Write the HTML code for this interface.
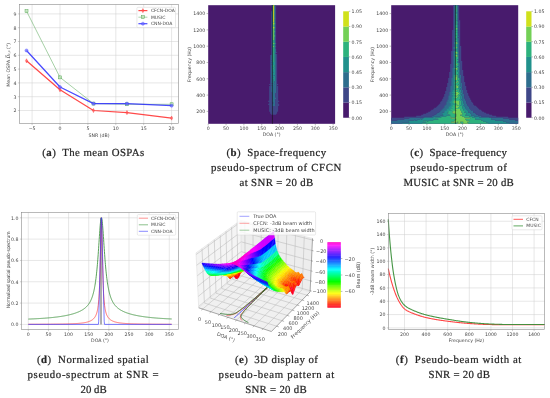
<!DOCTYPE html>
<html lang="en"><head><meta charset="utf-8"><title>Figure</title>
<style>html,body{margin:0;padding:0;background:#fff}svg{display:block}.k text{stroke:none}.k text.c{stroke:#262626;stroke-width:.22px}</style></head>
<body>
<svg width="550" height="398" viewBox="0 0 550 398" font-family='"DejaVu Sans","Liberation Sans",sans-serif' class="k" text-rendering="geometricPrecision">
<defs><clipPath id="ca"><rect x="19.5" y="4.5" width="159" height="119"/></clipPath></defs>
<rect x="19.5" y="4.5" width="159" height="119" fill="#fff"/>
<line x1="32.1" y1="4.5" x2="32.1" y2="123.5" stroke="#cfcfcf" stroke-width="0.5"/>
<line x1="60" y1="4.5" x2="60" y2="123.5" stroke="#cfcfcf" stroke-width="0.5"/>
<line x1="87.9" y1="4.5" x2="87.9" y2="123.5" stroke="#cfcfcf" stroke-width="0.5"/>
<line x1="115.8" y1="4.5" x2="115.8" y2="123.5" stroke="#cfcfcf" stroke-width="0.5"/>
<line x1="143.7" y1="4.5" x2="143.7" y2="123.5" stroke="#cfcfcf" stroke-width="0.5"/>
<line x1="171.6" y1="4.5" x2="171.6" y2="123.5" stroke="#cfcfcf" stroke-width="0.5"/>
<line x1="19.5" y1="110.5" x2="178.5" y2="110.5" stroke="#cfcfcf" stroke-width="0.5"/>
<line x1="19.5" y1="96.7" x2="178.5" y2="96.7" stroke="#cfcfcf" stroke-width="0.5"/>
<line x1="19.5" y1="82.9" x2="178.5" y2="82.9" stroke="#cfcfcf" stroke-width="0.5"/>
<line x1="19.5" y1="69.1" x2="178.5" y2="69.1" stroke="#cfcfcf" stroke-width="0.5"/>
<line x1="19.5" y1="55.3" x2="178.5" y2="55.3" stroke="#cfcfcf" stroke-width="0.5"/>
<line x1="19.5" y1="41.5" x2="178.5" y2="41.5" stroke="#cfcfcf" stroke-width="0.5"/>
<line x1="19.5" y1="27.7" x2="178.5" y2="27.7" stroke="#cfcfcf" stroke-width="0.5"/>
<line x1="19.5" y1="13.9" x2="178.5" y2="13.9" stroke="#cfcfcf" stroke-width="0.5"/>
<line x1="32.1" y1="123.5" x2="32.1" y2="125.1" stroke="#8a8a8a" stroke-width="0.4"/>
<line x1="60" y1="123.5" x2="60" y2="125.1" stroke="#8a8a8a" stroke-width="0.4"/>
<line x1="87.9" y1="123.5" x2="87.9" y2="125.1" stroke="#8a8a8a" stroke-width="0.4"/>
<line x1="115.8" y1="123.5" x2="115.8" y2="125.1" stroke="#8a8a8a" stroke-width="0.4"/>
<line x1="143.7" y1="123.5" x2="143.7" y2="125.1" stroke="#8a8a8a" stroke-width="0.4"/>
<line x1="171.6" y1="123.5" x2="171.6" y2="125.1" stroke="#8a8a8a" stroke-width="0.4"/>
<line x1="17.9" y1="110.5" x2="19.5" y2="110.5" stroke="#8a8a8a" stroke-width="0.4"/>
<line x1="17.9" y1="96.7" x2="19.5" y2="96.7" stroke="#8a8a8a" stroke-width="0.4"/>
<line x1="17.9" y1="82.9" x2="19.5" y2="82.9" stroke="#8a8a8a" stroke-width="0.4"/>
<line x1="17.9" y1="69.1" x2="19.5" y2="69.1" stroke="#8a8a8a" stroke-width="0.4"/>
<line x1="17.9" y1="55.3" x2="19.5" y2="55.3" stroke="#8a8a8a" stroke-width="0.4"/>
<line x1="17.9" y1="41.5" x2="19.5" y2="41.5" stroke="#8a8a8a" stroke-width="0.4"/>
<line x1="17.9" y1="27.7" x2="19.5" y2="27.7" stroke="#8a8a8a" stroke-width="0.4"/>
<line x1="17.9" y1="13.9" x2="19.5" y2="13.9" stroke="#8a8a8a" stroke-width="0.4"/>
<text x="32.1" y="130.4" font-size="4.7" text-anchor="middle" fill="#484848">−5</text>
<text x="60" y="130.4" font-size="4.7" text-anchor="middle" fill="#484848">0</text>
<text x="87.9" y="130.4" font-size="4.7" text-anchor="middle" fill="#484848">5</text>
<text x="115.8" y="130.4" font-size="4.7" text-anchor="middle" fill="#484848">10</text>
<text x="143.7" y="130.4" font-size="4.7" text-anchor="middle" fill="#484848">15</text>
<text x="171.6" y="130.4" font-size="4.7" text-anchor="middle" fill="#484848">20</text>
<text x="16.5" y="112.3" font-size="4.7" text-anchor="end" fill="#484848">2</text>
<text x="16.5" y="98.5" font-size="4.7" text-anchor="end" fill="#484848">3</text>
<text x="16.5" y="84.7" font-size="4.7" text-anchor="end" fill="#484848">4</text>
<text x="16.5" y="70.9" font-size="4.7" text-anchor="end" fill="#484848">5</text>
<text x="16.5" y="57.1" font-size="4.7" text-anchor="end" fill="#484848">6</text>
<text x="16.5" y="43.3" font-size="4.7" text-anchor="end" fill="#484848">7</text>
<text x="16.5" y="29.5" font-size="4.7" text-anchor="end" fill="#484848">8</text>
<text x="16.5" y="15.7" font-size="4.7" text-anchor="end" fill="#484848">9</text>
<text x="99" y="136.6" font-size="4.7" text-anchor="middle" fill="#484848">SNR (dB)</text>
<text transform="translate(9.5 64.8) rotate(-90)" font-size="4.7" text-anchor="middle" fill="#484848" textLength="44">Mean OSPA <tspan font-style="italic">D̅</tspan><tspan font-size="2.8" dy="0.9" font-style="italic">c,p</tspan><tspan dy="-0.9"> (°)</tspan></text>
<g clip-path="url(#ca)">
<polyline points="26.52,60.82 60,89.8 93.48,110.5 126.96,112.57 171.6,118.09" fill="none" stroke="#ff2a2a" stroke-width="1.25" stroke-opacity="0.85" stroke-linejoin="round"/>
<path d="M26.52 58.72L27.62 60.82L26.52 62.92L25.42 60.82Z" fill="#ff5a5a" fill-opacity="0.75" stroke="#ff2a2a" stroke-width="0.35"/>
<path d="M60 87.7L61.1 89.8L60 91.9L58.9 89.8Z" fill="#ff5a5a" fill-opacity="0.75" stroke="#ff2a2a" stroke-width="0.35"/>
<path d="M93.48 108.4L94.58 110.5L93.48 112.6L92.38 110.5Z" fill="#ff5a5a" fill-opacity="0.75" stroke="#ff2a2a" stroke-width="0.35"/>
<path d="M126.96 110.47L128.06 112.57L126.96 114.67L125.86 112.57Z" fill="#ff5a5a" fill-opacity="0.75" stroke="#ff2a2a" stroke-width="0.35"/>
<path d="M171.6 115.99L172.7 118.09L171.6 120.19L170.5 118.09Z" fill="#ff5a5a" fill-opacity="0.75" stroke="#ff2a2a" stroke-width="0.35"/>
<polyline points="26.52,11.14 60,77.38 93.48,103.6 126.96,104.29 171.6,104.29" fill="none" stroke="#3c9a3c" stroke-width="0.5" stroke-opacity="0.9" stroke-linejoin="round"/>
<rect x="25.02" y="9.64" width="3" height="3" fill="#b8e0b0" stroke="#4aa04a" stroke-width="0.45" fill-opacity="0.7"/>
<rect x="58.5" y="75.88" width="3" height="3" fill="#b8e0b0" stroke="#4aa04a" stroke-width="0.45" fill-opacity="0.7"/>
<rect x="91.98" y="102.1" width="3" height="3" fill="#b8e0b0" stroke="#4aa04a" stroke-width="0.45" fill-opacity="0.7"/>
<rect x="125.46" y="102.79" width="3" height="3" fill="#b8e0b0" stroke="#4aa04a" stroke-width="0.45" fill-opacity="0.7"/>
<rect x="170.1" y="102.79" width="3" height="3" fill="#b8e0b0" stroke="#4aa04a" stroke-width="0.45" fill-opacity="0.7"/>
<polyline points="26.52,50.47 60,87.04 93.48,103.6 126.96,103.6 171.6,105.67" fill="none" stroke="#2a2aff" stroke-width="1.25" stroke-opacity="0.85" stroke-linejoin="round"/>
<circle cx="26.52" cy="50.47" r="1.55" fill="#6a6aff" fill-opacity="0.7" stroke="#3a3aff" stroke-width="0.35"/>
<circle cx="60" cy="87.04" r="1.55" fill="#6a6aff" fill-opacity="0.7" stroke="#3a3aff" stroke-width="0.35"/>
<circle cx="93.48" cy="103.6" r="1.55" fill="#6a6aff" fill-opacity="0.7" stroke="#3a3aff" stroke-width="0.35"/>
<circle cx="126.96" cy="103.6" r="1.55" fill="#6a6aff" fill-opacity="0.7" stroke="#3a3aff" stroke-width="0.35"/>
<circle cx="171.6" cy="105.67" r="1.55" fill="#6a6aff" fill-opacity="0.7" stroke="#3a3aff" stroke-width="0.35"/>
</g>
<rect x="19.5" y="4.5" width="159" height="119" fill="none" stroke="#8a8a8a" stroke-width="0.6"/>
<rect x="136.9" y="7.3" width="38.6" height="20.3" fill="#fff" stroke="#d4d4d4" stroke-width="0.5" rx="1" fill-opacity="0.85"/>
<line x1="138.4" y1="10.6" x2="147.4" y2="10.6" stroke="#ff2a2a" stroke-width="1.2" stroke-opacity="0.85"/>
<text x="150.9" y="12.1" font-size="4.5" fill="#484848">CFCN-DOA</text>
<line x1="138.4" y1="17.2" x2="147.4" y2="17.2" stroke="#3c9a3c" stroke-width="0.5" stroke-opacity="0.85"/>
<text x="150.9" y="18.7" font-size="4.5" fill="#484848">MUSIC</text>
<line x1="138.4" y1="23.7" x2="147.4" y2="23.7" stroke="#2a2aff" stroke-width="1.2" stroke-opacity="0.85"/>
<text x="150.9" y="25.2" font-size="4.5" fill="#484848">CNN-DOA</text>
<path d="M142.9 8.5L144 10.6L142.9 12.7L141.8 10.6Z" fill="#ff5a5a" fill-opacity="0.75" stroke="#ff2a2a" stroke-width="0.35"/>
<rect x="141.4" y="15.7" width="3" height="3" fill="#b8e0b0" stroke="#4aa04a" stroke-width="0.45" fill-opacity="0.7"/>
<circle cx="142.9" cy="23.7" r="1.55" fill="#6a6aff" fill-opacity="0.7" stroke="#3a3aff" stroke-width="0.35"/>
<rect x="208.2" y="5.2" width="126.9" height="118.6" fill="#481b6d"/>
<path d="M271.15 5.7h1M275.15 5.7h1M275.15 6.69h1M275.15 7.69h1M275.15 8.69h1M275.15 9.68h1M275.15 10.68h1M271.15 11.68h1M275.15 11.68h1M271.15 12.67h1M275.15 12.67h1M271.15 13.67h1M275.15 13.67h1M271.15 14.67h1M275.15 14.67h1M271.15 15.66h1M275.15 15.66h1M271.15 16.66h1M275.15 16.66h1M271.15 17.66h1M275.15 17.66h1M271.15 18.65h1M275.15 18.65h1M271.15 19.65h1M275.15 19.65h1M271.15 20.65h1M275.15 20.65h1M271.15 21.64h1M275.15 21.64h1M271.15 22.64h1M275.15 22.64h1M271.15 23.64h1M275.15 23.64h1M271.15 24.63h1M275.15 24.63h1M271.15 25.63h1M275.15 25.63h1M271.15 26.63h1M275.15 26.63h1M271.15 27.62h1M275.15 27.62h1M271.15 28.62h1M275.15 28.62h1M271.15 29.62h1M275.15 29.62h1M271.15 30.61h1M275.15 30.61h1M271.15 31.61h1M275.15 31.61h1M271.15 32.61h1M275.15 32.61h1M271.15 33.6h1M275.15 33.6h1M271.15 34.6h1M275.15 34.6h1M271.15 35.6h1M275.15 35.6h1M271.15 36.59h1M275.15 36.59h1M271.15 37.59h1M275.15 37.59h1M271.15 38.59h1M275.15 38.59h1M271.15 39.58h1M275.15 39.58h1M271.15 40.58h1M275.15 40.58h1M271.15 41.58h1M275.15 41.58h1M271.15 42.57h1M275.15 42.57h1M271.15 43.57h1M271.15 44.57h1M275.15 44.57h1M271.15 45.56h1M275.15 45.56h1M271.15 46.56h1M271.15 47.56h1M275.15 47.56h1M271.15 48.55h1M275.15 48.55h1M271.15 49.55h1M271.15 50.55h1M271.15 51.54h1M271.15 52.54h1M276.15 52.54h1M271.15 53.54h1M275.15 53.54h1M271.15 54.53h1M276.15 54.53h1M270.15 55.53h1M276.15 55.53h1M270.15 56.53h1M276.15 56.53h1M270.15 57.52h1M276.15 57.52h1M270.15 58.52h1M276.15 58.52h1M270.15 59.52h1M276.15 59.52h1M270.15 60.51h2M276.15 60.51h1M270.15 61.51h1M276.15 61.51h1M270.15 62.51h2M276.15 62.51h1M270.15 63.5h1M276.15 63.5h1M270.15 64.5h2M276.15 64.5h1M270.15 65.5h1M276.15 65.5h1M270.15 66.49h1M276.15 66.49h1M270.15 67.49h1M276.15 67.49h1M270.15 68.49h1M276.15 68.49h1M270.15 69.48h1M276.15 69.48h1M270.15 70.48h1M276.15 70.48h1M270.15 71.48h1M276.15 71.48h1M270.15 72.47h1M276.15 72.47h1M270.15 73.47h1M276.15 73.47h1M270.15 74.47h1M276.15 74.47h1M270.15 75.46h1M276.15 75.46h1M270.15 76.46h1M276.15 76.46h1M270.15 77.46h1M276.15 77.46h1M270.15 78.45h1M276.15 78.45h1M270.15 79.45h1M276.15 79.45h1M270.15 80.45h1M276.15 80.45h1M270.15 81.44h1M276.15 81.44h1M270.15 82.44h1M276.15 82.44h1M270.15 83.44h2M276.15 83.44h1M269.15 84.43h2M276.15 84.43h2M270.15 85.43h2M276.15 85.43h1M269.15 86.43h2M276.15 86.43h2M269.15 87.42h2M276.15 87.42h2M269.15 88.42h2M276.15 88.42h2M269.15 89.42h2M276.15 89.42h2M269.15 90.41h2M276.15 90.41h2M269.15 91.41h2M276.15 91.41h2M269.15 92.41h3M276.15 92.41h2M269.15 93.4h3M275.15 93.4h3M269.15 94.4h3M275.15 94.4h3M269.15 95.4h3M275.15 95.4h3M269.15 96.39h3M275.15 96.39h3M269.15 97.39h3M275.15 97.39h3M269.15 98.39h3M276.15 98.39h2M269.15 99.38h3M275.15 99.38h3M269.15 100.38h3M275.15 100.38h3M268.15 101.38h4M275.15 101.38h4M269.15 102.37h4M275.15 102.37h3M269.15 103.37h4M275.15 103.37h3M268.15 104.37h4M275.15 104.37h4M269.15 105.36h3M275.15 105.36h4M269.15 106.36h8.99M269.15 107.36h8.99M269.15 108.35h8.99M269.15 109.35h8.99M269.15 110.35h8.99M269.15 111.34h8.99M270.15 112.34h6.99M270.15 113.34h6.99M271.15 114.33h5" stroke="#3f4788" stroke-width="1.05" fill="none"/>
<path d="M275.15 43.57h1M275.15 46.56h1M275.15 49.55h1M275.15 50.55h1M275.15 51.54h1M275.15 52.54h1M275.15 54.53h1M271.15 55.53h1M275.15 55.53h1M271.15 56.53h1M275.15 56.53h1M271.15 57.52h1M275.15 57.52h1M271.15 58.52h1M275.15 58.52h1M271.15 59.52h1M275.15 59.52h1M275.15 60.51h1M271.15 61.51h1M275.15 61.51h1M275.15 62.51h1M271.15 63.5h1M275.15 63.5h1M275.15 64.5h1M271.15 65.5h1M275.15 65.5h1M271.15 66.49h1M275.15 66.49h1M271.15 67.49h1M275.15 67.49h1M271.15 68.49h1M275.15 68.49h1M271.15 69.48h1M275.15 69.48h1M271.15 70.48h1M275.15 70.48h1M271.15 71.48h1M275.15 71.48h1M271.15 72.47h2M275.15 72.47h1M271.15 73.47h1M275.15 73.47h1M271.15 74.47h1M275.15 74.47h1M271.15 75.46h2M274.15 75.46h2M271.15 76.46h1M275.15 76.46h1M271.15 77.46h2M275.15 77.46h1M271.15 78.45h1M275.15 78.45h1M271.15 79.45h2M275.15 79.45h1M271.15 80.45h2M275.15 80.45h1M271.15 81.44h2M274.15 81.44h2M271.15 82.44h2M274.15 82.44h2M272.15 83.44h4M271.15 84.43h2M274.15 84.43h2M272.15 85.43h4M271.15 86.43h5M271.15 87.42h5M271.15 88.42h5M271.15 89.42h5M271.15 90.41h5M271.15 91.41h5M272.15 92.41h4M272.15 93.4h3M272.15 94.4h3M272.15 95.4h3M272.15 96.39h3M272.15 97.39h3M272.15 98.39h4M272.15 99.38h3M272.15 100.38h3M272.15 101.38h3M273.15 102.37h2M273.15 103.37h2M272.15 104.37h3M272.15 105.36h3" stroke="#2e6e8e" stroke-width="1.05" fill="none"/>
<path d="M272.15 5.7h1M272.15 6.69h1M274.15 6.69h1M272.15 7.69h1M274.15 7.69h1M272.15 8.69h1M274.15 8.69h1M272.15 9.68h1M274.15 9.68h1M272.15 10.68h1M274.15 10.68h1M272.15 11.68h1M274.15 11.68h1M272.15 12.67h1M274.15 12.67h1M272.15 13.67h1M274.15 13.67h1M272.15 14.67h1M274.15 14.67h1M272.15 15.66h1M274.15 15.66h1M272.15 16.66h1M274.15 16.66h1M272.15 17.66h1M274.15 17.66h1M272.15 18.65h1M272.15 19.65h1M274.15 19.65h1M272.15 20.65h1M274.15 20.65h1M272.15 21.64h1M274.15 21.64h1M272.15 22.64h1M274.15 22.64h1M272.15 23.64h1M272.15 24.63h1M274.15 24.63h1M272.15 25.63h1M274.15 25.63h1M272.15 26.63h1M274.15 26.63h1M272.15 27.62h1M272.15 28.62h1M274.15 28.62h1M272.15 29.62h1M274.15 29.62h1M272.15 30.61h1M274.15 30.61h1M272.15 31.61h1M272.15 32.61h1M274.15 32.61h1M272.15 33.6h1M274.15 33.6h1M272.15 34.6h1M274.15 34.6h1M272.15 35.6h1M272.15 36.59h1M272.15 37.59h1M274.15 37.59h1M272.15 38.59h1M274.15 38.59h1M272.15 39.58h1M274.15 39.58h1M272.15 40.58h1M274.15 40.58h1M272.15 41.58h1M274.15 41.58h1M272.15 42.57h1M274.15 42.57h1M272.15 43.57h1M272.15 44.57h1M274.15 44.57h1M272.15 45.56h1M274.15 45.56h1M272.15 46.56h1M274.15 46.56h1M272.15 47.56h1M274.15 47.56h1M272.15 48.55h1M274.15 48.55h1M272.15 49.55h1M274.15 49.55h1M272.15 50.55h1M274.15 50.55h1M272.15 51.54h1M274.15 51.54h1M272.15 52.54h1M274.15 52.54h1M272.15 53.54h1M274.15 53.54h1M272.15 54.53h1M274.15 54.53h1M272.15 55.53h1M274.15 55.53h1M272.15 56.53h1M274.15 56.53h1M272.15 57.52h1M274.15 57.52h1M272.15 58.52h1M274.15 58.52h1M272.15 59.52h1M274.15 59.52h1M272.15 60.51h1M274.15 60.51h1M272.15 61.51h1M274.15 61.51h1M272.15 62.51h3M272.15 63.5h3M272.15 64.5h3M272.15 65.5h1M274.15 65.5h1M272.15 66.49h1M274.15 66.49h1M272.15 67.49h3M272.15 68.49h1M274.15 68.49h1M272.15 69.48h3M272.15 70.48h3M272.15 71.48h3M273.15 72.47h2M272.15 73.47h3M272.15 74.47h3M273.15 75.46h1M272.15 76.46h3M273.15 77.46h2M272.15 78.45h3M273.15 79.45h2M273.15 80.45h2M273.15 81.44h1M273.15 82.44h1M273.15 84.43h1" stroke="#21918c" stroke-width="1.05" fill="none"/>
<path d="M274.15 5.7h1M274.15 18.65h1M274.15 23.64h1M274.15 27.62h1M274.15 31.61h1M274.15 35.6h1M274.15 36.59h1M273.15 40.58h1M273.15 41.58h1M273.15 42.57h1M274.15 43.57h1M273.15 44.57h1M273.15 45.56h1M273.15 47.56h1M273.15 48.55h1M273.15 49.55h1M273.15 50.55h1M273.15 51.54h1M273.15 52.54h1M273.15 53.54h1M273.15 54.53h1M273.15 55.53h1M273.15 56.53h1M273.15 57.52h1M273.15 58.52h1M273.15 59.52h1M273.15 60.51h1M273.15 61.51h1M273.15 65.5h1M273.15 66.49h1M273.15 68.49h1" stroke="#2db27d" stroke-width="1.05" fill="none"/>
<path d="M273.15 22.64h1M273.15 24.63h1M273.15 25.63h1M273.15 26.63h1M273.15 28.62h1M273.15 29.62h1M273.15 30.61h1M273.15 31.61h1M273.15 32.61h1M273.15 33.6h1M273.15 34.6h1M273.15 35.6h1M273.15 36.59h1M273.15 37.59h1M273.15 38.59h1M273.15 39.58h1M273.15 43.57h1M273.15 46.56h1" stroke="#73d056" stroke-width="1.05" fill="none"/>
<path d="M273.15 5.7h1M273.15 6.69h1M273.15 7.69h1M273.15 8.69h1M273.15 9.68h1M273.15 10.68h1M273.15 11.68h1M273.15 12.67h1M273.15 13.67h1M273.15 14.67h1M273.15 15.66h1M273.15 16.66h1M273.15 17.66h1M273.15 18.65h1M273.15 19.65h1M273.15 20.65h1M273.15 21.64h1M273.15 23.64h1M273.15 27.62h1" stroke="#d0e11c" stroke-width="1.05" fill="none"/>
<line x1="272.46" y1="5.2" x2="272.46" y2="123.8" stroke="#101010" stroke-width="0.55"/>
<line x1="208.2" y1="123.8" x2="208.2" y2="125.4" stroke="#555" stroke-width="0.4"/>
<text x="208.2" y="130.2" font-size="4.7" text-anchor="middle" fill="#484848">0</text>
<line x1="226.05" y1="123.8" x2="226.05" y2="125.4" stroke="#555" stroke-width="0.4"/>
<text x="226.05" y="130.2" font-size="4.7" text-anchor="middle" fill="#484848">50</text>
<line x1="243.9" y1="123.8" x2="243.9" y2="125.4" stroke="#555" stroke-width="0.4"/>
<text x="243.9" y="130.2" font-size="4.7" text-anchor="middle" fill="#484848">100</text>
<line x1="261.75" y1="123.8" x2="261.75" y2="125.4" stroke="#555" stroke-width="0.4"/>
<text x="261.75" y="130.2" font-size="4.7" text-anchor="middle" fill="#484848">150</text>
<line x1="279.6" y1="123.8" x2="279.6" y2="125.4" stroke="#555" stroke-width="0.4"/>
<text x="279.6" y="130.2" font-size="4.7" text-anchor="middle" fill="#484848">200</text>
<line x1="297.45" y1="123.8" x2="297.45" y2="125.4" stroke="#555" stroke-width="0.4"/>
<text x="297.45" y="130.2" font-size="4.7" text-anchor="middle" fill="#484848">250</text>
<line x1="315.3" y1="123.8" x2="315.3" y2="125.4" stroke="#555" stroke-width="0.4"/>
<text x="315.3" y="130.2" font-size="4.7" text-anchor="middle" fill="#484848">300</text>
<line x1="333.15" y1="123.8" x2="333.15" y2="125.4" stroke="#555" stroke-width="0.4"/>
<text x="333.15" y="130.2" font-size="4.7" text-anchor="middle" fill="#484848">350</text>
<line x1="206.6" y1="111.4" x2="208.2" y2="111.4" stroke="#555" stroke-width="0.4"/>
<text x="205.2" y="113.2" font-size="4.7" text-anchor="end" fill="#484848">200</text>
<line x1="206.6" y1="95.1" x2="208.2" y2="95.1" stroke="#555" stroke-width="0.4"/>
<text x="205.2" y="96.9" font-size="4.7" text-anchor="end" fill="#484848">400</text>
<line x1="206.6" y1="78.8" x2="208.2" y2="78.8" stroke="#555" stroke-width="0.4"/>
<text x="205.2" y="80.6" font-size="4.7" text-anchor="end" fill="#484848">600</text>
<line x1="206.6" y1="62.5" x2="208.2" y2="62.5" stroke="#555" stroke-width="0.4"/>
<text x="205.2" y="64.3" font-size="4.7" text-anchor="end" fill="#484848">800</text>
<line x1="206.6" y1="46.2" x2="208.2" y2="46.2" stroke="#555" stroke-width="0.4"/>
<text x="205.2" y="48" font-size="4.7" text-anchor="end" fill="#484848">1000</text>
<line x1="206.6" y1="29.9" x2="208.2" y2="29.9" stroke="#555" stroke-width="0.4"/>
<text x="205.2" y="31.7" font-size="4.7" text-anchor="end" fill="#484848">1200</text>
<line x1="206.6" y1="13.6" x2="208.2" y2="13.6" stroke="#555" stroke-width="0.4"/>
<text x="205.2" y="15.4" font-size="4.7" text-anchor="end" fill="#484848">1400</text>
<text x="271.65" y="136.3" font-size="4.7" text-anchor="middle" fill="#484848">DOA (°)</text>
<text transform="translate(191.2 64.5) rotate(-90)" font-size="4.7" text-anchor="middle" fill="#484848">Frequency (Hz)</text>
<rect x="343.2" y="102.5" width="5.7" height="15.25" fill="#481b6d"/>
<rect x="343.2" y="87.3" width="5.7" height="15.25" fill="#3f4788"/>
<rect x="343.2" y="72.1" width="5.7" height="15.25" fill="#2e6e8e"/>
<rect x="343.2" y="56.9" width="5.7" height="15.25" fill="#21918c"/>
<rect x="343.2" y="41.7" width="5.7" height="15.25" fill="#2db27d"/>
<rect x="343.2" y="26.5" width="5.7" height="15.25" fill="#73d056"/>
<rect x="343.2" y="11.3" width="5.7" height="15.25" fill="#d0e11c"/>
<line x1="348.9" y1="117.7" x2="350.3" y2="117.7" stroke="#555" stroke-width="0.4"/>
<text x="351.5" y="119.5" font-size="4.7" fill="#484848">0.00</text>
<line x1="348.9" y1="102.5" x2="350.3" y2="102.5" stroke="#555" stroke-width="0.4"/>
<text x="351.5" y="104.3" font-size="4.7" fill="#484848">0.15</text>
<line x1="348.9" y1="87.3" x2="350.3" y2="87.3" stroke="#555" stroke-width="0.4"/>
<text x="351.5" y="89.1" font-size="4.7" fill="#484848">0.30</text>
<line x1="348.9" y1="72.1" x2="350.3" y2="72.1" stroke="#555" stroke-width="0.4"/>
<text x="351.5" y="73.9" font-size="4.7" fill="#484848">0.45</text>
<line x1="348.9" y1="56.9" x2="350.3" y2="56.9" stroke="#555" stroke-width="0.4"/>
<text x="351.5" y="58.7" font-size="4.7" fill="#484848">0.60</text>
<line x1="348.9" y1="41.7" x2="350.3" y2="41.7" stroke="#555" stroke-width="0.4"/>
<text x="351.5" y="43.5" font-size="4.7" fill="#484848">0.75</text>
<line x1="348.9" y1="26.5" x2="350.3" y2="26.5" stroke="#555" stroke-width="0.4"/>
<text x="351.5" y="28.3" font-size="4.7" fill="#484848">0.90</text>
<line x1="348.9" y1="11.3" x2="350.3" y2="11.3" stroke="#555" stroke-width="0.4"/>
<text x="351.5" y="13.1" font-size="4.7" fill="#484848">1.05</text>
<rect x="391.2" y="5.2" width="127" height="118.6" fill="#481b6d"/>
<path d="M453.2 5.7h1M458.2 5.7h1M453.2 6.69h1M458.2 6.69h1M453.2 7.69h1M458.2 7.69h1M453.2 8.69h1M458.2 8.69h1M453.2 9.68h1M458.2 9.68h1M453.2 10.68h1M458.2 10.68h1M453.2 11.68h1M458.2 11.68h1M453.2 12.67h1M458.2 12.67h1M453.2 13.67h1M458.2 13.67h1M453.2 14.67h1M458.2 14.67h1M453.2 15.66h1M458.2 15.66h1M453.2 16.66h1M458.2 16.66h1M453.2 17.66h1M458.2 17.66h1M453.2 18.65h1M458.2 18.65h1M453.2 19.65h1M458.2 19.65h1M453.2 20.65h1M458.2 20.65h2M453.2 21.64h1M458.2 21.64h2M453.2 22.64h1M458.2 22.64h2M453.2 23.64h1M458.2 23.64h2M453.2 24.63h1M458.2 24.63h2M453.2 25.63h1M458.2 25.63h2M453.2 26.63h1M458.2 26.63h2M453.2 27.62h1M458.2 27.62h2M453.2 28.62h1M458.2 28.62h2M453.2 29.62h1M458.2 29.62h2M452.2 30.61h2M458.2 30.61h2M452.2 31.61h2M458.2 31.61h2M452.2 32.61h2M458.2 32.61h2M452.2 33.6h2M458.2 33.6h2M452.2 34.6h2M458.2 34.6h2M452.2 35.6h2M458.2 35.6h2M452.2 36.59h2M459.2 36.59h1M452.2 37.59h2M458.2 37.59h2M452.2 38.59h2M459.2 38.59h1M452.2 39.58h2M459.2 39.58h1M452.2 40.58h2M459.2 40.58h1M452.2 41.58h2M459.2 41.58h1M452.2 42.57h2M459.2 42.57h1M452.2 43.57h2M459.2 43.57h1M452.2 44.57h2M459.2 44.57h1M452.2 45.56h2M459.2 45.56h1M452.2 46.56h2M459.2 46.56h2M452.2 47.56h1M459.2 47.56h2M452.2 48.55h1M459.2 48.55h2M452.2 49.55h2M459.2 49.55h2M452.2 50.55h2M459.2 50.55h2M451.2 51.54h2M459.2 51.54h2M451.2 52.54h2M459.2 52.54h2M451.2 53.54h2M459.2 53.54h2M451.2 54.53h2M459.2 54.53h2M451.2 55.53h2M459.2 55.53h2M451.2 56.53h2M459.2 56.53h2M451.2 57.52h2M459.2 57.52h2M451.2 58.52h2M459.2 58.52h2M451.2 59.52h2M459.2 59.52h2M451.2 60.51h2M459.2 60.51h2M451.2 61.51h2M459.2 61.51h3M451.2 62.51h2M459.2 62.51h3M451.2 63.5h2M460.2 63.5h2M450.2 64.5h3M460.2 64.5h2M450.2 65.5h3M460.2 65.5h2M450.2 66.49h3M460.2 66.49h2M450.2 67.49h3M460.2 67.49h2M450.2 68.49h2M460.2 68.49h2M450.2 69.48h2M460.2 69.48h2M450.2 70.48h2M460.2 70.48h3M450.2 71.48h2M460.2 71.48h3M449.2 72.47h3M460.2 72.47h3M449.2 73.47h3M460.2 73.47h3M449.2 74.47h3M460.2 74.47h3M449.2 75.46h3M461.2 75.46h2M449.2 76.46h3M461.2 76.46h3M449.2 77.46h3M461.2 77.46h3M448.2 78.45h3M461.2 78.45h3M448.2 79.45h3M461.2 79.45h3M448.2 80.45h3M461.2 80.45h3M448.2 81.44h3M461.2 81.44h3M448.2 82.44h3M461.2 82.44h4M447.2 83.44h4M462.2 83.44h3M447.2 84.43h4M462.2 84.43h3M447.2 85.43h4M462.2 85.43h3M447.2 86.43h3M462.2 86.43h4M446.2 87.42h4M462.2 87.42h4M446.2 88.42h4M462.2 88.42h4M446.2 89.42h4M462.2 89.42h4M446.2 90.41h4M463.2 90.41h4M445.2 91.41h5M463.2 91.41h4M445.2 92.41h4M463.2 92.41h4M445.2 93.4h4M463.2 93.4h5M444.2 94.4h5M464.2 94.4h4M444.2 95.4h5M464.2 95.4h4M444.2 96.39h4M464.2 96.39h5M443.2 97.39h5M464.2 97.39h5M443.2 98.39h5M464.2 98.39h6M442.2 99.38h6M465.2 99.38h5M442.2 100.38h5M465.2 100.38h6M441.2 101.38h6M466.2 101.38h5M440.2 102.37h6M466.2 102.37h6M440.2 103.37h6M466.2 103.37h7M439.2 104.37h7M467.2 104.37h6M438.2 105.36h7M467.2 105.36h7M437.2 106.36h7M468.2 106.36h8M436.2 107.36h8M469.2 107.36h8M434.2 108.35h9M469.2 108.35h9M433.2 109.35h9M470.2 109.35h9M431.2 110.35h10M471.2 110.35h10M430.2 111.34h10M473.2 111.34h9M428.2 112.34h11M473.2 112.34h11M426.2 113.34h11M475.2 113.34h11M423.2 114.33h13M476.2 114.33h13M421.2 115.33h13M478.2 115.33h14M416.2 116.33h16M481.2 116.33h15M404.2 117.32h20M489.2 117.32h19M391.2 118.32h18M503.2 118.32h15M391.2 119.32h13M509.2 119.32h9M391.2 120.31h6M515.2 120.31h3" stroke="#3f4788" stroke-width="1.05" fill="none"/>
<path d="M454.2 5.7h1M457.2 5.7h1M454.2 6.69h1M457.2 6.69h1M454.2 7.69h1M457.2 7.69h1M454.2 8.69h1M457.2 8.69h1M454.2 9.68h1M457.2 9.68h1M454.2 10.68h1M457.2 10.68h1M454.2 11.68h1M457.2 11.68h1M454.2 12.67h1M457.2 12.67h1M454.2 13.67h1M457.2 13.67h1M454.2 14.67h1M457.2 14.67h1M454.2 15.66h1M457.2 15.66h1M454.2 16.66h1M457.2 16.66h1M454.2 17.66h1M454.2 18.65h1M457.2 18.65h1M454.2 19.65h1M457.2 19.65h1M454.2 20.65h1M457.2 20.65h1M454.2 21.64h1M457.2 21.64h1M454.2 22.64h1M454.2 23.64h1M457.2 23.64h1M454.2 24.63h1M457.2 24.63h1M454.2 25.63h1M454.2 26.63h1M454.2 27.62h1M457.2 27.62h1M454.2 28.62h1M454.2 29.62h1M454.2 30.61h1M457.2 30.61h1M454.2 31.61h1M454.2 32.61h1M457.2 32.61h1M454.2 33.6h1M454.2 34.6h1M454.2 35.6h1M454.2 36.59h1M458.2 36.59h1M454.2 37.59h1M457.2 37.59h1M454.2 38.59h1M458.2 38.59h1M454.2 39.58h1M458.2 39.58h1M454.2 40.58h1M458.2 40.58h1M454.2 41.58h1M458.2 41.58h1M458.2 42.57h1M458.2 43.57h1M454.2 44.57h1M458.2 44.57h1M454.2 45.56h1M458.2 45.56h1M454.2 46.56h1M458.2 46.56h1M453.2 47.56h1M458.2 47.56h1M453.2 48.55h2M458.2 48.55h1M454.2 49.55h1M458.2 49.55h1M454.2 50.55h1M458.2 50.55h1M453.2 51.54h2M458.2 51.54h1M453.2 52.54h1M458.2 52.54h1M453.2 53.54h1M458.2 53.54h1M453.2 54.53h1M458.2 54.53h1M453.2 55.53h1M458.2 55.53h1M453.2 56.53h1M458.2 56.53h1M453.2 57.52h1M458.2 57.52h1M453.2 58.52h1M458.2 58.52h1M453.2 59.52h1M458.2 59.52h1M453.2 60.51h1M458.2 60.51h1M453.2 61.51h1M458.2 61.51h1M453.2 62.51h1M458.2 62.51h1M453.2 63.5h1M459.2 63.5h1M453.2 64.5h1M459.2 64.5h1M453.2 65.5h1M459.2 65.5h1M453.2 66.49h1M458.2 66.49h2M453.2 67.49h1M459.2 67.49h1M452.2 68.49h2M459.2 68.49h1M452.2 69.48h2M459.2 69.48h1M452.2 70.48h2M459.2 70.48h1M452.2 71.48h2M459.2 71.48h1M452.2 72.47h2M459.2 72.47h1M452.2 73.47h2M459.2 73.47h1M452.2 74.47h2M459.2 74.47h1M452.2 75.46h1M459.2 75.46h2M452.2 76.46h1M459.2 76.46h2M452.2 77.46h1M459.2 77.46h2M451.2 78.45h2M460.2 78.45h1M451.2 79.45h2M460.2 79.45h1M451.2 80.45h2M460.2 80.45h1M451.2 81.44h2M460.2 81.44h1M451.2 82.44h2M460.2 82.44h1M451.2 83.44h2M460.2 83.44h2M451.2 84.43h2M460.2 84.43h2M451.2 85.43h2M460.2 85.43h2M450.2 86.43h3M460.2 86.43h2M450.2 87.42h3M461.2 87.42h1M450.2 88.42h3M460.2 88.42h2M450.2 89.42h3M460.2 89.42h2M450.2 90.41h2M461.2 90.41h2M450.2 91.41h2M461.2 91.41h2M449.2 92.41h2M461.2 92.41h2M449.2 93.4h3M462.2 93.4h1M449.2 94.4h2M461.2 94.4h3M449.2 95.4h3M461.2 95.4h3M448.2 96.39h4M462.2 96.39h2M448.2 97.39h3M462.2 97.39h2M448.2 98.39h3M462.2 98.39h2M448.2 99.38h3M461.2 99.38h4M447.2 100.38h4M462.2 100.38h3M447.2 101.38h3M463.2 101.38h3M446.2 102.37h3M463.2 102.37h3M446.2 103.37h4M463.2 103.37h3M446.2 104.37h4M464.2 104.37h3M445.2 105.36h5M463.2 105.36h4M444.2 106.36h5M464.2 106.36h4M444.2 107.36h4M465.2 107.36h4M443.2 108.35h5M465.2 108.35h4M442.2 109.35h4M466.2 109.35h4M441.2 110.35h5M467.2 110.35h4M440.2 111.34h4M468.2 111.34h5M439.2 112.34h5M468.2 112.34h5M437.2 113.34h5M470.2 113.34h5M436.2 114.33h6M471.2 114.33h5M434.2 115.33h9M471.2 115.33h7M432.2 116.33h8M474.2 116.33h7M424.2 117.32h9M479.2 117.32h10M409.2 118.32h14M491.2 118.32h12M404.2 119.32h16M421.2 119.32h1M491.2 119.32h18M397.2 120.31h17M415.2 120.31h2M495.2 120.31h20M391.2 121.31h17M503.2 121.31h15M391.2 122.31h18M506.2 122.31h12M391.2 123.3h11M509.2 123.3h9" stroke="#2e6e8e" stroke-width="1.05" fill="none"/>
<path d="M455.2 5.7h1M455.2 6.69h1M455.2 7.69h1M455.2 8.69h1M455.2 9.68h1M455.2 10.68h1M455.2 11.68h1M455.2 12.67h2M455.2 13.67h1M455.2 15.66h1M455.2 16.66h1M455.2 17.66h1M457.2 17.66h1M455.2 18.65h1M455.2 19.65h1M455.2 20.65h2M455.2 21.64h1M455.2 22.64h1M457.2 22.64h1M455.2 23.64h1M455.2 24.63h1M457.2 25.63h1M457.2 26.63h1M455.2 27.62h1M457.2 28.62h1M457.2 29.62h1M455.2 30.61h1M457.2 31.61h1M455.2 32.61h1M457.2 33.6h1M457.2 34.6h1M455.2 35.6h1M457.2 35.6h1M457.2 36.59h1M455.2 38.59h1M457.2 38.59h1M455.2 39.58h1M457.2 39.58h1M457.2 40.58h1M455.2 41.58h1M457.2 41.58h1M454.2 42.57h1M457.2 42.57h1M454.2 43.57h1M457.2 44.57h1M457.2 45.56h1M457.2 46.56h1M454.2 47.56h1M457.2 47.56h1M457.2 48.55h1M455.2 49.55h1M457.2 49.55h1M455.2 50.55h1M457.2 50.55h1M457.2 51.54h1M454.2 52.54h1M454.2 53.54h1M454.2 54.53h1M457.2 54.53h1M454.2 55.53h1M454.2 56.53h1M454.2 57.52h1M454.2 58.52h1M454.2 59.52h1M457.2 59.52h1M454.2 60.51h1M454.2 61.51h1M457.2 61.51h1M454.2 62.51h1M457.2 62.51h1M454.2 63.5h1M458.2 63.5h1M454.2 64.5h1M458.2 64.5h1M454.2 65.5h1M458.2 65.5h1M454.2 66.49h1M457.2 66.49h1M454.2 67.49h2M458.2 67.49h1M458.2 68.49h1M454.2 69.48h1M458.2 69.48h1M454.2 70.48h1M457.2 70.48h2M454.2 71.48h1M457.2 71.48h2M454.2 72.47h1M458.2 72.47h1M454.2 73.47h1M458.2 73.47h1M454.2 74.47h1M457.2 74.47h2M453.2 75.46h1M458.2 75.46h1M453.2 76.46h1M458.2 76.46h1M453.2 77.46h1M458.2 77.46h1M453.2 78.45h1M459.2 78.45h1M453.2 79.45h1M459.2 79.45h1M453.2 80.45h2M458.2 80.45h2M453.2 81.44h2M459.2 81.44h1M453.2 82.44h1M459.2 82.44h1M453.2 83.44h1M459.2 83.44h1M453.2 84.43h2M458.2 84.43h2M453.2 85.43h1M459.2 85.43h1M453.2 86.43h1M459.2 86.43h1M453.2 87.42h1M459.2 87.42h2M453.2 88.42h1M458.2 88.42h2M453.2 89.42h2M459.2 89.42h1M452.2 90.41h2M459.2 90.41h2M452.2 91.41h2M459.2 91.41h2M451.2 92.41h2M460.2 92.41h1M452.2 93.4h2M460.2 93.4h2M451.2 94.4h2M460.2 94.4h1M452.2 95.4h2M459.2 95.4h2M452.2 96.39h2M460.2 96.39h2M451.2 97.39h2M460.2 97.39h2M451.2 98.39h3M460.2 98.39h2M451.2 99.38h3M459.2 99.38h2M451.2 100.38h2M460.2 100.38h2M450.2 101.38h2M461.2 101.38h2M449.2 102.37h3M461.2 102.37h2M450.2 103.37h3M461.2 103.37h2M450.2 104.37h4M461.2 104.37h3M450.2 105.36h2M460.2 105.36h3M449.2 106.36h3M462.2 106.36h2M448.2 107.36h3M462.2 107.36h3M448.2 108.35h4M462.2 108.35h3M446.2 109.35h4M463.2 109.35h3M446.2 110.35h5M463.2 110.35h4M444.2 111.34h4M465.2 111.34h3M444.2 112.34h4M464.2 112.34h4M442.2 113.34h5M466.2 113.34h4M442.2 114.33h6M466.2 114.33h5M443.2 115.33h7M465.2 115.33h6M440.2 116.33h6M469.2 116.33h5M433.2 117.32h8M472.2 117.32h7M423.2 118.32h12M475.2 118.32h16M420.2 119.32h1M422.2 119.32h16M475.2 119.32h16M414.2 120.31h1M417.2 120.31h16M481.2 120.31h14M408.2 121.31h15M427.2 121.31h1M483.2 121.31h20M409.2 122.31h17M486.2 122.31h20M402.2 123.3h20M488.2 123.3h21" stroke="#21918c" stroke-width="1.05" fill="none"/>
<path d="M456.2 5.7h1M456.2 6.69h1M456.2 7.69h1M456.2 8.69h1M456.2 9.68h1M456.2 10.68h1M456.2 11.68h1M456.2 13.67h1M455.2 14.67h2M456.2 15.66h1M456.2 16.66h1M456.2 17.66h1M456.2 18.65h1M456.2 19.65h1M456.2 21.64h1M456.2 22.64h1M456.2 23.64h1M456.2 24.63h1M455.2 25.63h2M455.2 26.63h2M456.2 27.62h1M455.2 28.62h1M455.2 29.62h2M456.2 30.61h1M455.2 31.61h2M456.2 32.61h1M455.2 33.6h2M455.2 34.6h2M456.2 35.6h1M455.2 36.59h2M455.2 37.59h2M456.2 38.59h1M456.2 39.58h1M455.2 40.58h2M456.2 41.58h1M455.2 42.57h1M455.2 43.57h1M457.2 43.57h1M455.2 44.57h2M455.2 45.56h2M455.2 46.56h2M455.2 47.56h1M455.2 48.55h2M456.2 49.55h1M456.2 50.55h1M455.2 51.54h2M457.2 52.54h1M455.2 53.54h1M457.2 53.54h1M455.2 54.53h2M457.2 55.53h1M455.2 56.53h1M457.2 56.53h1M455.2 57.52h3M455.2 58.52h3M455.2 59.52h2M455.2 60.51h3M455.2 61.51h2M455.2 62.51h2M455.2 63.5h3M455.2 64.5h1M457.2 64.5h1M455.2 65.5h3M455.2 66.49h2M456.2 67.49h2M454.2 68.49h1M457.2 68.49h1M455.2 69.48h1M457.2 69.48h1M455.2 70.48h2M455.2 71.48h2M455.2 72.47h3M455.2 73.47h3M455.2 74.47h2M454.2 75.46h2M457.2 75.46h1M454.2 76.46h2M457.2 76.46h1M454.2 77.46h1M457.2 77.46h1M454.2 78.45h1M457.2 78.45h2M454.2 79.45h1M457.2 79.45h2M455.2 80.45h3M455.2 81.44h2M458.2 81.44h1M454.2 82.44h2M457.2 82.44h2M454.2 83.44h5M455.2 84.43h3M454.2 85.43h2M457.2 85.43h2M454.2 86.43h2M458.2 86.43h1M454.2 87.42h2M458.2 87.42h1M454.2 88.42h4M455.2 89.42h4M454.2 90.41h2M457.2 90.41h2M454.2 91.41h5M453.2 92.41h2M458.2 92.41h2M454.2 93.4h2M459.2 93.4h1M453.2 94.4h2M458.2 94.4h2M454.2 95.4h2M457.2 95.4h2M454.2 96.39h3M458.2 96.39h2M453.2 97.39h2M457.2 97.39h3M454.2 98.39h6M454.2 99.38h5M453.2 100.38h7M452.2 101.38h2M459.2 101.38h2M452.2 102.37h2M459.2 102.37h2M453.2 103.37h3M459.2 103.37h2M454.2 104.37h3M459.2 104.37h2M452.2 105.36h4M457.2 105.36h3M452.2 106.36h3M459.2 106.36h3M451.2 107.36h4M458.2 107.36h4M452.2 108.35h10M450.2 109.35h5M460.2 109.35h3M451.2 110.35h5M460.2 110.35h3M448.2 111.34h5M461.2 111.34h4M448.2 112.34h4M461.2 112.34h3M447.2 113.34h6M462.2 113.34h4M448.2 114.33h8M462.2 114.33h4M450.2 115.33h6M460.2 115.33h5M446.2 116.33h10M462.2 116.33h7M441.2 117.32h9M451.2 117.32h4M464.2 117.32h8M435.2 118.32h16M470.2 118.32h5M438.2 119.32h18M465.2 119.32h10M433.2 120.31h22M466.2 120.31h15M423.2 121.31h4M428.2 121.31h26M469.2 121.31h14M426.2 122.31h25M457.2 122.31h1M460.2 122.31h3M467.2 122.31h19M422.2 123.3h35M461.2 123.3h2M468.2 123.3h20" stroke="#2db27d" stroke-width="1.05" fill="none"/>
<path d="M456.2 28.62h1M456.2 42.57h1M456.2 43.57h1M456.2 47.56h1M455.2 52.54h2M456.2 53.54h1M455.2 55.53h2M456.2 56.53h1M456.2 64.5h1M455.2 68.49h2M456.2 69.48h1M456.2 75.46h1M456.2 76.46h1M455.2 77.46h2M455.2 78.45h2M455.2 79.45h2M457.2 81.44h1M456.2 82.44h1M456.2 85.43h1M456.2 86.43h2M456.2 87.42h2M456.2 90.41h1M455.2 92.41h3M456.2 93.4h3M455.2 94.4h3M456.2 95.4h1M457.2 96.39h1M455.2 97.39h2M454.2 101.38h5M454.2 102.37h5M456.2 103.37h3M457.2 104.37h2M456.2 105.36h1M455.2 106.36h4M455.2 107.36h3M455.2 109.35h5M456.2 110.35h4M453.2 111.34h8M452.2 112.34h9M453.2 113.34h9M456.2 114.33h6M456.2 115.33h4M456.2 116.33h6M450.2 117.32h1M455.2 117.32h9M451.2 118.32h19M456.2 119.32h9M455.2 120.31h11M454.2 121.31h15M451.2 122.31h6M458.2 122.31h2M463.2 122.31h4M457.2 123.3h4M463.2 123.3h5" stroke="#73d056" stroke-width="1.05" fill="none"/>
<line x1="455.46" y1="5.2" x2="455.46" y2="123.8" stroke="#101010" stroke-width="0.55"/>
<line x1="391.2" y1="123.8" x2="391.2" y2="125.4" stroke="#555" stroke-width="0.4"/>
<text x="391.2" y="130.2" font-size="4.7" text-anchor="middle" fill="#484848">0</text>
<line x1="409.05" y1="123.8" x2="409.05" y2="125.4" stroke="#555" stroke-width="0.4"/>
<text x="409.05" y="130.2" font-size="4.7" text-anchor="middle" fill="#484848">50</text>
<line x1="426.9" y1="123.8" x2="426.9" y2="125.4" stroke="#555" stroke-width="0.4"/>
<text x="426.9" y="130.2" font-size="4.7" text-anchor="middle" fill="#484848">100</text>
<line x1="444.75" y1="123.8" x2="444.75" y2="125.4" stroke="#555" stroke-width="0.4"/>
<text x="444.75" y="130.2" font-size="4.7" text-anchor="middle" fill="#484848">150</text>
<line x1="462.6" y1="123.8" x2="462.6" y2="125.4" stroke="#555" stroke-width="0.4"/>
<text x="462.6" y="130.2" font-size="4.7" text-anchor="middle" fill="#484848">200</text>
<line x1="480.45" y1="123.8" x2="480.45" y2="125.4" stroke="#555" stroke-width="0.4"/>
<text x="480.45" y="130.2" font-size="4.7" text-anchor="middle" fill="#484848">250</text>
<line x1="498.3" y1="123.8" x2="498.3" y2="125.4" stroke="#555" stroke-width="0.4"/>
<text x="498.3" y="130.2" font-size="4.7" text-anchor="middle" fill="#484848">300</text>
<line x1="516.15" y1="123.8" x2="516.15" y2="125.4" stroke="#555" stroke-width="0.4"/>
<text x="516.15" y="130.2" font-size="4.7" text-anchor="middle" fill="#484848">350</text>
<line x1="389.6" y1="111.4" x2="391.2" y2="111.4" stroke="#555" stroke-width="0.4"/>
<text x="388.2" y="113.2" font-size="4.7" text-anchor="end" fill="#484848">200</text>
<line x1="389.6" y1="95.1" x2="391.2" y2="95.1" stroke="#555" stroke-width="0.4"/>
<text x="388.2" y="96.9" font-size="4.7" text-anchor="end" fill="#484848">400</text>
<line x1="389.6" y1="78.8" x2="391.2" y2="78.8" stroke="#555" stroke-width="0.4"/>
<text x="388.2" y="80.6" font-size="4.7" text-anchor="end" fill="#484848">600</text>
<line x1="389.6" y1="62.5" x2="391.2" y2="62.5" stroke="#555" stroke-width="0.4"/>
<text x="388.2" y="64.3" font-size="4.7" text-anchor="end" fill="#484848">800</text>
<line x1="389.6" y1="46.2" x2="391.2" y2="46.2" stroke="#555" stroke-width="0.4"/>
<text x="388.2" y="48" font-size="4.7" text-anchor="end" fill="#484848">1000</text>
<line x1="389.6" y1="29.9" x2="391.2" y2="29.9" stroke="#555" stroke-width="0.4"/>
<text x="388.2" y="31.7" font-size="4.7" text-anchor="end" fill="#484848">1200</text>
<line x1="389.6" y1="13.6" x2="391.2" y2="13.6" stroke="#555" stroke-width="0.4"/>
<text x="388.2" y="15.4" font-size="4.7" text-anchor="end" fill="#484848">1400</text>
<text x="454.7" y="136.3" font-size="4.7" text-anchor="middle" fill="#484848">DOA (°)</text>
<text transform="translate(374.2 64.5) rotate(-90)" font-size="4.7" text-anchor="middle" fill="#484848">Frequency (Hz)</text>
<rect x="526.2" y="102.5" width="5.3" height="15.25" fill="#481b6d"/>
<rect x="526.2" y="87.3" width="5.3" height="15.25" fill="#3f4788"/>
<rect x="526.2" y="72.1" width="5.3" height="15.25" fill="#2e6e8e"/>
<rect x="526.2" y="56.9" width="5.3" height="15.25" fill="#21918c"/>
<rect x="526.2" y="41.7" width="5.3" height="15.25" fill="#2db27d"/>
<rect x="526.2" y="26.5" width="5.3" height="15.25" fill="#73d056"/>
<rect x="526.2" y="11.3" width="5.3" height="15.25" fill="#d0e11c"/>
<line x1="531.5" y1="117.7" x2="532.9" y2="117.7" stroke="#555" stroke-width="0.4"/>
<text x="534.1" y="119.5" font-size="4.7" fill="#484848">0.00</text>
<line x1="531.5" y1="102.5" x2="532.9" y2="102.5" stroke="#555" stroke-width="0.4"/>
<text x="534.1" y="104.3" font-size="4.7" fill="#484848">0.15</text>
<line x1="531.5" y1="87.3" x2="532.9" y2="87.3" stroke="#555" stroke-width="0.4"/>
<text x="534.1" y="89.1" font-size="4.7" fill="#484848">0.30</text>
<line x1="531.5" y1="72.1" x2="532.9" y2="72.1" stroke="#555" stroke-width="0.4"/>
<text x="534.1" y="73.9" font-size="4.7" fill="#484848">0.45</text>
<line x1="531.5" y1="56.9" x2="532.9" y2="56.9" stroke="#555" stroke-width="0.4"/>
<text x="534.1" y="58.7" font-size="4.7" fill="#484848">0.60</text>
<line x1="531.5" y1="41.7" x2="532.9" y2="41.7" stroke="#555" stroke-width="0.4"/>
<text x="534.1" y="43.5" font-size="4.7" fill="#484848">0.75</text>
<line x1="531.5" y1="26.5" x2="532.9" y2="26.5" stroke="#555" stroke-width="0.4"/>
<text x="534.1" y="28.3" font-size="4.7" fill="#484848">0.90</text>
<line x1="531.5" y1="11.3" x2="532.9" y2="11.3" stroke="#555" stroke-width="0.4"/>
<text x="534.1" y="13.1" font-size="4.7" fill="#484848">1.05</text>
<rect x="21.5" y="212.5" width="157" height="117" fill="#fff"/>
<line x1="28.3" y1="212.5" x2="28.3" y2="329.5" stroke="#cfcfcf" stroke-width="0.5"/>
<line x1="48.44" y1="212.5" x2="48.44" y2="329.5" stroke="#cfcfcf" stroke-width="0.5"/>
<line x1="68.58" y1="212.5" x2="68.58" y2="329.5" stroke="#cfcfcf" stroke-width="0.5"/>
<line x1="88.72" y1="212.5" x2="88.72" y2="329.5" stroke="#cfcfcf" stroke-width="0.5"/>
<line x1="108.86" y1="212.5" x2="108.86" y2="329.5" stroke="#cfcfcf" stroke-width="0.5"/>
<line x1="129" y1="212.5" x2="129" y2="329.5" stroke="#cfcfcf" stroke-width="0.5"/>
<line x1="149.14" y1="212.5" x2="149.14" y2="329.5" stroke="#cfcfcf" stroke-width="0.5"/>
<line x1="169.28" y1="212.5" x2="169.28" y2="329.5" stroke="#cfcfcf" stroke-width="0.5"/>
<line x1="21.5" y1="324.4" x2="178.5" y2="324.4" stroke="#cfcfcf" stroke-width="0.5"/>
<line x1="21.5" y1="303.08" x2="178.5" y2="303.08" stroke="#cfcfcf" stroke-width="0.5"/>
<line x1="21.5" y1="281.76" x2="178.5" y2="281.76" stroke="#cfcfcf" stroke-width="0.5"/>
<line x1="21.5" y1="260.44" x2="178.5" y2="260.44" stroke="#cfcfcf" stroke-width="0.5"/>
<line x1="21.5" y1="239.12" x2="178.5" y2="239.12" stroke="#cfcfcf" stroke-width="0.5"/>
<line x1="21.5" y1="217.8" x2="178.5" y2="217.8" stroke="#cfcfcf" stroke-width="0.5"/>
<line x1="28.3" y1="329.5" x2="28.3" y2="331.1" stroke="#8a8a8a" stroke-width="0.4"/>
<line x1="48.44" y1="329.5" x2="48.44" y2="331.1" stroke="#8a8a8a" stroke-width="0.4"/>
<line x1="68.58" y1="329.5" x2="68.58" y2="331.1" stroke="#8a8a8a" stroke-width="0.4"/>
<line x1="88.72" y1="329.5" x2="88.72" y2="331.1" stroke="#8a8a8a" stroke-width="0.4"/>
<line x1="108.86" y1="329.5" x2="108.86" y2="331.1" stroke="#8a8a8a" stroke-width="0.4"/>
<line x1="129" y1="329.5" x2="129" y2="331.1" stroke="#8a8a8a" stroke-width="0.4"/>
<line x1="149.14" y1="329.5" x2="149.14" y2="331.1" stroke="#8a8a8a" stroke-width="0.4"/>
<line x1="169.28" y1="329.5" x2="169.28" y2="331.1" stroke="#8a8a8a" stroke-width="0.4"/>
<line x1="19.9" y1="324.4" x2="21.5" y2="324.4" stroke="#8a8a8a" stroke-width="0.4"/>
<line x1="19.9" y1="303.08" x2="21.5" y2="303.08" stroke="#8a8a8a" stroke-width="0.4"/>
<line x1="19.9" y1="281.76" x2="21.5" y2="281.76" stroke="#8a8a8a" stroke-width="0.4"/>
<line x1="19.9" y1="260.44" x2="21.5" y2="260.44" stroke="#8a8a8a" stroke-width="0.4"/>
<line x1="19.9" y1="239.12" x2="21.5" y2="239.12" stroke="#8a8a8a" stroke-width="0.4"/>
<line x1="19.9" y1="217.8" x2="21.5" y2="217.8" stroke="#8a8a8a" stroke-width="0.4"/>
<text x="28.3" y="336.4" font-size="4.7" text-anchor="middle" fill="#484848">0</text>
<text x="48.44" y="336.4" font-size="4.7" text-anchor="middle" fill="#484848">50</text>
<text x="68.58" y="336.4" font-size="4.7" text-anchor="middle" fill="#484848">100</text>
<text x="88.72" y="336.4" font-size="4.7" text-anchor="middle" fill="#484848">150</text>
<text x="108.86" y="336.4" font-size="4.7" text-anchor="middle" fill="#484848">200</text>
<text x="129" y="336.4" font-size="4.7" text-anchor="middle" fill="#484848">250</text>
<text x="149.14" y="336.4" font-size="4.7" text-anchor="middle" fill="#484848">300</text>
<text x="169.28" y="336.4" font-size="4.7" text-anchor="middle" fill="#484848">350</text>
<text x="18.5" y="326.2" font-size="4.7" text-anchor="end" fill="#484848">0.0</text>
<text x="18.5" y="304.88" font-size="4.7" text-anchor="end" fill="#484848">0.2</text>
<text x="18.5" y="283.56" font-size="4.7" text-anchor="end" fill="#484848">0.4</text>
<text x="18.5" y="262.24" font-size="4.7" text-anchor="end" fill="#484848">0.6</text>
<text x="18.5" y="240.92" font-size="4.7" text-anchor="end" fill="#484848">0.8</text>
<text x="18.5" y="219.6" font-size="4.7" text-anchor="end" fill="#484848">1.0</text>
<text x="100" y="342.1" font-size="4.7" text-anchor="middle" fill="#484848">DOA (°)</text>
<text transform="translate(9.8 269.8) rotate(-90)" font-size="4.7" text-anchor="middle" fill="#484848" textLength="77">Normalized spatial pseudo-spectrum</text>
<line x1="101.01" y1="324.4" x2="101.01" y2="217.8" stroke="#9a9a9a" stroke-width="1.6"/>
<polyline points="28.3,324.29 28.5,324.29 28.7,324.29 28.9,324.29 29.11,324.29 29.31,324.29 29.51,324.29 29.71,324.29 29.91,324.29 30.11,324.29 30.31,324.29 30.52,324.28 30.72,324.28 30.92,324.28 31.12,324.28 31.32,324.28 31.52,324.28 31.72,324.28 31.93,324.28 32.13,324.28 32.33,324.28 32.53,324.28 32.73,324.28 32.93,324.28 33.13,324.28 33.34,324.27 33.54,324.27 33.74,324.27 33.94,324.27 34.14,324.27 34.34,324.27 34.54,324.27 34.74,324.27 34.95,324.27 35.15,324.27 35.35,324.27 35.55,324.27 35.75,324.27 35.95,324.26 36.15,324.26 36.36,324.26 36.56,324.26 36.76,324.26 36.96,324.26 37.16,324.26 37.36,324.26 37.56,324.26 37.77,324.26 37.97,324.26 38.17,324.26 38.37,324.25 38.57,324.25 38.77,324.25 38.97,324.25 39.18,324.25 39.38,324.25 39.58,324.25 39.78,324.25 39.98,324.25 40.18,324.25 40.38,324.24 40.59,324.24 40.79,324.24 40.99,324.24 41.19,324.24 41.39,324.24 41.59,324.24 41.79,324.24 42,324.24 42.2,324.24 42.4,324.23 42.6,324.23 42.8,324.23 43,324.23 43.2,324.23 43.41,324.23 43.61,324.23 43.81,324.23 44.01,324.22 44.21,324.22 44.41,324.22 44.61,324.22 44.81,324.22 45.02,324.22 45.22,324.22 45.42,324.22 45.62,324.21 45.82,324.21 46.02,324.21 46.22,324.21 46.43,324.21 46.63,324.21 46.83,324.21 47.03,324.21 47.23,324.2 47.43,324.2 47.63,324.2 47.84,324.2 48.04,324.2 48.24,324.2 48.44,324.19 48.64,324.19 48.84,324.19 49.04,324.19 49.25,324.19 49.45,324.19 49.65,324.19 49.85,324.18 50.05,324.18 50.25,324.18 50.45,324.18 50.66,324.18 50.86,324.18 51.06,324.17 51.26,324.17 51.46,324.17 51.66,324.17 51.86,324.17 52.07,324.16 52.27,324.16 52.47,324.16 52.67,324.16 52.87,324.16 53.07,324.15 53.27,324.15 53.48,324.15 53.68,324.15 53.88,324.15 54.08,324.14 54.28,324.14 54.48,324.14 54.68,324.14 54.88,324.14 55.09,324.13 55.29,324.13 55.49,324.13 55.69,324.13 55.89,324.12 56.09,324.12 56.29,324.12 56.5,324.12 56.7,324.11 56.9,324.11 57.1,324.11 57.3,324.11 57.5,324.1 57.7,324.1 57.91,324.1 58.11,324.1 58.31,324.09 58.51,324.09 58.71,324.09 58.91,324.08 59.11,324.08 59.32,324.08 59.52,324.08 59.72,324.07 59.92,324.07 60.12,324.07 60.32,324.06 60.52,324.06 60.73,324.06 60.93,324.05 61.13,324.05 61.33,324.05 61.53,324.04 61.73,324.04 61.93,324.04 62.14,324.03 62.34,324.03 62.54,324.03 62.74,324.02 62.94,324.02 63.14,324.01 63.34,324.01 63.55,324.01 63.75,324 63.95,324 64.15,323.99 64.35,323.99 64.55,323.99 64.75,323.98 64.95,323.98 65.16,323.97 65.36,323.97 65.56,323.96 65.76,323.96 65.96,323.95 66.16,323.95 66.36,323.94 66.57,323.94 66.77,323.93 66.97,323.93 67.17,323.92 67.37,323.92 67.57,323.91 67.77,323.91 67.98,323.9 68.18,323.89 68.38,323.89 68.58,323.88 68.78,323.88 68.98,323.87 69.18,323.86 69.39,323.86 69.59,323.85 69.79,323.84 69.99,323.84 70.19,323.83 70.39,323.82 70.59,323.82 70.8,323.81 71,323.8 71.2,323.79 71.4,323.79 71.6,323.78 71.8,323.77 72,323.76 72.21,323.75 72.41,323.75 72.61,323.74 72.81,323.73 73.01,323.72 73.21,323.71 73.41,323.7 73.61,323.69 73.82,323.68 74.02,323.67 74.22,323.66 74.42,323.65 74.62,323.64 74.82,323.63 75.02,323.62 75.23,323.61 75.43,323.6 75.63,323.58 75.83,323.57 76.03,323.56 76.23,323.55 76.43,323.53 76.64,323.52 76.84,323.51 77.04,323.49 77.24,323.48 77.44,323.47 77.64,323.45 77.84,323.44 78.05,323.42 78.25,323.41 78.45,323.39 78.65,323.37 78.85,323.36 79.05,323.34 79.25,323.32 79.46,323.31 79.66,323.29 79.86,323.27 80.06,323.25 80.26,323.23 80.46,323.21 80.66,323.19 80.87,323.17 81.07,323.14 81.27,323.12 81.47,323.1 81.67,323.08 81.87,323.05 82.07,323.03 82.28,323 82.48,322.97 82.68,322.95 82.88,322.92 83.08,322.89 83.28,322.86 83.48,322.83 83.69,322.8 83.89,322.77 84.09,322.74 84.29,322.7 84.49,322.67 84.69,322.63 84.89,322.6 85.09,322.56 85.3,322.52 85.5,322.48 85.7,322.44 85.9,322.39 86.1,322.35 86.3,322.3 86.5,322.26 86.71,322.21 86.91,322.16 87.11,322.1 87.31,322.05 87.51,322 87.71,321.94 87.91,321.88 88.12,321.82 88.32,321.75 88.52,321.69 88.72,321.62 88.92,321.55 89.12,321.47 89.32,321.4 89.53,321.32 89.73,321.23 89.93,321.15 90.13,321.06 90.33,320.97 90.53,320.87 90.73,320.77 90.94,320.66 91.14,320.56 91.34,320.44 91.54,320.32 91.74,320.2 91.94,320.07 92.14,319.93 92.35,319.79 92.55,319.64 92.75,319.48 92.95,319.31 93.15,319.14 93.35,318.95 93.55,318.76 93.75,318.55 93.96,318.34 94.16,318.1 94.36,317.86 94.56,317.6 94.76,317.32 94.96,317.02 95.16,316.7 95.37,316.35 95.57,315.98 95.77,315.58 95.97,315.14 96.17,314.66 96.37,314.14 96.57,313.57 96.78,312.94 96.98,312.23 97.18,311.45 97.38,310.58 97.58,309.59 97.78,308.47 97.98,307.19 98.19,305.72 98.39,304.03 98.59,302.05 98.79,299.74 98.99,297.01 99.19,293.77 99.39,289.9 99.6,285.27 99.8,279.72 100,273.09 100.2,265.27 100.4,256.25 100.6,246.29 100.8,236.07 101.01,226.82 101.21,220.22 101.41,217.8 101.61,220.22 101.81,226.82 102.01,236.07 102.21,246.29 102.42,256.25 102.62,265.27 102.82,273.09 103.02,279.72 103.22,285.27 103.42,289.9 103.62,293.77 103.82,297.01 104.03,299.74 104.23,302.05 104.43,304.03 104.63,305.72 104.83,307.19 105.03,308.47 105.23,309.59 105.44,310.58 105.64,311.45 105.84,312.23 106.04,312.94 106.24,313.57 106.44,314.14 106.64,314.66 106.85,315.14 107.05,315.58 107.25,315.98 107.45,316.35 107.65,316.7 107.85,317.02 108.05,317.32 108.26,317.6 108.46,317.86 108.66,318.1 108.86,318.34 109.06,318.55 109.26,318.76 109.46,318.95 109.67,319.14 109.87,319.31 110.07,319.48 110.27,319.64 110.47,319.79 110.67,319.93 110.87,320.07 111.08,320.2 111.28,320.32 111.48,320.44 111.68,320.56 111.88,320.66 112.08,320.77 112.28,320.87 112.49,320.97 112.69,321.06 112.89,321.15 113.09,321.23 113.29,321.32 113.49,321.4 113.69,321.47 113.89,321.55 114.1,321.62 114.3,321.69 114.5,321.75 114.7,321.82 114.9,321.88 115.1,321.94 115.3,322 115.51,322.05 115.71,322.1 115.91,322.16 116.11,322.21 116.31,322.26 116.51,322.3 116.71,322.35 116.92,322.39 117.12,322.44 117.32,322.48 117.52,322.52 117.72,322.56 117.92,322.6 118.12,322.63 118.33,322.67 118.53,322.7 118.73,322.74 118.93,322.77 119.13,322.8 119.33,322.83 119.53,322.86 119.74,322.89 119.94,322.92 120.14,322.95 120.34,322.97 120.54,323 120.74,323.03 120.94,323.05 121.15,323.08 121.35,323.1 121.55,323.12 121.75,323.14 121.95,323.17 122.15,323.19 122.35,323.21 122.56,323.23 122.76,323.25 122.96,323.27 123.16,323.29 123.36,323.31 123.56,323.32 123.76,323.34 123.96,323.36 124.17,323.37 124.37,323.39 124.57,323.41 124.77,323.42 124.97,323.44 125.17,323.45 125.37,323.47 125.58,323.48 125.78,323.49 125.98,323.51 126.18,323.52 126.38,323.53 126.58,323.55 126.78,323.56 126.99,323.57 127.19,323.58 127.39,323.6 127.59,323.61 127.79,323.62 127.99,323.63 128.19,323.64 128.4,323.65 128.6,323.66 128.8,323.67 129,323.68 129.2,323.69 129.4,323.7 129.6,323.71 129.81,323.72 130.01,323.73 130.21,323.74 130.41,323.75 130.61,323.75 130.81,323.76 131.01,323.77 131.22,323.78 131.42,323.79 131.62,323.79 131.82,323.8 132.02,323.81 132.22,323.82 132.42,323.82 132.63,323.83 132.83,323.84 133.03,323.84 133.23,323.85 133.43,323.86 133.63,323.86 133.83,323.87 134.03,323.88 134.24,323.88 134.44,323.89 134.64,323.89 134.84,323.9 135.04,323.91 135.24,323.91 135.44,323.92 135.65,323.92 135.85,323.93 136.05,323.93 136.25,323.94 136.45,323.94 136.65,323.95 136.85,323.95 137.06,323.96 137.26,323.96 137.46,323.97 137.66,323.97 137.86,323.98 138.06,323.98 138.26,323.99 138.47,323.99 138.67,323.99 138.87,324 139.07,324 139.27,324.01 139.47,324.01 139.67,324.01 139.88,324.02 140.08,324.02 140.28,324.03 140.48,324.03 140.68,324.03 140.88,324.04 141.08,324.04 141.29,324.04 141.49,324.05 141.69,324.05 141.89,324.05 142.09,324.06 142.29,324.06 142.49,324.06 142.7,324.07 142.9,324.07 143.1,324.07 143.3,324.08 143.5,324.08 143.7,324.08 143.9,324.08 144.1,324.09 144.31,324.09 144.51,324.09 144.71,324.1 144.91,324.1 145.11,324.1 145.31,324.1 145.51,324.11 145.72,324.11 145.92,324.11 146.12,324.11 146.32,324.12 146.52,324.12 146.72,324.12 146.92,324.12 147.13,324.13 147.33,324.13 147.53,324.13 147.73,324.13 147.93,324.14 148.13,324.14 148.33,324.14 148.54,324.14 148.74,324.14 148.94,324.15 149.14,324.15 149.34,324.15 149.54,324.15 149.74,324.15 149.95,324.16 150.15,324.16 150.35,324.16 150.55,324.16 150.75,324.16 150.95,324.17 151.15,324.17 151.36,324.17 151.56,324.17 151.76,324.17 151.96,324.18 152.16,324.18 152.36,324.18 152.56,324.18 152.77,324.18 152.97,324.18 153.17,324.19 153.37,324.19 153.57,324.19 153.77,324.19 153.97,324.19 154.18,324.19 154.38,324.19 154.58,324.2 154.78,324.2 154.98,324.2 155.18,324.2 155.38,324.2 155.58,324.2 155.79,324.21 155.99,324.21 156.19,324.21 156.39,324.21 156.59,324.21 156.79,324.21 156.99,324.21 157.2,324.21 157.4,324.22 157.6,324.22 157.8,324.22 158,324.22 158.2,324.22 158.4,324.22 158.61,324.22 158.81,324.22 159.01,324.23 159.21,324.23 159.41,324.23 159.61,324.23 159.81,324.23 160.02,324.23 160.22,324.23 160.42,324.23 160.62,324.24 160.82,324.24 161.02,324.24 161.22,324.24 161.43,324.24 161.63,324.24 161.83,324.24 162.03,324.24 162.23,324.24 162.43,324.24 162.63,324.25 162.84,324.25 163.04,324.25 163.24,324.25 163.44,324.25 163.64,324.25 163.84,324.25 164.04,324.25 164.25,324.25 164.45,324.25 164.65,324.26 164.85,324.26 165.05,324.26 165.25,324.26 165.45,324.26 165.65,324.26 165.86,324.26 166.06,324.26 166.26,324.26 166.46,324.26 166.66,324.26 166.86,324.26 167.06,324.27 167.27,324.27 167.47,324.27 167.67,324.27 167.87,324.27 168.07,324.27 168.27,324.27 168.47,324.27 168.68,324.27 168.88,324.27 169.08,324.27 169.28,324.27 169.48,324.27 169.68,324.28 169.88,324.28 170.09,324.28 170.29,324.28 170.49,324.28 170.69,324.28 170.89,324.28 171.09,324.28 171.29,324.28 171.5,324.28 171.7,324.28" fill="none" stroke="#ff3030" stroke-width="0.8" stroke-opacity="0.85" stroke-linejoin="round"/>
<polyline points="28.3,319.09 28.5,319.09 28.7,319.08 28.9,319.07 29.11,319.06 29.31,319.05 29.51,319.04 29.71,319.04 29.91,319.03 30.11,319.02 30.31,319.01 30.52,319 30.72,318.99 30.92,318.98 31.12,318.97 31.32,318.96 31.52,318.96 31.72,318.95 31.93,318.94 32.13,318.93 32.33,318.92 32.53,318.91 32.73,318.9 32.93,318.89 33.13,318.88 33.34,318.87 33.54,318.86 33.74,318.85 33.94,318.84 34.14,318.83 34.34,318.82 34.54,318.81 34.74,318.8 34.95,318.79 35.15,318.78 35.35,318.77 35.55,318.76 35.75,318.75 35.95,318.74 36.15,318.73 36.36,318.72 36.56,318.71 36.76,318.7 36.96,318.68 37.16,318.67 37.36,318.66 37.56,318.65 37.77,318.64 37.97,318.63 38.17,318.62 38.37,318.6 38.57,318.59 38.77,318.58 38.97,318.57 39.18,318.56 39.38,318.54 39.58,318.53 39.78,318.52 39.98,318.51 40.18,318.49 40.38,318.48 40.59,318.47 40.79,318.46 40.99,318.44 41.19,318.43 41.39,318.42 41.59,318.4 41.79,318.39 42,318.38 42.2,318.36 42.4,318.35 42.6,318.34 42.8,318.32 43,318.31 43.2,318.29 43.41,318.28 43.61,318.27 43.81,318.25 44.01,318.24 44.21,318.22 44.41,318.21 44.61,318.19 44.81,318.18 45.02,318.16 45.22,318.15 45.42,318.13 45.62,318.12 45.82,318.1 46.02,318.08 46.22,318.07 46.43,318.05 46.63,318.04 46.83,318.02 47.03,318 47.23,317.99 47.43,317.97 47.63,317.95 47.84,317.94 48.04,317.92 48.24,317.9 48.44,317.88 48.64,317.87 48.84,317.85 49.04,317.83 49.25,317.81 49.45,317.79 49.65,317.78 49.85,317.76 50.05,317.74 50.25,317.72 50.45,317.7 50.66,317.68 50.86,317.66 51.06,317.64 51.26,317.62 51.46,317.6 51.66,317.58 51.86,317.56 52.07,317.54 52.27,317.52 52.47,317.5 52.67,317.48 52.87,317.46 53.07,317.44 53.27,317.42 53.48,317.39 53.68,317.37 53.88,317.35 54.08,317.33 54.28,317.3 54.48,317.28 54.68,317.26 54.88,317.24 55.09,317.21 55.29,317.19 55.49,317.16 55.69,317.14 55.89,317.12 56.09,317.09 56.29,317.07 56.5,317.04 56.7,317.02 56.9,316.99 57.1,316.97 57.3,316.94 57.5,316.91 57.7,316.89 57.91,316.86 58.11,316.83 58.31,316.81 58.51,316.78 58.71,316.75 58.91,316.72 59.11,316.69 59.32,316.67 59.52,316.64 59.72,316.61 59.92,316.58 60.12,316.55 60.32,316.52 60.52,316.49 60.73,316.46 60.93,316.43 61.13,316.4 61.33,316.37 61.53,316.33 61.73,316.3 61.93,316.27 62.14,316.24 62.34,316.2 62.54,316.17 62.74,316.14 62.94,316.1 63.14,316.07 63.34,316.03 63.55,316 63.75,315.96 63.95,315.93 64.15,315.89 64.35,315.85 64.55,315.82 64.75,315.78 64.95,315.74 65.16,315.7 65.36,315.67 65.56,315.63 65.76,315.59 65.96,315.55 66.16,315.51 66.36,315.47 66.57,315.43 66.77,315.39 66.97,315.34 67.17,315.3 67.37,315.26 67.57,315.21 67.77,315.17 67.98,315.13 68.18,315.08 68.38,315.04 68.58,314.99 68.78,314.95 68.98,314.9 69.18,314.85 69.39,314.8 69.59,314.75 69.79,314.71 69.99,314.66 70.19,314.61 70.39,314.56 70.59,314.5 70.8,314.45 71,314.4 71.2,314.35 71.4,314.29 71.6,314.24 71.8,314.18 72,314.13 72.21,314.07 72.41,314.02 72.61,313.96 72.81,313.9 73.01,313.84 73.21,313.78 73.41,313.72 73.61,313.66 73.82,313.6 74.02,313.53 74.22,313.47 74.42,313.4 74.62,313.34 74.82,313.27 75.02,313.21 75.23,313.14 75.43,313.07 75.63,313 75.83,312.93 76.03,312.86 76.23,312.78 76.43,312.71 76.64,312.63 76.84,312.56 77.04,312.48 77.24,312.4 77.44,312.32 77.64,312.24 77.84,312.16 78.05,312.08 78.25,311.99 78.45,311.91 78.65,311.82 78.85,311.73 79.05,311.64 79.25,311.55 79.46,311.46 79.66,311.36 79.86,311.26 80.06,311.17 80.26,311.07 80.46,310.97 80.66,310.86 80.87,310.76 81.07,310.65 81.27,310.54 81.47,310.43 81.67,310.32 81.87,310.2 82.07,310.08 82.28,309.97 82.48,309.84 82.68,309.72 82.88,309.59 83.08,309.46 83.28,309.33 83.48,309.19 83.69,309.05 83.89,308.91 84.09,308.76 84.29,308.61 84.49,308.46 84.69,308.31 84.89,308.15 85.09,307.98 85.3,307.81 85.5,307.64 85.7,307.46 85.9,307.28 86.1,307.09 86.3,306.9 86.5,306.7 86.71,306.5 86.91,306.29 87.11,306.07 87.31,305.85 87.51,305.62 87.71,305.38 87.91,305.14 88.12,304.88 88.32,304.62 88.52,304.35 88.72,304.07 88.92,303.78 89.12,303.48 89.32,303.17 89.53,302.84 89.73,302.51 89.93,302.16 90.13,301.79 90.33,301.41 90.53,301.02 90.73,300.61 90.94,300.18 91.14,299.73 91.34,299.26 91.54,298.77 91.74,298.26 91.94,297.72 92.14,297.16 92.35,296.57 92.55,295.95 92.75,295.3 92.95,294.62 93.15,293.9 93.35,293.14 93.55,292.34 93.75,291.5 93.96,290.62 94.16,289.68 94.36,288.69 94.56,287.64 94.76,286.54 94.96,285.37 95.16,284.13 95.37,282.82 95.57,281.43 95.77,279.96 95.97,278.4 96.17,276.75 96.37,275 96.57,273.15 96.78,271.19 96.98,269.13 97.18,266.95 97.38,264.66 97.58,262.25 97.78,259.73 97.98,257.09 98.19,254.35 98.39,251.51 98.59,248.59 98.79,245.61 98.99,242.58 99.19,239.54 99.39,236.52 99.6,233.56 99.8,230.71 100,228.01 100.2,225.53 100.4,223.3 100.6,221.4 100.8,219.86 101.01,218.73 101.21,218.03 101.41,217.8 101.61,218.03 101.81,218.73 102.01,219.86 102.21,221.4 102.42,223.3 102.62,225.53 102.82,228.01 103.02,230.71 103.22,233.56 103.42,236.52 103.62,239.54 103.82,242.58 104.03,245.61 104.23,248.59 104.43,251.51 104.63,254.35 104.83,257.09 105.03,259.73 105.23,262.25 105.44,264.66 105.64,266.95 105.84,269.13 106.04,271.19 106.24,273.15 106.44,275 106.64,276.75 106.85,278.4 107.05,279.96 107.25,281.43 107.45,282.82 107.65,284.13 107.85,285.37 108.05,286.54 108.26,287.64 108.46,288.69 108.66,289.68 108.86,290.62 109.06,291.5 109.26,292.34 109.46,293.14 109.67,293.9 109.87,294.62 110.07,295.3 110.27,295.95 110.47,296.57 110.67,297.16 110.87,297.72 111.08,298.26 111.28,298.77 111.48,299.26 111.68,299.73 111.88,300.18 112.08,300.61 112.28,301.02 112.49,301.41 112.69,301.79 112.89,302.16 113.09,302.51 113.29,302.84 113.49,303.17 113.69,303.48 113.89,303.78 114.1,304.07 114.3,304.35 114.5,304.62 114.7,304.88 114.9,305.14 115.1,305.38 115.3,305.62 115.51,305.85 115.71,306.07 115.91,306.29 116.11,306.5 116.31,306.7 116.51,306.9 116.71,307.09 116.92,307.28 117.12,307.46 117.32,307.64 117.52,307.81 117.72,307.98 117.92,308.15 118.12,308.31 118.33,308.46 118.53,308.61 118.73,308.76 118.93,308.91 119.13,309.05 119.33,309.19 119.53,309.33 119.74,309.46 119.94,309.59 120.14,309.72 120.34,309.84 120.54,309.97 120.74,310.08 120.94,310.2 121.15,310.32 121.35,310.43 121.55,310.54 121.75,310.65 121.95,310.76 122.15,310.86 122.35,310.97 122.56,311.07 122.76,311.17 122.96,311.26 123.16,311.36 123.36,311.46 123.56,311.55 123.76,311.64 123.96,311.73 124.17,311.82 124.37,311.91 124.57,311.99 124.77,312.08 124.97,312.16 125.17,312.24 125.37,312.32 125.58,312.4 125.78,312.48 125.98,312.56 126.18,312.63 126.38,312.71 126.58,312.78 126.78,312.86 126.99,312.93 127.19,313 127.39,313.07 127.59,313.14 127.79,313.21 127.99,313.27 128.19,313.34 128.4,313.4 128.6,313.47 128.8,313.53 129,313.6 129.2,313.66 129.4,313.72 129.6,313.78 129.81,313.84 130.01,313.9 130.21,313.96 130.41,314.02 130.61,314.07 130.81,314.13 131.01,314.18 131.22,314.24 131.42,314.29 131.62,314.35 131.82,314.4 132.02,314.45 132.22,314.5 132.42,314.56 132.63,314.61 132.83,314.66 133.03,314.71 133.23,314.75 133.43,314.8 133.63,314.85 133.83,314.9 134.03,314.95 134.24,314.99 134.44,315.04 134.64,315.08 134.84,315.13 135.04,315.17 135.24,315.21 135.44,315.26 135.65,315.3 135.85,315.34 136.05,315.39 136.25,315.43 136.45,315.47 136.65,315.51 136.85,315.55 137.06,315.59 137.26,315.63 137.46,315.67 137.66,315.7 137.86,315.74 138.06,315.78 138.26,315.82 138.47,315.85 138.67,315.89 138.87,315.93 139.07,315.96 139.27,316 139.47,316.03 139.67,316.07 139.88,316.1 140.08,316.14 140.28,316.17 140.48,316.2 140.68,316.24 140.88,316.27 141.08,316.3 141.29,316.33 141.49,316.37 141.69,316.4 141.89,316.43 142.09,316.46 142.29,316.49 142.49,316.52 142.7,316.55 142.9,316.58 143.1,316.61 143.3,316.64 143.5,316.67 143.7,316.69 143.9,316.72 144.1,316.75 144.31,316.78 144.51,316.81 144.71,316.83 144.91,316.86 145.11,316.89 145.31,316.91 145.51,316.94 145.72,316.97 145.92,316.99 146.12,317.02 146.32,317.04 146.52,317.07 146.72,317.09 146.92,317.12 147.13,317.14 147.33,317.16 147.53,317.19 147.73,317.21 147.93,317.24 148.13,317.26 148.33,317.28 148.54,317.3 148.74,317.33 148.94,317.35 149.14,317.37 149.34,317.39 149.54,317.42 149.74,317.44 149.95,317.46 150.15,317.48 150.35,317.5 150.55,317.52 150.75,317.54 150.95,317.56 151.15,317.58 151.36,317.6 151.56,317.62 151.76,317.64 151.96,317.66 152.16,317.68 152.36,317.7 152.56,317.72 152.77,317.74 152.97,317.76 153.17,317.78 153.37,317.79 153.57,317.81 153.77,317.83 153.97,317.85 154.18,317.87 154.38,317.88 154.58,317.9 154.78,317.92 154.98,317.94 155.18,317.95 155.38,317.97 155.58,317.99 155.79,318 155.99,318.02 156.19,318.04 156.39,318.05 156.59,318.07 156.79,318.08 156.99,318.1 157.2,318.12 157.4,318.13 157.6,318.15 157.8,318.16 158,318.18 158.2,318.19 158.4,318.21 158.61,318.22 158.81,318.24 159.01,318.25 159.21,318.27 159.41,318.28 159.61,318.29 159.81,318.31 160.02,318.32 160.22,318.34 160.42,318.35 160.62,318.36 160.82,318.38 161.02,318.39 161.22,318.4 161.43,318.42 161.63,318.43 161.83,318.44 162.03,318.46 162.23,318.47 162.43,318.48 162.63,318.49 162.84,318.51 163.04,318.52 163.24,318.53 163.44,318.54 163.64,318.56 163.84,318.57 164.04,318.58 164.25,318.59 164.45,318.6 164.65,318.62 164.85,318.63 165.05,318.64 165.25,318.65 165.45,318.66 165.65,318.67 165.86,318.68 166.06,318.7 166.26,318.71 166.46,318.72 166.66,318.73 166.86,318.74 167.06,318.75 167.27,318.76 167.47,318.77 167.67,318.78 167.87,318.79 168.07,318.8 168.27,318.81 168.47,318.82 168.68,318.83 168.88,318.84 169.08,318.85 169.28,318.86 169.48,318.87 169.68,318.88 169.88,318.89 170.09,318.9 170.29,318.91 170.49,318.92 170.69,318.93 170.89,318.94 171.09,318.95 171.29,318.96 171.5,318.96 171.7,318.97" fill="none" stroke="#3c903c" stroke-width="0.9" stroke-opacity="0.95" stroke-linejoin="round"/>
<polyline points="28.3,324.4 98.4,324.4 98.7,321.2 101.2,217.8 101.6,217.8 104.2,321.2 104.5,324.4 171.7,324.4" fill="none" stroke="#3a3aff" stroke-width="0.9" stroke-opacity="0.75" stroke-linejoin="round"/>
<rect x="21.5" y="212.5" width="157" height="117" fill="none" stroke="#8a8a8a" stroke-width="0.6"/>
<rect x="137.3" y="214.6" width="38.4" height="20.6" fill="#fff" stroke="#d4d4d4" stroke-width="0.5" rx="1" fill-opacity="0.85"/>
<line x1="138.8" y1="218.2" x2="148" y2="218.2" stroke="#ff3030" stroke-width="0.6" stroke-opacity="0.85"/>
<text x="151" y="219.7" font-size="4.5" fill="#484848">CFCN-DOA</text>
<line x1="138.8" y1="224.8" x2="148" y2="224.8" stroke="#3c963c" stroke-width="0.7" stroke-opacity="0.85"/>
<text x="151" y="226.3" font-size="4.5" fill="#484848">MUSIC</text>
<line x1="138.8" y1="231.3" x2="148" y2="231.3" stroke="#3a3aff" stroke-width="0.7" stroke-opacity="0.85"/>
<text x="151" y="232.8" font-size="4.5" fill="#484848">CNN-DOA</text>
<polygon points="198.7,307.8 241.4,271.9 240.8,220.2 196,252.9" fill="#f4f4f4"/>
<polygon points="241.4,271.9 310.1,291.9 312.5,238.4 240.8,220.2" fill="#ededed"/>
<polygon points="198.7,307.8 271.4,331.5 310.1,291.9 241.4,271.9" fill="#f0f0f0"/>
<polyline points="202.6,309.1 245.2,273 244.8,221.2" fill="none" stroke="#b4b4b4" stroke-width="0.5"/>
<polyline points="210.9,311.8 253.1,275.3 253,223.3" fill="none" stroke="#b4b4b4" stroke-width="0.5"/>
<polyline points="219.4,314.5 261,277.6 261.3,225.4" fill="none" stroke="#b4b4b4" stroke-width="0.5"/>
<polyline points="227.9,317.3 269.1,280 269.7,227.5" fill="none" stroke="#b4b4b4" stroke-width="0.5"/>
<polyline points="236.5,320.1 277.2,282.3 278.2,229.7" fill="none" stroke="#b4b4b4" stroke-width="0.5"/>
<polyline points="245.3,323 285.5,284.7 286.8,231.9" fill="none" stroke="#b4b4b4" stroke-width="0.5"/>
<polyline points="254.1,325.9 293.8,287.1 295.5,234.1" fill="none" stroke="#b4b4b4" stroke-width="0.5"/>
<polyline points="263.1,328.8 302.2,289.6 304.3,236.3" fill="none" stroke="#b4b4b4" stroke-width="0.5"/>
<polyline points="276.6,326.2 204.4,303 202,248.6" fill="none" stroke="#b4b4b4" stroke-width="0.5"/>
<polyline points="281.9,320.7 210.3,298.1 208.2,244" fill="none" stroke="#b4b4b4" stroke-width="0.5"/>
<polyline points="287.2,315.4 216,293.2 214.3,239.6" fill="none" stroke="#b4b4b4" stroke-width="0.5"/>
<polyline points="292.3,310.1 221.7,288.5 220.2,235.3" fill="none" stroke="#b4b4b4" stroke-width="0.5"/>
<polyline points="297.2,305 227.2,283.9 226,231.1" fill="none" stroke="#b4b4b4" stroke-width="0.5"/>
<polyline points="302.1,300 232.6,279.3 231.6,227" fill="none" stroke="#b4b4b4" stroke-width="0.5"/>
<polyline points="306.9,295.2 237.9,274.9 237.1,222.9" fill="none" stroke="#b4b4b4" stroke-width="0.5"/>
<polyline points="198.6,306.5 241.4,270.7 310.1,290.7" fill="none" stroke="#b4b4b4" stroke-width="0.5"/>
<polyline points="198.1,296.5 241.3,261.3 310.6,280.9" fill="none" stroke="#b4b4b4" stroke-width="0.5"/>
<polyline points="197.6,286.3 241.2,251.6 311,270.9" fill="none" stroke="#b4b4b4" stroke-width="0.5"/>
<polyline points="197.1,275.9 241.1,241.8 311.5,260.8" fill="none" stroke="#b4b4b4" stroke-width="0.5"/>
<polyline points="196.6,265.3 241,231.9 312,250.5" fill="none" stroke="#b4b4b4" stroke-width="0.5"/>
<polyline points="196.1,254.6 240.9,221.8 312.4,240" fill="none" stroke="#b4b4b4" stroke-width="0.5"/>
<polyline points="196,252.9 240.8,220.2 312.5,238.4" fill="none" stroke="#d9d9d9" stroke-width="0.5"/>
<polyline points="241.4,271.9 240.8,220.2" fill="none" stroke="#d9d9d9" stroke-width="0.5"/>
<polyline points="198.7,307.8 196,252.9" fill="none" stroke="#d9d9d9" stroke-width="0.5"/>
<polyline points="198.7,307.8 241.4,271.9 310.1,291.9" fill="none" stroke="#d9d9d9" stroke-width="0.5"/>
<polyline points="234.2,318 234.2,317.9 234.3,317.8 234.4,317.7 234.5,317.6 234.6,317.5 234.8,317.4 234.9,317.3 235,317.2 235.2,317.1 235.3,316.9 235.4,316.8 235.6,316.6 235.8,316.5 236,316.3 236.2,316.1 236.4,316 236.6,315.8 236.8,315.5 237,315.3 237.3,315.1 237.6,314.8 237.9,314.6 238.2,314.3 238.5,314 238.8,313.7 239.2,313.4 239.6,313 240,312.6 240.4,312.3 240.8,311.8 241.3,311.4 241.8,310.9 242.3,310.5 242.9,309.9 243.5,309.4 244.1,308.8 244.8,308.2 245.5,307.6 246.2,306.9 247,306.2 247.8,305.4 248.7,304.6 249.6,303.8 250.5,302.9 251.6,302 252.6,301 253.8,299.9 255,298.8 256.2,297.7 257.5,296.5 258.9,295.2 260.4,293.8 261.9,292.4 263.6,290.9 265.3,289.3 267.1,287.7 269,286 271,284.1 273,282.2" fill="none" stroke="#2525ee" stroke-width="0.8" stroke-opacity="1"/>
<polyline points="226.5,315.5 226.8,315.5 227.1,315.5 227.4,315.4 227.7,315.4 228,315.4 228.4,315.3 228.7,315.3 229.1,315.3 229.4,315.2 229.8,315.1 230.2,315.1 230.6,315 231,314.9 231.4,314.8 231.8,314.7 232.3,314.6 232.7,314.5 233.2,314.4 233.6,314.2 234.1,314.1 234.6,313.9 235.1,313.7 235.6,313.5 236,313.2 236.5,312.9 237,312.7 237.4,312.3 237.9,312 238.4,311.6 239,311.3 239.5,310.8 240.1,310.4 240.8,310 241.4,309.5 242.1,309 242.8,308.4 243.5,307.8 244.3,307.2 245.1,306.6 245.9,305.9 246.8,305.1 247.7,304.3 248.7,303.5 249.8,302.7 250.8,301.7 252,300.8 253.2,299.8 254.4,298.7 255.7,297.5 257.1,296.3 258.5,295.1 260,293.7 261.5,292.3 263.2,290.8 264.9,289.2 266.7,287.6 268.6,285.8 270.6,284 272.6,282.1" fill="none" stroke="#f03030" stroke-width="0.7" stroke-opacity="0.95"/>
<polyline points="220.2,313.4 221,313.6 221.7,313.7 222.4,313.8 223.2,313.9 223.9,314 224.6,314.1 225.3,314.2 226,314.3 226.7,314.3 227.4,314.4 228.1,314.4 228.7,314.4 229.4,314.4 230,314.4 230.7,314.4 231.3,314.3 231.9,314.2 232.5,314.2 233,314 233.6,313.9 234.1,313.7 234.6,313.5 235.1,313.3 235.6,313.1 236,312.8 236.5,312.5 237,312.2 237.5,311.9 238,311.5 238.6,311.1 239.2,310.7 239.8,310.3 240.4,309.8 241,309.4 241.7,308.8 242.4,308.3 243.2,307.7 244,307.1 244.8,306.5 245.6,305.8 246.5,305 247.5,304.3 248.5,303.4 249.5,302.6 250.6,301.7 251.8,300.7 253,299.7 254.3,298.6 255.6,297.5 257,296.3 258.4,295 259.9,293.7 261.5,292.3 263.1,290.8 264.9,289.2 266.7,287.6 268.6,285.8 270.5,284 272.6,282.1" fill="none" stroke="#1f6f1f" stroke-width="0.8" stroke-opacity="1"/>
<polyline points="241.9,320.5 241.8,320.3 241.7,320.2 241.5,320 241.4,319.9 241.3,319.7 241.2,319.5 241.1,319.3 241,319.1 240.9,318.9 240.8,318.7 240.7,318.5 240.7,318.3 240.6,318 240.5,317.8 240.5,317.5 240.5,317.3 240.4,317 240.4,316.7 240.5,316.4 240.5,316.1 240.6,315.8 240.6,315.5 240.8,315.1 240.9,314.8 241.1,314.4 241.4,314.1 241.7,313.7 242,313.3 242.3,312.9 242.7,312.4 243.1,312 243.5,311.5 243.9,311 244.4,310.4 244.9,309.9 245.4,309.2 246,308.6 246.6,308 247.3,307.3 248,306.5 248.8,305.7 249.6,304.9 250.4,304.1 251.3,303.2 252.3,302.2 253.3,301.2 254.4,300.1 255.5,299 256.7,297.8 258,296.6 259.4,295.3 260.8,294 262.4,292.5 264,291 265.7,289.5 267.5,287.8 269.4,286.1 271.4,284.2 273.4,282.3" fill="none" stroke="#f03030" stroke-width="0.7" stroke-opacity="0.95"/>
<polyline points="248.4,322.6 247.8,322.3 247.2,322 246.7,321.7 246.1,321.4 245.6,321.1 245.1,320.8 244.6,320.5 244.2,320.2 243.7,319.8 243.3,319.5 242.9,319.2 242.5,318.9 242.2,318.6 241.9,318.3 241.7,317.9 241.5,317.6 241.3,317.3 241.1,316.9 241.1,316.6 241.1,316.3 241.1,316 241.1,315.6 241.3,315.3 241.4,314.9 241.6,314.6 241.8,314.2 242.1,313.8 242.4,313.4 242.7,313 243.1,312.6 243.4,312.1 243.8,311.6 244.3,311.1 244.7,310.5 245.2,310 245.8,309.4 246.3,308.7 247,308.1 247.6,307.4 248.3,306.6 249.1,305.8 249.8,305 250.7,304.1 251.6,303.2 252.5,302.3 253.5,301.2 254.5,300.2 255.7,299.1 256.9,297.9 258.1,296.6 259.5,295.3 260.9,294 262.4,292.5 264,291 265.7,289.5 267.5,287.8 269.4,286.1 271.4,284.2 273.5,282.3" fill="none" stroke="#1f6f1f" stroke-width="0.8" stroke-opacity="1"/>
<g fill="currentColor" stroke="currentColor" stroke-width=".3" stroke-linejoin="round">
<path color="#ff2200" d="M246 261.8l1.6 2.2l1.3-.3l-1.6-2.8z"/>
<path color="#ff6900" d="M244.4 259.3l1.6 2.4l1.3-.9l-1.6-2z"/>
<path color="#ff1200" d="M247.6 264l1.6-.3l1.3-.9l-1.6 .8z"/>
<path color="#ffa900" d="M242.8 257.9l1.6 1.4l1.3-.5l-1.6-3z"/>
<path color="#ff2200" d="M244.7 262.9l1.6 2.9l1.3-1.8l-1.6-2.2z"/>
<path color="#ff6300" d="M243.1 261.5l1.6 1.3l1.3-1.1l-1.6-2.4z"/>
<path color="#ff9f00" d="M241.5 258.6l1.6 3l1.3-2.2l-1.6-1.4z"/>
<path color="#ff1200" d="M246.3 265.8l1.6-.9l1.3-1.3l-1.6 .3z"/>
<path color="#ff5e00" d="M249.2 263.7l1.6-2.4l1.3-1.5l-1.6 3z"/>
<path color="#ff0700" d="M243.4 265.7l1.6 2.3l1.3-2.1l-1.6-2.9z"/>
<path color="#ff4e00" d="M241.8 262.5l1.6 3.2l1.3-2.8l-1.6-1.3z"/>
<path color="#ff8e00" d="M240.1 260.7l1.6 1.7l1.3-.9l-1.6-3z"/>
<path color="#ff0003" d="M245 268l1.6-1.6l1.3-1.4l-1.6 .9z"/>
<path color="#ff5800" d="M247.9 264.9l1.6-2.4l1.3-1.2l-1.6 2.4z"/>
<path color="#ffa400" d="M250.8 261.3l1.6-.7l1.3-.7l-1.6 0z"/>
<path color="#ff0029" d="M242.1 267.8l1.6 2.5l1.3-2.3l-1.6-2.3z"/>
<path color="#ff2800" d="M240.5 264.9l1.6 2.8l1.3-2.1l-1.6-3.2z"/>
<path color="#ff0029" d="M243.7 270.3l1.6-.9l1.3-3.1l-1.6 1.6z"/>
<path color="#ff6e00" d="M238.8 263.3l1.6 1.6l1.3-2.5l-1.6-1.7z"/>
<path color="#ffc400" d="M252.4 260.6l1.6-.6l1.3-1.1l-1.6 .9z"/>
<path color="#ff9900" d="M249.5 262.5l1.6 .2l1.3-2.1l-1.6 .7z"/>
<path color="#ff5800" d="M246.6 266.3l1.6-3.2l1.3-.6l-1.6 2.4z"/>
<path color="#ff0029" d="M240.8 268.7l1.6 1.6l1.3 0l-1.6-2.5z"/>
<path color="#ff1800" d="M239.1 265.9l1.6 2.9l1.3-1l-1.6-2.8z"/>
<path color="#ff5e00" d="M237.5 263.5l1.6 2.4l1.3-.9l-1.6-1.6z"/>
<path color="#ff0029" d="M242.4 270.3l1.6-.3l1.3-.6l-1.6 .9z"/>
<path color="#fff500" d="M254 260l1.6-1.4l1.3-.6l-1.6 .9z"/>
<path color="#ffbf00" d="M251.1 262.7l1.6-1.8l1.3-.9l-1.6 .6z"/>
<path color="#ff3d00" d="M245.3 269.4l1.6-4.1l1.3-2.2l-1.6 3.2z"/>
<path color="#ff8e00" d="M248.2 263.1l1.6 .7l1.3-1.1l-1.6-.2z"/>
<path color="#f3ff00" d="M255.6 258.6l1.6 1.3l1.3-1.6l-1.6-.3z"/>
<path color="#ff000e" d="M239.4 267.5l1.7 3.9l1.3-1l-1.6-1.6z"/>
<path color="#ff4300" d="M237.7 264.8l1.6 2.6l1.4 1.2l-1.6-2.9z"/>
<path color="#ff0023" d="M241 271.3l1.6-1.3l1.3-.1l-1.6 .3z"/>
<path color="#ff2200" d="M244 270l1.6-3.4l1.3-1.3l-1.6 4.1z"/>
<path color="#ffaf00" d="M249.8 263.8l1.6-.9l1.3-2l-1.6 1.8z"/>
<path color="#f3ff00" d="M257.3 259.9l1.6 .6l1.3-2.1l-1.6-.1z"/>
<path color="#fffb00" d="M252.7 260.9l1.6-.7l1.3-1.6l-1.6 1.4z"/>
<path color="#ff8400" d="M236.1 263.2l1.6 1.7l1.4 1l-1.6-2.4z"/>
<path color="#ff8400" d="M246.9 265.3l1.6 .3l1.3-1.8l-1.6-.7z"/>
<path color="#f3ff00" d="M254.3 260.1l1.6 .7l1.3-1l-1.6-1.3z"/>
<path color="#cdff00" d="M258.9 260.4l1.6-1.8l1.3-1.4l-1.6 1.1z"/>
<path color="#ff9900" d="M248.5 265.6l1.6-.8l1.3-2l-1.6 .9z"/>
<path color="#ff0200" d="M238.1 269.7l1.6 2.1l1.3-.4l-1.7-3.9z"/>
<path color="#feff00" d="M256 260.9l1.6 .3l1.3-.8l-1.6-.6z"/>
<path color="#fff000" d="M251.4 262.9l1.6-1.5l1.3-1.2l-1.6 .7z"/>
<path color="#ff7300" d="M245.6 266.6l1.6-.3l1.3-.7l-1.6-.3z"/>
<path color="#ff3800" d="M242.6 270.1l1.6-3.1l1.3-.3l-1.6 3.4z"/>
<path color="#ff000e" d="M239.7 271.8l1.6-1.1l1.3-.6l-1.6 1.3z"/>
<path color="#ff5e00" d="M236.4 266.1l1.7 3.6l1.3-2.2l-1.6-2.6z"/>
<path color="#ff9f00" d="M234.8 264.9l1.6 1.1l1.3-1.2l-1.6-1.7z"/>
<path color="#ff0029" d="M236.8 273.6l1.6 1.7l1.3-3.6l-1.6-2.1z"/>
<path color="#f9ff00" d="M253 261.3l1.6 .4l1.3-.8l-1.6-.7z"/>
<path color="#ff0029" d="M235.5 278.2l1.6 .6l1.3-3.4l-1.6-1.7z"/>
<path color="#d8ff00" d="M257.6 261.2l1.6-1.6l1.3-1l-1.6 1.8z"/>
<path color="#ff1d00" d="M235.1 270.5l1.7 3.2l1.3-4l-1.7-3.6z"/>
<path color="#8dff00" d="M260.5 258.6l1.7-1.5l1.3-1.3l-1.7 1.5z"/>
<path color="#ff0029" d="M233.8 274.4l1.7 3.8l1.3-4.6l-1.7-3.2z"/>
<path color="#ff9400" d="M247.2 266.3l1.6-.9l1.3-.6l-1.6 .8z"/>
<path color="#ffe000" d="M250.1 264.8l1.6-2.4l1.3-1.1l-1.6 1.5z"/>
<path color="#ff6300" d="M233.5 268.5l1.6 2l1.3-4.4l-1.6-1.1z"/>
<path color="#ff0029" d="M238.4 275.4l1.6-1.5l1.3-3.2l-1.6 1.1z"/>
<path color="#f9ff00" d="M254.7 261.7l1.6 .7l1.3-1.2l-1.6-.3z"/>
<path color="#ff0003" d="M232.2 272.9l1.6 1.4l1.3-3.9l-1.6-2z"/>
<path color="#ff8400" d="M244.2 266.9l1.6 .2l1.3-.8l-1.6 .3z"/>
<path color="#ff0029" d="M237.1 278.7l1.6-1.6l1.3-3.3l-1.6 1.5z"/>
<path color="#ff4800" d="M241.3 270.7l1.6-2.2l1.3-1.5l-1.6 3.1z"/>
<path color="#f9ff00" d="M251.7 262.5l1.6 .6l1.3-1.4l-1.6-.4z"/>
<path color="#51ff00" d="M262.2 257.2l1.7-1.1l1.3-1.2l-1.7 1z"/>
<path color="#ff0029" d="M234 275.4l1.7 2.5l1.4 .9l-1.6-.6z"/>
<path color="#d8ff00" d="M256.3 262.4l1.6-1.3l1.3-1.5l-1.6 1.6z"/>
<path color="#92ff00" d="M259.2 259.6l1.7-1.2l1.3-1.3l-1.7 1.5z"/>
<path color="#ffda00" d="M248.8 265.4l1.6-1.9l1.3-1.1l-1.6 2.4z"/>
<path color="#ff0029" d="M232.4 272.1l1.7 3.3l1.4 2.8l-1.7-3.8z"/>
<path color="#ffa400" d="M245.8 267.1l1.6-1.4l1.3-.3l-1.6 .9z"/>
<path color="#f9ff00" d="M253.4 263.1l1.6 .5l1.3-1.2l-1.6-.7z"/>
<path color="#ff0003" d="M230.7 271.3l1.6 .7l1.4 2.3l-1.6-1.4z"/>
<path color="#ff2d00" d="M240 273.8l1.6-3.4l1.3-2l-1.6 2.2z"/>
<path color="#ff0029" d="M235.7 277.9l1.6-1.7l1.4 1l-1.6 1.6z"/>
<path color="#ff8e00" d="M242.9 268.4l1.6-.9l1.3-.4l-1.6-.2z"/>
<path color="#feff00" d="M250.4 263.5l1.6 .8l1.3-1.2l-1.6-.6z"/>
<path color="#16ff00" d="M263.8 256.1l1.7-1.4l1.3-1.2l-1.7 1.4z"/>
<path color="#56ff00" d="M260.9 258.4l1.7-1.1l1.3-1.2l-1.7 1.1z"/>
<path color="#ff0009" d="M238.7 277.2l1.6-4.3l1.3-2.5l-1.6 3.4z"/>
<path color="#deff00" d="M255 263.6l1.6-1.5l1.3-1l-1.6 1.3z"/>
<path color="#97ff00" d="M257.9 261.1l1.7-1.6l1.3-1.1l-1.7 1.2z"/>
<path color="#ffea00" d="M247.5 265.8l1.6-1.4l1.3-.8l-1.6 1.9z"/>
<path color="#feff00" d="M252 264.3l1.6 .1l1.3-.8l-1.6-.5z"/>
<path color="#ffb400" d="M244.5 267.5l1.6-.7l1.3-1.1l-1.6 1.4z"/>
<path color="#ff7900" d="M241.6 270.4l1.6 .3l1.3-3.2l-1.6 .9z"/>
<path color="#1bff00" d="M262.6 257.3l1.7-1.4l1.3-1.2l-1.7 1.4z"/>
<path color="#f9ff00" d="M249.1 264.3l1.6 1.3l1.3-1.3l-1.6-.8z"/>
<path color="#5cff00" d="M259.6 259.5l1.7-1l1.3-1.2l-1.7 1.1z"/>
<path color="#00ff30" d="M265.5 254.7l1.7-1.9l1.3-1.2l-1.7 1.9z"/>
<path color="#ff000e" d="M237.3 276.2l1.6-3.2l1.4-.1l-1.6 4.3z"/>
<path color="#ff001e" d="M232.6 273.3l1.6 1.8l1.4 2.7l-1.7-2.5z"/>
<path color="#97ff00" d="M256.6 262.1l1.7-1.6l1.3-1l-1.7 1.6z"/>
<path color="#deff00" d="M253.7 264.4l1.6-1l1.3-1.3l-1.6 1.5z"/>
<path color="#ff4e00" d="M240.2 272.9l1.6-.8l1.3-1.3l-1.6-.3z"/>
<path color="#ff2d00" d="M230.9 270.4l1.7 2.9l1.4 2.1l-1.7-3.3z"/>
<path color="#ffa400" d="M243.2 270.8l1.6-1.8l1.3-2.1l-1.6 .7z"/>
<path color="#ffea00" d="M246.1 266.9l1.6-.4l1.3-2.1l-1.6 1.4z"/>
<path color="#feff00" d="M250.7 265.6l1.6 .3l1.3-1.5l-1.6-.1z"/>
<path color="#ff7300" d="M229.3 268l1.7 2.4l1.4 1.7l-1.6-.7z"/>
<path color="#ff001e" d="M234.3 275.1l1.6-.7l1.4 1.7l-1.6 1.7z"/>
<path color="#20ff00" d="M261.3 258.4l1.7-1.4l1.3-1.2l-1.7 1.4z"/>
<path color="#feff00" d="M247.8 266.5l1.6-.2l1.3-.6l-1.6-1.3z"/>
<path color="#00ff2b" d="M264.2 255.9l1.7-2l1.3-1.2l-1.7 1.9z"/>
<path color="#5cff00" d="M258.3 260.5l1.7-.9l1.3-1.2l-1.7 1z"/>
<path color="#97ff00" d="M255.3 263.4l1.7-1.7l1.3-1.2l-1.7 1.6z"/>
<path color="#deff00" d="M252.4 266l1.6-1.6l1.3-1l-1.6 1z"/>
<path color="#ff8900" d="M241.8 272.1l1.6-2.4l1.3-.8l-1.6 1.8z"/>
<path color="#ffe000" d="M244.8 268.9l1.6-2l1.3-.4l-1.6 .4z"/>
<path color="#ff5300" d="M238.8 273l1.6-.9l1.4 0l-1.6 .8z"/>
<path color="#00ff97" d="M267.2 252.7l1.7-2.9l1.3-1.2l-1.7 2.9z"/>
<path color="#feff00" d="M249.4 266.2l1.6 .2l1.3-.5l-1.6-.3z"/>
<path color="#ff3d00" d="M235.9 274.5l1.6-2.6l1.4 1.2l-1.6 3.2z"/>
<path color="#ff2d00" d="M231.2 273.5l1.7 2.1l1.4-.5l-1.6-1.8z"/>
<path color="#ff7300" d="M229.5 270.7l1.7 2.9l1.4-.2l-1.7-2.9z"/>
<path color="#20ff00" d="M260 259.6l1.7-1.4l1.3-1.2l-1.7 1.4z"/>
<path color="#feff00" d="M246.4 266.9l1.6 .7l1.3-1.4l-1.6 .2z"/>
<path color="#00ff2b" d="M262.9 257l1.7-2l1.3-1.2l-1.7 2z"/>
<path color="#5cff00" d="M257 261.7l1.7-.9l1.3-1.1l-1.7 .9z"/>
<path color="#ff2200" d="M232.9 275.7l1.6 .2l1.4-1.4l-1.6 .7z"/>
<path color="#9dff00" d="M254 264.4l1.7-1.4l1.3-1.3l-1.7 1.7z"/>
<path color="#ffbf00" d="M227.9 268.4l1.7 2.2l1.4-.3l-1.7-2.4z"/>
<path color="#deff00" d="M251 266.4l1.6-.9l1.3-1.2l-1.6 1.6z"/>
<path color="#ff9400" d="M240.5 272.1l1.6-1.2l1.4-1.2l-1.6 2.4z"/>
<path color="#00ff91" d="M265.9 253.9l1.7-2.9l1.3-1.2l-1.7 2.9z"/>
<path color="#ffe500" d="M243.4 269.7l1.6-2.3l1.4-.5l-1.6 2z"/>
<path color="#f9ff00" d="M248.1 267.6l1.7 .5l1.3-1.7l-1.6-.2z"/>
<path color="#ff8400" d="M237.5 271.9l1.6 .2l1.4 .1l-1.6 .9z"/>
<path color="#b2ff00" d="M283.9 264.3l1.7 1.9l1.2-.9l-1.6-2.3z"/>
<path color="#4cff00" d="M280.5 260.5l1.7 1.8l1.2-1.2l-1.7-1.9z"/>
<path color="#7cff00" d="M282.2 262.3l1.7 2l1.2-1.3l-1.7-1.8z"/>
<path color="#ff3800" d="M229.8 274.4l1.7 3.2l1.4-1.9l-1.7-2.1z"/>
<path color="#d8ff00" d="M285.5 266.1l1.7 1.3l1.2-.8l-1.7-1.3z"/>
<path color="#10ff00" d="M278.9 258.1l1.7 2.4l1.2-1.2l-1.6-2.4z"/>
<path color="#26ff00" d="M258.7 260.8l1.7-1.4l1.3-1.1l-1.7 1.4z"/>
<path color="#00ff26" d="M261.6 258.2l1.7-2l1.3-1.2l-1.7 2z"/>
<path color="#feff00" d="M287.2 267.4l1.7 1.6l1.2-.7l-1.7-1.8z"/>
<path color="#61ff00" d="M255.7 262.9l1.7-1.1l1.3-1.1l-1.7 .9z"/>
<path color="#00d0ff" d="M268.9 249.8l1.7-5.1l1.3-1.2l-1.7 5.1z"/>
<path color="#ffda00" d="M288.9 269l1.7 2.1l1.2-1.8l-1.7-1z"/>
<path color="#00ff3b" d="M277.2 255.2l1.6 2.9l1.3-1.2l-1.6-2.9z"/>
<path color="#ff2200" d="M231.5 277.5l1.6-1.3l1.4-.4l-1.6-.2z"/>
<path color="#9dff00" d="M252.7 265.5l1.7-1.5l1.3-1.1l-1.7 1.4z"/>
<path color="#f3ff00" d="M245.1 267.4l1.7 .9l1.3-.8l-1.6-.7z"/>
<path color="#ff8e00" d="M228.1 271l1.7 3.4l1.4-.8l-1.7-2.9z"/>
<path color="#ff6e00" d="M234.5 275.9l1.6-4.1l1.4 0l-1.6 2.6z"/>
<path color="#d8ff00" d="M249.7 268.1l1.6-1.8l1.3-.7l-1.6 .9z"/>
<path color="#ffcf00" d="M226.5 270l1.6 1l1.4-.3l-1.7-2.2z"/>
<path color="#00ff8c" d="M264.6 255.1l1.7-2.9l1.3-1.2l-1.7 2.9z"/>
<path color="#ffbf00" d="M290.5 271.1l1.7 .5l1.2-1.2l-1.7-1.1z"/>
<path color="#ffea00" d="M242.1 271l1.6-2.7l1.4-.8l-1.6 2.3z"/>
<path color="#f9ff00" d="M246.7 268.4l1.7 .5l1.3-.7l-1.7-.5z"/>
<path color="#ffaf00" d="M239.1 272l1.6-.9l1.4-.2l-1.6 1.2z"/>
<path color="#ffa900" d="M292.2 271.6l1.7 1.7l1.2-1.2l-1.7-1.7z"/>
<path color="#00ffa1" d="M275.6 251.2l1.6 4l1.3-1.2l-1.6-4z"/>
<path color="#ff2800" d="M228.4 277l1.7 2l1.4-1.4l-1.7-3.2z"/>
<path color="#ff8e00" d="M293.9 273.3l1.7 .8l1.2-1.4l-1.7-.6z"/>
<path color="#b2ff00" d="M282.6 265.4l1.7 2.3l1.2-1.5l-1.7-1.9z"/>
<path color="#4cff00" d="M279.3 261.7l1.7 1.8l1.2-1.2l-1.7-1.8z"/>
<path color="#7cff00" d="M281 263.5l1.7 1.9l1.2-1.1l-1.7-2z"/>
<path color="#deff00" d="M284.3 267.6l1.7 1.8l1.3-2l-1.7-1.3z"/>
<path color="#16ff00" d="M277.6 259.3l1.7 2.4l1.3-1.2l-1.7-2.4z"/>
<path color="#fff500" d="M286 269.4l1.7 2l1.3-2.4l-1.7-1.6z"/>
<path color="#26ff00" d="M257.3 261.9l1.7-1.4l1.3-1.1l-1.7 1.4z"/>
<path color="#ff7900" d="M226.8 274l1.7 3l1.4-2.6l-1.7-3.4z"/>
<path color="#00ff26" d="M260.3 259.3l1.7-2l1.3-1.1l-1.7 2z"/>
<path color="#00d6ff" d="M267.6 251l1.7-5.2l1.3-1.2l-1.7 5.1z"/>
<path color="#ffcf00" d="M287.6 271.4l1.7 .5l1.2-.8l-1.7-2.1z"/>
<path color="#61ff00" d="M254.4 264l1.7-1l1.3-1.1l-1.7 1.1z"/>
<path color="#00ff36" d="M276 256.4l1.6 3l1.3-1.2l-1.6-2.9z"/>
<path color="#ffba00" d="M225.1 272.4l1.7 1.6l1.4-3l-1.6-1z"/>
<path color="#ffb400" d="M236.1 271.8l1.7 .8l1.4-.6l-1.6-.2z"/>
<path color="#ff2800" d="M230.1 278.9l1.6-2.1l1.4-.5l-1.6 1.3z"/>
<path color="#97ff00" d="M251.4 266.2l1.7-1.2l1.3-1l-1.7 1.5z"/>
<path color="#ff9400" d="M295.6 274.1l1.7 .4l1.2-2.4l-1.7 .6z"/>
<path color="#e8ff00" d="M243.7 268.3l1.7 1.3l1.3-1.2l-1.7-.9z"/>
<path color="#d3ff00" d="M248.4 268.8l1.7-1.4l1.3-1.1l-1.6 1.8z"/>
<path color="#ffba00" d="M289.3 271.9l1.7 1.6l1.2-1.9l-1.7-.5z"/>
<path color="#ff7900" d="M233.1 276.3l1.6-2.7l1.4-1.7l-1.6 4.1z"/>
<path color="#00ff8c" d="M263.3 256.2l1.7-2.9l1.3-1.2l-1.7 2.9z"/>
<path color="#00bbff" d="M274 244.7l1.6 6.5l1.3-1.2l-1.6-6.4z"/>
<path color="#fff000" d="M240.7 271.1l1.6-1.1l1.4-1.8l-1.6 2.7z"/>
<path color="#ffa400" d="M291 273.5l1.7 .3l1.2-.6l-1.7-1.7z"/>
<path color="#00ff9c" d="M274.3 252.4l1.6 4l1.3-1.2l-1.6-4z"/>
<path color="#ff8900" d="M297.3 274.5l1.7 1.2l1.2-1.5l-1.7-2.1z"/>
<path color="#f3ff00" d="M245.4 269.6l1.7 .2l1.3-.9l-1.7-.5z"/>
<path color="#bdff00" d="M281.4 267.1l1.7 1.9l1.2-1.3l-1.7-2.3z"/>
<path color="#ff8e00" d="M292.7 273.8l1.7 1.6l1.2-1.4l-1.7-.8z"/>
<path color="#ffca00" d="M237.7 272.6l1.6-.8l1.4-.7l-1.6 .9z"/>
<path color="#e8ff00" d="M283 269l1.7 1.4l1.2-.9l-1.7-1.8z"/>
<path color="#87ff00" d="M279.7 264.8l1.7 2.3l1.3-1.7l-1.7-1.9z"/>
<path color="#51ff00" d="M278 262.9l1.7 1.9l1.3-1.3l-1.7-1.8z"/>
<path color="#1bff00" d="M276.4 260.5l1.7 2.4l1.3-1.2l-1.7-2.4z"/>
<path color="#ffea00" d="M284.7 270.3l1.7 1.5l1.2-.4l-1.7-2z"/>
<path color="#001dff" d="M270.6 244.6l.9-4.8l1.3-1.2l-.9 4.8z"/>
<path color="#26ff00" d="M256 263l1.7-1.4l1.3-1.1l-1.7 1.4z"/>
<path color="#ffca00" d="M286.4 271.8l1.7 1.9l1.3-1.9l-1.7-.5z"/>
<path color="#00ff26" d="M259 260.5l1.7-2l1.3-1.1l-1.7 2z"/>
<path color="#00d6ff" d="M266.3 252.1l1.7-5.2l1.3-1.2l-1.7 5.2z"/>
<path color="#ff8e00" d="M299 275.7l1.8-1.2l1.2-1l-1.8 .8z"/>
<path color="#ff3d00" d="M302.4 278.1l.7-.2l1.2-.3l-.7-.7z"/>
<path color="#00ff30" d="M274.7 257.6l1.7 3l1.3-1.2l-1.6-3z"/>
<path color="#5cff00" d="M253 265l1.7-1l1.3-1l-1.7 1z"/>
<path color="#ffa400" d="M288.1 273.8l1.7 2.2l1.3-2.5l-1.7-1.6z"/>
<path color="#ff8400" d="M294.4 275.4l1.7 .2l1.2-1.1l-1.7-.4z"/>
<path color="#ff5300" d="M227 274.6l1.7 2.2l1.5 2.1l-1.7-2z"/>
<path color="#ff7300" d="M300.8 274.4l1.6 3.7l1.2-1.2l-1.6-3.5z"/>
<path color="#ff9400" d="M225.3 272.4l1.7 2.2l1.5 2.3l-1.7-3z"/>
<path color="#92ff00" d="M250 267.4l1.7-1.3l1.3-1l-1.7 1.2z"/>
<path color="#ffbf00" d="M234.7 273.5l1.6 .3l1.4-1.2l-1.7-.8z"/>
<path color="#e8ff00" d="M242.4 270.1l1.7 .1l1.4-.6l-1.7-1.3z"/>
<path color="#00ff86" d="M262 257.4l1.7-2.9l1.3-1.1l-1.7 2.9z"/>
<path color="#ff8900" d="M289.7 276l1.7 .8l1.3-3l-1.7-.3z"/>
<path color="#cdff00" d="M247 269.8l1.7-1.3l1.3-1.1l-1.7 1.4z"/>
<path color="#ffd500" d="M223.6 270l1.7 2.4l1.5 1.5l-1.7-1.6z"/>
<path color="#ff8400" d="M231.7 276.8l1.6-2.5l1.4-.7l-1.6 2.7z"/>
<path color="#ff7e00" d="M296.1 275.6l1.7 1.2l1.2-1.2l-1.7-1.2z"/>
<path color="#00c0ff" d="M272.7 245.9l1.6 6.5l1.3-1.2l-1.6-6.5z"/>
<path color="#00ff9c" d="M273.1 253.6l1.6 4l1.3-1.2l-1.6-4z"/>
<path color="#ff5800" d="M228.6 276.8l1.6-.8l1.4 .8l-1.6 2.1z"/>
<path color="#ff7900" d="M291.4 276.8l1.7 .7l1.2-2l-1.7-1.6z"/>
<path color="#fffb00" d="M239.3 271.8l1.6-1.3l1.4-.5l-1.6 1.1z"/>
<path color="#e8ff00" d="M244 270.2l1.7 .3l1.4-.7l-1.7-.2z"/>
<path color="#c3ff00" d="M280.1 267.8l1.7 2.4l1.3-1.3l-1.7-1.9z"/>
<path color="#eeff00" d="M281.8 270.2l1.7 1.5l1.3-1.4l-1.7-1.4z"/>
<path color="#87ff00" d="M278.4 265.9l1.7 1.9l1.2-.7l-1.7-2.3z"/>
<path color="#56ff00" d="M276.8 264.1l1.7 1.8l1.3-1.1l-1.7-1.9z"/>
<path color="#1bff00" d="M275.1 261.7l1.7 2.4l1.3-1.2l-1.7-2.4z"/>
<path color="#0900ff" d="M273.3 238.8l.8 5.9l1.3-1.2l-.8-5.8z"/>
<path color="#ffd500" d="M236.3 273.8l1.6-1l1.4-1l-1.6 .8z"/>
<path color="#001dff" d="M269.3 245.8l.9-4.9l1.3-1.1l-.9 4.8z"/>
<path color="#fff000" d="M283.5 271.7l1.7 1.5l1.2-1.4l-1.7-1.5z"/>
<path color="#ff8e00" d="M286.8 275.1l1.7 1.8l1.2-1l-1.7-2.2z"/>
<path color="#ffc400" d="M285.1 273.2l1.7 1.9l1.2-1.4l-1.7-1.9z"/>
<path color="#ff7300" d="M293.1 277.4l1.7 .1l1.2-1.9l-1.7-.2z"/>
<path color="#20ff00" d="M254.7 264l1.7-1.4l1.3-1l-1.7 1.4z"/>
<path color="#00dbff" d="M265 253.3l1.7-5.2l1.3-1.1l-1.7 5.2z"/>
<path color="#ff8e00" d="M297.8 276.8l1.8-1l1.2-1.4l-1.8 1.2z"/>
<path color="#00ff26" d="M257.7 261.5l1.7-2l1.3-1.1l-1.7 2z"/>
<path color="#00ff30" d="M273.4 258.7l1.7 3l1.3-1.2l-1.7-3z"/>
<path color="#ff3d00" d="M301.2 279.4l.7 .4l1.2-2l-.7 .2z"/>
<path color="#ff6e00" d="M288.5 276.9l1.7 1.2l1.2-1.3l-1.7-.8z"/>
<path color="#5cff00" d="M251.7 266.1l1.7-1.1l1.3-1l-1.7 1z"/>
<path color="#ff7300" d="M299.6 275.8l1.6 3.6l1.2-1.3l-1.6-3.7z"/>
<path color="#92ff00" d="M248.7 268.5l1.7-1.4l1.3-1.1l-1.7 1.3z"/>
<path color="#00ff86" d="M260.7 258.5l1.7-2.9l1.3-1.1l-1.7 2.9z"/>
<path color="#ff6900" d="M294.9 277.5l1.7 2.2l1.3-2.9l-1.7-1.2z"/>
<path color="#ff5800" d="M290.2 278.1l1.7 2l1.3-2.6l-1.7-.7z"/>
<path color="#ffc400" d="M233.3 274.3l1.6-.1l1.4-.3l-1.6-.3z"/>
<path color="#deff00" d="M241 270.6l1.7-.1l1.4-.3l-1.7-.1z"/>
<path color="#c8ff00" d="M245.7 270.5l1.7-1.2l1.4-.8l-1.7 1.3z"/>
<path color="#00c0ff" d="M271.5 247l1.6 6.5l1.3-1.2l-1.6-6.5z"/>
<path color="#00ff97" d="M271.8 254.7l1.6 4l1.3-1.2l-1.6-4z"/>
<path color="#ff4300" d="M291.9 280.1l1.7 1.3l1.3-3.8l-1.7-.1z"/>
<path color="#ffaf00" d="M230.3 276l1.6-2.3l1.4 .6l-1.6 2.5z"/>
<path color="#eeff00" d="M280.5 271l1.7 2l1.3-1.3l-1.7-1.5z"/>
<path color="#ff6e00" d="M296.5 279.7l1.8-1.3l1.3-2.6l-1.8 1z"/>
<path color="#f3ff00" d="M238 272.8l1.6-1.7l1.4-.6l-1.6 1.3z"/>
<path color="#bdff00" d="M278.8 268.9l1.7 2.1l1.3-.8l-1.7-2.4z"/>
<path color="#56ff00" d="M275.5 265.3l1.7 1.8l1.3-1.2l-1.7-1.8z"/>
<path color="#82ff00" d="M277.2 267.1l1.7 1.8l1.3-1.1l-1.7-1.9z"/>
<path color="#ff3300" d="M293.6 281.3l1.7 .7l1.3-2.4l-1.7-2.2z"/>
<path color="#0900ff" d="M272 240l.8 5.9l1.3-1.2l-.8-5.9z"/>
<path color="#1bff00" d="M273.8 262.9l1.7 2.4l1.3-1.2l-1.7-2.4z"/>
<path color="#ffea00" d="M282.2 273.1l1.7 1.4l1.3-1.2l-1.7-1.5z"/>
<path color="#ff2200" d="M300 281.5l.7 .5l1.2-2.1l-.7-.4z"/>
<path color="#0023ff" d="M268.1 247l.9-4.9l1.3-1.1l-.9 4.9z"/>
<path color="#ffaf00" d="M225.5 274.4l1.7 1.5l1.5 1l-1.7-2.2z"/>
<path color="#d3ff00" d="M242.6 270.4l1.7 .2l1.4-.1l-1.7-.3z"/>
<path color="#bc00ff" d="M271.5 239.8l1-7.5l1.3-1l-1 7.3z"/>
<path color="#ffe500" d="M223.8 272l1.7 2.3l1.5 .3l-1.7-2.2z"/>
<path color="#e3ff00" d="M222.2 270.7l1.7 1.4l1.5 .4l-1.7-2.4z"/>
<path color="#ffc400" d="M283.9 274.4l1.7 1.1l1.2-.4l-1.7-1.9z"/>
<path color="#00dbff" d="M263.7 254.4l1.7-5.2l1.3-1.1l-1.7 5.2z"/>
<path color="#ff5800" d="M298.3 278.4l1.6 3l1.2-2l-1.6-3.6z"/>
<path color="#ffe500" d="M234.9 274.1l1.6-1.4l1.4 .1l-1.6 1z"/>
<path color="#20ff00" d="M253.4 265l1.7-1.4l1.3-1l-1.7 1.4z"/>
<path color="#00ff30" d="M272.1 259.9l1.7 3l1.3-1.2l-1.7-3z"/>
<path color="#00ff26" d="M256.4 262.6l1.7-2l1.3-1l-1.7 2z"/>
<path color="#ff9f00" d="M285.6 275.6l1.7 1.7l1.2-.3l-1.7-1.8z"/>
<path color="#56ff00" d="M250.3 267.1l1.7-1.2l1.3-1l-1.7 1.1z"/>
<path color="#ff7900" d="M287.3 277.3l1.7 1.6l1.2-.7l-1.7-1.2z"/>
<path color="#ffa900" d="M227.2 275.8l1.6-.5l1.5 .7l-1.6 .8z"/>
<path color="#00ff86" d="M259.4 259.6l1.7-2.9l1.3-1.1l-1.7 2.9z"/>
<path color="#d200ff" d="M272.5 232.4l.8 6.5l1.3-1.1l-.8-6.4z"/>
<path color="#87ff00" d="M247.3 269.3l1.7-1.4l1.4-.7l-1.7 1.4z"/>
<path color="#ff5800" d="M289 278.8l1.7 1l1.2 .3l-1.7-2z"/>
<path color="#ff3d00" d="M295.3 282.1l1.8-.9l1.3-2.7l-1.8 1.3z"/>
<path color="#ff000e" d="M298.7 285.5l.7-.9l1.3-2.6l-.7-.5z"/>
<path color="#ff3300" d="M290.7 279.8l1.7 2.1l1.2-.6l-1.7-1.3z"/>
<path color="#00c6ff" d="M270.2 248.2l1.6 6.5l1.3-1.2l-1.6-6.5z"/>
<path color="#00ff97" d="M270.5 255.9l1.7 4l1.3-1.2l-1.6-4z"/>
<path color="#c8ff00" d="M239.6 271.1l1.7 .4l1.4-1.1l-1.7 .1z"/>
<path color="#ff2200" d="M297.1 281.1l1.6 4.3l1.3-4l-1.6-3z"/>
<path color="#b2ff00" d="M244.3 270.7l1.7-.9l1.4-.4l-1.7 1.2z"/>
<path color="#ffea00" d="M231.9 273.7l1.6-.1l1.4 .5l-1.6 .1z"/>
<path color="#ff1d00" d="M292.4 281.9l1.7 .4l1.2-.2l-1.7-.7z"/>
<path color="#eeff00" d="M279.3 272.6l1.7 1.5l1.3-1l-1.7-2z"/>
<path color="#56ff00" d="M274.2 266.4l1.7 1.9l1.3-1.2l-1.7-1.8z"/>
<path color="#bdff00" d="M277.6 270.1l1.7 2.5l1.3-1.6l-1.7-2.1z"/>
<path color="#87ff00" d="M275.9 268.3l1.7 1.8l1.3-1.2l-1.7-1.8z"/>
<path color="#0400ff" d="M270.7 241.1l.8 5.9l1.3-1.2l-.8-5.9z"/>
<path color="#20ff00" d="M272.5 264l1.7 2.4l1.3-1.1l-1.7-2.4z"/>
<path color="#0023ff" d="M266.8 248.1l.9-4.9l1.3-1.1l-.9 4.9z"/>
<path color="#ffea00" d="M280.9 274l1.7 1.4l1.3-1.1l-1.7-1.4z"/>
<path color="#bc00ff" d="M270.3 241l.9-7.5l1.3-1.1l-1 7.5z"/>
<path color="#d8ff00" d="M236.6 272.7l1.6-1.1l1.4-.5l-1.6 1.7z"/>
<path color="#00dbff" d="M262.4 255.6l1.7-5.2l1.3-1.1l-1.7 5.2z"/>
<path color="#00ff30" d="M270.9 261l1.7 3l1.3-1.1l-1.7-3z"/>
<path color="#ffcf00" d="M282.6 275.5l1.7 1.2l1.3-1.1l-1.7-1.1z"/>
<path color="#b8ff00" d="M241.3 271.6l1.7-.4l1.4-.5l-1.7-.2z"/>
<path color="#00ff2b" d="M255 263.6l1.7-2l1.3-1l-1.7 2z"/>
<path color="#1bff00" d="M252 266l1.7-1.4l1.3-1l-1.7 1.4z"/>
<path color="#ffa900" d="M284.3 276.7l1.7 1.9l1.3-1.3l-1.7-1.7z"/>
<path color="#ff2d00" d="M294.1 282.3l1.8-.2l1.2-1l-1.8 .9z"/>
<path color="#c3ff00" d="M220.7 270.9l1.7 1.3l1.5-.2l-1.7-1.4z"/>
<path color="#4cff00" d="M249 267.9l1.7-1.1l1.4-.8l-1.7 1.2z"/>
<path color="#ff0023" d="M297.5 285.1l.7 .4l1.2-1l-.7 .9z"/>
<path color="#fff000" d="M228.8 275.3l1.6-2.2l1.4 .6l-1.6 2.3z"/>
<path color="#eeff00" d="M222.4 272.2l1.7 2.2l1.5-.1l-1.7-2.3z"/>
<path color="#ff8400" d="M286 278.6l1.7 .9l1.2-.7l-1.7-1.6z"/>
<path color="#d200ff" d="M271.2 233.4l.8 6.6l1.3-1.1l-.8-6.5z"/>
<path color="#00ff8c" d="M258.1 260.6l1.7-2.9l1.3-1l-1.7 2.9z"/>
<path color="#ffe000" d="M224.1 274.4l1.7 1.2l1.5 .2l-1.7-1.5z"/>
<path color="#ff0d00" d="M295.9 282.1l1.7 3l1.2 .4l-1.6-4.3z"/>
<path color="#eeff00" d="M233.5 273.6l1.6-1l1.4 .1l-1.6 1.4z"/>
<path color="#00c6ff" d="M268.9 249.3l1.6 6.5l1.3-1.1l-1.6-6.5z"/>
<path color="#77ff00" d="M246 269.7l1.7-1.3l1.4-.6l-1.7 1.4z"/>
<path color="#00ff97" d="M269.2 257l1.7 4l1.3-1.1l-1.7-4z"/>
<path color="#ff6e00" d="M287.7 279.5l1.7 1.1l1.2-.8l-1.7-1z"/>
<path color="#b8ff00" d="M238.2 271.6l1.7 .3l1.4-.3l-1.7-.4z"/>
<path color="#ff5300" d="M289.5 280.6l1.7 .8l1.2 .5l-1.7-2.1z"/>
<path color="#eeff00" d="M278 273.2l1.7 2.2l1.3-1.4l-1.7-1.5z"/>
<path color="#bdff00" d="M276.3 271.5l1.7 1.8l1.3-.6l-1.7-2.5z"/>
<path color="#56ff00" d="M272.9 267.5l1.7 2l1.3-1.2l-1.7-1.9z"/>
<path color="#ffe500" d="M225.7 275.6l1.6-.7l1.5 .4l-1.6 .5z"/>
<path color="#87ff00" d="M274.6 269.5l1.7 2l1.3-1.4l-1.7-1.8z"/>
<path color="#97ff00" d="M242.9 271.2l1.7-1.1l1.4-.4l-1.7 .9z"/>
<path color="#0400ff" d="M269.4 242.2l.8 6l1.3-1.1l-.8-5.9z"/>
<path color="#1bff00" d="M271.2 265.1l1.7 2.4l1.3-1.1l-1.7-2.4z"/>
<path color="#0023ff" d="M265.4 249.2l.9-4.9l1.3-1.1l-.9 4.9z"/>
<path color="#ffe500" d="M279.7 275.4l1.7 1.5l1.3-1.4l-1.7-1.4z"/>
<path color="#b700ff" d="M269 242.1l.9-7.6l1.3-1.1l-.9 7.5z"/>
<path color="#00dbff" d="M261.1 256.6l1.7-5.2l1.3-1.1l-1.7 5.2z"/>
<path color="#ffcf00" d="M281.4 276.9l1.7 .9l1.3-1.1l-1.7-1.2z"/>
<path color="#00ff30" d="M269.6 262.1l1.7 3l1.3-1.1l-1.7-3z"/>
<path color="#ff4e00" d="M291.2 281.5l1.8-.1l1.2 1l-1.7-.4z"/>
<path color="#deff00" d="M230.4 273.1l1.7 .4l1.4 .1l-1.6 .1z"/>
<path color="#00ff30" d="M253.7 264.5l1.7-2l1.3-1l-1.7 2z"/>
<path color="#10ff00" d="M250.7 266.8l1.7-1.4l1.4-.8l-1.7 1.4z"/>
<path color="#ffa900" d="M283.1 277.8l1.7 1.9l1.3-1.1l-1.7-1.9z"/>
<path color="#b8ff00" d="M235.1 272.6l1.7-.5l1.4-.5l-1.6 1.1z"/>
<path color="#a2ff00" d="M239.9 271.9l1.7-.6l1.4-.1l-1.7 .4z"/>
<path color="#ff8400" d="M284.8 279.7l1.7 1.5l1.3-1.6l-1.7-.9z"/>
<path color="#d200ff" d="M269.9 234.5l.8 6.6l1.3-1.1l-.8-6.6z"/>
<path color="#00ff8c" d="M256.7 261.6l1.7-2.9l1.3-1l-1.7 2.9z"/>
<path color="#3bff00" d="M247.6 268.5l1.7-1.1l1.4-.6l-1.7 1.1z"/>
<path color="#00c6ff" d="M267.5 250.4l1.6 6.6l1.3-1.1l-1.6-6.5z"/>
<path color="#a8ff00" d="M219.2 271.7l1.7 1.1l1.5-.7l-1.7-1.3z"/>
<path color="#00ff97" d="M267.9 258.1l1.7 4l1.3-1.1l-1.7-4z"/>
<path color="#ff0200" d="M296.3 285l.7 .3l1.2 .2l-.7-.4z"/>
<path color="#c8ff00" d="M220.9 272.8l1.7 1l1.5 .6l-1.7-2.2z"/>
<path color="#ff7900" d="M286.5 281.2l1.7-.1l1.2-.5l-1.7-1.1z"/>
<path color="#ff5e00" d="M292.9 281.3l1.8-.4l1.2 1.2l-1.8 .2z"/>
<path color="#61ff00" d="M244.6 270.1l1.7-1.1l1.4-.5l-1.7 1.3z"/>
<path color="#deff00" d="M227.3 274.9l1.6-1.4l1.4-.5l-1.6 2.2z"/>
<path color="#eeff00" d="M222.6 273.8l1.7 1.5l1.5 .3l-1.7-1.2z"/>
<path color="#ff3800" d="M294.7 280.9l1.6 4.1l1.2 .1l-1.7-3z"/>
<path color="#bdff00" d="M275 272.5l1.7 2.2l1.3-1.5l-1.7-1.8z"/>
<path color="#bdff00" d="M232.1 273.5l1.6-.9l1.4 0l-1.6 1z"/>
<path color="#87ff00" d="M273.3 270.5l1.7 2l1.3-1l-1.7-2z"/>
<path color="#0400ff" d="M268.1 243.3l.8 6l1.3-1.1l-.8-6z"/>
<path color="#56ff00" d="M271.6 268.6l1.7 1.9l1.3-1l-1.7-2z"/>
<path color="#e8ff00" d="M276.7 274.7l1.7 1.3l1.3-.6l-1.7-2.2z"/>
<path color="#0023ff" d="M264.1 250.3l.9-4.9l1.3-1.1l-.9 4.9z"/>
<path color="#1bff00" d="M269.9 266.2l1.7 2.4l1.3-1.1l-1.7-2.4z"/>
<path color="#b700ff" d="M267.7 243.2l.9-7.7l1.3-1.1l-.9 7.6z"/>
<path color="#ffea00" d="M278.4 276l1.7 1.6l1.3-.7l-1.7-1.5z"/>
<path color="#9dff00" d="M236.8 272.1l1.7-.4l1.4 .1l-1.7-.3z"/>
<path color="#ff7300" d="M288.2 281.1l1.7 1.1l1.2-.7l-1.7-.8z"/>
<path color="#ffca00" d="M280.1 277.6l1.7 2.1l1.3-1.9l-1.7-.9z"/>
<path color="#00dbff" d="M259.8 257.7l1.7-5.2l1.3-1l-1.7 5.2z"/>
<path color="#7cff00" d="M241.5 271.3l1.7-1l1.4-.2l-1.7 1.1z"/>
<path color="#ff9f00" d="M281.8 279.7l1.7 2.2l1.3-2.3l-1.7-1.9z"/>
<path color="#00ff30" d="M268.2 263.2l1.7 3l1.3-1.1l-1.7-3z"/>
<path color="#ff6e00" d="M283.5 282l1.7 2l1.3-2.8l-1.7-1.5z"/>
<path color="#e8ff00" d="M224.3 275.3l1.6-.6l1.5 .1l-1.6 .7z"/>
<path color="#00ff36" d="M252.3 265.4l1.7-2l1.4-.8l-1.7 2z"/>
<path color="#05ff00" d="M249.3 267.4l1.7-1.4l1.4-.6l-1.7 1.4z"/>
<path color="#d200ff" d="M268.6 235.5l.8 6.7l1.3-1.1l-.8-6.6z"/>
<path color="#ff6900" d="M289.9 282.2l1.7 1.3l1.3-2.2l-1.8 .1z"/>
<path color="#ff5e00" d="M285.2 284l1.7 .1l1.3-3.1l-1.7 .1z"/>
<path color="#00ff91" d="M255.4 262.6l1.7-2.9l1.3-1l-1.7 2.9z"/>
<path color="#00c6ff" d="M266.2 251.5l1.7 6.6l1.3-1.1l-1.6-6.6z"/>
<path color="#b2ff00" d="M229 273.5l1.7-.1l1.4 0l-1.7-.4z"/>
<path color="#00ff97" d="M266.6 259.1l1.7 4l1.3-1l-1.7-4z"/>
<path color="#2bff00" d="M246.2 269l1.7-1.1l1.4-.5l-1.7 1.1z"/>
<path color="#97ff00" d="M233.7 272.6l1.7-.4l1.4 0l-1.7 .5z"/>
<path color="#82ff00" d="M238.4 271.8l1.7-.4l1.4-.1l-1.7 .6z"/>
<path color="#97ff00" d="M217.8 272.3l1.7 1l1.5-.5l-1.7-1.1z"/>
<path color="#ff4e00" d="M286.9 284.1l1.7 2.5l1.3-4.4l-1.7-1.1z"/>
<path color="#0400ff" d="M266.7 244.4l.8 6l1.3-1.1l-.8-6z"/>
<path color="#b8ff00" d="M273.7 273.5l1.7 2l1.3-.8l-1.7-2.2z"/>
<path color="#ff4e00" d="M282.2 283.1l1.7 3.2l1.3-2.3l-1.7-2z"/>
<path color="#ff1d00" d="M295.1 285.5l.7 1l1.2-1.2l-.7-.3z"/>
<path color="#51ff00" d="M270.3 269.6l1.7 2l1.3-1.1l-1.7-1.9z"/>
<path color="#82ff00" d="M272 271.6l1.7 1.9l1.3-1l-1.7-2z"/>
<path color="#0023ff" d="M262.8 251.4l.9-4.9l1.3-1.1l-.9 4.9z"/>
<path color="#e3ff00" d="M275.4 275.5l1.7 1.7l1.3-1.2l-1.7-1.3z"/>
<path color="#ff3300" d="M288.6 286.6l1.7 .6l1.3-3.7l-1.7-1.3z"/>
<path color="#a8ff00" d="M219.4 273.3l1.7 .9l1.5-.4l-1.7-1z"/>
<path color="#ff7900" d="M291.7 283.5l1.8-.8l1.3-1.8l-1.8 .4z"/>
<path color="#ff2200" d="M283.9 286.3l1.7 1.7l1.3-3.8l-1.7-.1z"/>
<path color="#b700ff" d="M266.3 244.3l.9-7.7l1.3-1.1l-.9 7.7z"/>
<path color="#46ff00" d="M243.2 270.3l1.7-.9l1.4-.4l-1.7 1.1z"/>
<path color="#16ff00" d="M268.6 267.2l1.7 2.4l1.3-1l-1.7-2.4z"/>
<path color="#ff8900" d="M280.5 281.5l1.7 1.6l1.3-1.1l-1.7-2.2z"/>
<path color="#ffc400" d="M278.8 278.7l1.7 2.8l1.3-1.7l-1.7-2.1z"/>
<path color="#fff500" d="M277.1 277.2l1.7 1.5l1.3-1.1l-1.7-1.6z"/>
<path color="#ff0200" d="M285.6 287.9l1.7 1.5l1.3-2.8l-1.7-2.5z"/>
<path color="#ff5800" d="M293.4 282.7l1.7 2.8l1.2-.5l-1.6-4.1z"/>
<path color="#b2ff00" d="M225.9 274.8l1.6-1.2l1.5 0l-1.6 1.4z"/>
<path color="#00d6ff" d="M258.4 258.7l1.7-5.2l1.3-1l-1.7 5.2z"/>
<path color="#ff0029" d="M287.3 289.4l1.7 2.3l1.3-4.5l-1.7-.6z"/>
<path color="#00ff36" d="M266.9 264.2l1.7 3l1.3-1l-1.7-3z"/>
<path color="#97ff00" d="M230.6 273.5l1.7-.6l1.4-.3l-1.6 .9z"/>
<path color="#bdff00" d="M221.1 274.2l1.7 .8l1.5 .4l-1.7-1.5z"/>
<path color="#77ff00" d="M235.4 272.2l1.7-.2l1.4-.2l-1.7 .4z"/>
<path color="#cd00ff" d="M267.3 236.6l.8 6.7l1.3-1.1l-.8-6.7z"/>
<path color="#56ff00" d="M240.1 271.4l1.7-.9l1.4-.2l-1.7 1z"/>
<path color="#00ff46" d="M251 266l1.7-2l1.4-.6l-1.7 2z"/>
<path color="#ff3d00" d="M290.3 287.2l1.8-.3l1.3-4.2l-1.8 .8z"/>
<path color="#ff0013" d="M293.8 290.4l.7-.1l1.3-3.7l-.7-1z"/>
<path color="#00ff10" d="M247.9 267.9l1.7-1.4l1.4-.5l-1.7 1.4z"/>
<path color="#00ff9c" d="M254 263.4l1.7-3l1.4-.8l-1.7 2.9z"/>
<path color="#00c6ff" d="M264.9 252.5l1.7 6.6l1.3-1l-1.7-6.6z"/>
<path color="#ff0023" d="M289 291.7l1.8-1l1.3-3.8l-1.8 .3z"/>
<path color="#ff2200" d="M292.1 286.9l1.7 3.5l1.4-4.9l-1.7-2.8z"/>
<path color="#00ff9c" d="M265.3 260.1l1.7 4.1l1.3-1l-1.7-4z"/>
<path color="#ff0029" d="M292.4 294.3l.7-.1l1.3-3.9l-.7 .1z"/>
<path color="#b8ff00" d="M222.8 275l1.6-.6l1.5 .4l-1.6 .6z"/>
<path color="#ff0029" d="M290.8 290.7l1.7 3.5l1.3-3.8l-1.7-3.5z"/>
<path color="#10ff00" d="M244.9 269.4l1.7-1.1l1.4-.4l-1.7 1.1z"/>
<path color="#82ff00" d="M216.3 272.9l1.7 .9l1.5-.5l-1.7-1z"/>
<path color="#0400ff" d="M265.4 245.5l.8 6l1.3-1.1l-.8-6z"/>
<path color="#8dff00" d="M227.5 273.6l1.7-.2l1.5 .1l-1.7 .1z"/>
<path color="#72ff00" d="M232.3 272.9l1.7-.4l1.4-.3l-1.7 .4z"/>
<path color="#0023ff" d="M261.5 252.4l.9-4.9l1.3-1l-.9 4.9z"/>
<path color="#82ff00" d="M270.7 272.6l1.7 2.1l1.3-1.2l-1.7-1.9z"/>
<path color="#4cff00" d="M269 270.6l1.7 2l1.3-1l-1.7-2z"/>
<path color="#ff2200" d="M282.7 285.3l1.7 2.2l1.2 .4l-1.7-1.7z"/>
<path color="#5cff00" d="M237 272l1.7-.6l1.4 0l-1.7 .4z"/>
<path color="#b700ff" d="M265 245.4l.9-7.7l1.3-1.1l-.9 7.7z"/>
<path color="#adff00" d="M272.4 274.7l1.7 1.5l1.3-.7l-1.7-2z"/>
<path color="#deff00" d="M274.1 276.2l1.7 1.9l1.3-.9l-1.7-1.7z"/>
<path color="#10ff00" d="M267.3 268.1l1.7 2.4l1.3-1l-1.7-2.4z"/>
<path color="#ff5e00" d="M281 283.4l1.7 1.9l1.2 1l-1.7-3.2z"/>
<path color="#fff500" d="M275.8 278.1l1.7 2.1l1.3-1.6l-1.7-1.5z"/>
<path color="#ffc400" d="M277.5 280.2l1.7 1.4l1.3-.1l-1.7-2.8z"/>
<path color="#ff9400" d="M279.3 281.6l1.7 1.7l1.3-.3l-1.7-1.6z"/>
<path color="#ff0700" d="M284.4 287.5l1.8-.4l1.2 2.3l-1.7-1.5z"/>
<path color="#00d0ff" d="M257.1 259.6l1.7-5.2l1.3-1l-1.7 5.2z"/>
<path color="#8dff00" d="M218 273.8l1.7 .5l1.5-.1l-1.7-.9z"/>
<path color="#2bff00" d="M241.8 270.5l1.7-.8l1.4-.3l-1.7 .9z"/>
<path color="#00ff3b" d="M265.6 265.1l1.7 3l1.3-1l-1.7-3z"/>
<path color="#ff0013" d="M286.1 287.2l1.7 1.9l1.2 2.6l-1.7-2.3z"/>
<path color="#cd00ff" d="M265.9 237.7l.8 6.8l1.3-1.1l-.8-6.7z"/>
<path color="#8dff00" d="M224.4 274.4l1.6-.7l1.5-.1l-1.6 1.2z"/>
<path color="#72ff00" d="M229.2 273.3l1.7-.3l1.4-.2l-1.7 .6z"/>
<path color="#92ff00" d="M219.6 274.4l1.7 .4l1.5 .2l-1.7-.8z"/>
<path color="#00c0ff" d="M263.6 253.5l1.7 6.6l1.3-1l-1.7-6.6z"/>
<path color="#00ff5b" d="M249.6 266.5l1.7-2l1.4-.5l-1.7 2z"/>
<path color="#56ff00" d="M233.9 272.5l1.7-.3l1.4-.2l-1.7 .2z"/>
<path color="#00ffa7" d="M252.7 264l1.7-3l1.4-.6l-1.7 3z"/>
<path color="#00ffa1" d="M263.9 261.1l1.7 4.1l1.3-1l-1.7-4.1z"/>
<path color="#36ff00" d="M238.7 271.4l1.7-.7l1.4-.2l-1.7 .9z"/>
<path color="#ff001e" d="M287.8 289.1l1.8-.3l1.2 2l-1.8 1z"/>
<path color="#00ff26" d="M246.5 268.3l1.7-1.4l1.4-.4l-1.7 1.4z"/>
<path color="#ff0029" d="M291.3 291.7l.7 .9l1.2 1.5l-.7 .1z"/>
<path color="#0400ff" d="M264.1 246.5l.8 6l1.3-1l-.8-6z"/>
<path color="#ff0029" d="M289.6 288.8l1.7 3l1.1 2.5l-1.7-3.5z"/>
<path color="#b700ff" d="M263.7 246.5l.9-7.7l1.3-1.1l-.9 7.7z"/>
<path color="#0023ff" d="M260.1 253.4l.9-4.9l1.3-1l-.9 4.9z"/>
<path color="#77ff00" d="M269.4 273.4l1.7 2.1l1.3-.8l-1.7-2.1z"/>
<path color="#6cff00" d="M214.8 273.8l1.7 .4l1.5-.4l-1.7-.9z"/>
<path color="#46ff00" d="M267.7 271.4l1.7 2l1.3-.8l-1.7-2z"/>
<path color="#a8ff00" d="M271.1 275.5l1.7 1.7l1.3-1l-1.7-1.5z"/>
<path color="#00ff0b" d="M243.5 269.7l1.7-1.1l1.4-.3l-1.7 1.1z"/>
<path color="#0bff00" d="M266 269l1.7 2.4l1.3-.8l-1.7-2.4z"/>
<path color="#d3ff00" d="M272.8 277.2l1.7 1.8l1.3-.9l-1.7-1.9z"/>
<path color="#82ff00" d="M221.3 274.7l1.6-.5l1.5 .1l-1.6 .6z"/>
<path color="#feff00" d="M274.5 279l1.7 1.5l1.3-.2l-1.7-2.1z"/>
<path color="#51ff00" d="M230.8 273.1l1.7-.3l1.4-.2l-1.7 .4z"/>
<path color="#67ff00" d="M226 273.7l1.7-.2l1.5-.2l-1.7 .2z"/>
<path color="#00cbff" d="M255.7 260.4l1.7-5.2l1.4-.8l-1.7 5.2z"/>
<path color="#ffda00" d="M276.3 280.5l1.7 1.5l1.3-.4l-1.7-1.4z"/>
<path color="#36ff00" d="M235.6 272.1l1.7-.5l1.4-.2l-1.7 .6z"/>
<path color="#00ff41" d="M264.3 265.9l1.7 3l1.3-.8l-1.7-3z"/>
<path color="#cd00ff" d="M264.6 238.7l.8 6.8l1.3-1.1l-.8-6.8z"/>
<path color="#ffba00" d="M278 282l1.7 1.4l1.3 0l-1.7-1.7z"/>
<path color="#72ff00" d="M216.5 274.2l1.7 .4l1.5-.2l-1.7-.5z"/>
<path color="#ff8e00" d="M279.7 283.3l1.7 1.5l1.2 .5l-1.7-1.9z"/>
<path color="#0bff00" d="M240.4 270.8l1.7-.8l1.4-.2l-1.7 .8z"/>
<path color="#ff6900" d="M281.4 284.8l1.7 1.4l1.2 1.3l-1.7-2.2z"/>
<path color="#00bbff" d="M262.2 254.5l1.7 6.6l1.3-1l-1.7-6.6z"/>
<path color="#00ffa7" d="M262.6 261.9l1.7 4.1l1.3-.8l-1.7-4.1z"/>
<path color="#00ff71" d="M248.2 266.9l1.7-2l1.4-.4l-1.7 2z"/>
<path color="#61ff00" d="M222.9 274.3l1.7-.3l1.5-.2l-1.6 .7z"/>
<path color="#4cff00" d="M227.7 273.5l1.7-.3l1.5-.2l-1.7 .3z"/>
<path color="#00ffbc" d="M251.3 264.5l1.7-3l1.4-.5l-1.7 3z"/>
<path color="#36ff00" d="M232.5 272.7l1.7-.4l1.4-.2l-1.7 .3z"/>
<path color="#ff5800" d="M283.1 286.2l1.8 .2l1.2 .8l-1.8 .4z"/>
<path color="#6cff00" d="M218.1 274.6l1.7-.1l1.5 .2l-1.7-.4z"/>
<path color="#0400ff" d="M262.8 247.5l.8 6l1.3-1l-.8-6z"/>
<path color="#00ff46" d="M245.1 268.6l1.7-1.4l1.4-.3l-1.7 1.4z"/>
<path color="#b700ff" d="M262.4 247.5l.9-7.7l1.3-1.1l-.9 7.7z"/>
<path color="#10ff00" d="M237.3 271.6l1.7-.7l1.4-.2l-1.7 .7z"/>
<path color="#001dff" d="M258.8 254.4l.9-4.9l1.3-1l-.9 4.9z"/>
<path color="#67ff00" d="M268.1 274.1l1.7 1.8l1.3-.4l-1.7-2.1z"/>
<path color="#36ff00" d="M266.4 272l1.7 2.1l1.3-.7l-1.7-2z"/>
<path color="#97ff00" d="M269.8 275.9l1.7 1.9l1.3-.6l-1.7-1.7z"/>
<path color="#5cff00" d="M213.3 274.4l1.7 .4l1.5-.5l-1.7-.4z"/>
<path color="#00ff05" d="M264.7 269.6l1.7 2.5l1.3-.6l-1.7-2.4z"/>
<path color="#c3ff00" d="M271.5 277.9l1.7 1.6l1.3-.5l-1.7-1.8z"/>
<path color="#ff5800" d="M284.9 286.4l1.8 .5l1.2 2.1l-1.7-1.9z"/>
<path color="#00ff26" d="M242.1 269.9l1.7-1.1l1.4-.2l-1.7 1.1z"/>
<path color="#e8ff00" d="M273.2 279.5l1.7 1.6l1.3-.6l-1.7-1.5z"/>
<path color="#00bbff" d="M254.4 261l1.7-5.2l1.4-.6l-1.7 5.2z"/>
<path color="#d200ff" d="M263.3 239.8l.8 6.7l1.3-1l-.8-6.8z"/>
<path color="#fff000" d="M275 281.1l1.7 1.9l1.3-1l-1.7-1.5z"/>
<path color="#00ff51" d="M263 266.5l1.7 3l1.3-.6l-1.7-3z"/>
<path color="#31ff00" d="M229.4 273.2l1.7-.3l1.5-.2l-1.7 .3z"/>
<path color="#46ff00" d="M224.6 273.9l1.7-.2l1.5-.2l-1.7 .2z"/>
<path color="#56ff00" d="M219.8 274.5l1.7-.2l1.5-.1l-1.6 .5z"/>
<path color="#16ff00" d="M234.2 272.3l1.7-.5l1.4-.2l-1.7 .5z"/>
<path color="#ffcf00" d="M276.7 283l1.7 1.3l1.3-.9l-1.7-1.4z"/>
<path color="#56ff00" d="M215 274.7l1.7 .1l1.5-.2l-1.7-.4z"/>
<path color="#00b5ff" d="M260.9 255.3l1.7 6.6l1.3-.8l-1.7-6.6z"/>
<path color="#ff5e00" d="M286.7 287l1.8-.6l1.2 2.4l-1.8 .3z"/>
<path color="#ff0d00" d="M290.1 289.4l.7 .8l1.2 2.4l-.7-.9z"/>
<path color="#00ff16" d="M239 271l1.7-.8l1.4-.2l-1.7 .8z"/>
<path color="#ffb400" d="M278.4 284.2l1.7 .9l1.3-.3l-1.7-1.5z"/>
<path color="#00ffb7" d="M261.2 262.5l1.7 4.1l1.3-.6l-1.7-4.1z"/>
<path color="#ff4300" d="M288.5 286.4l1.7 3.1l1.2 2.3l-1.7-3z"/>
<path color="#0900ff" d="M261.4 248.5l.8 6l1.3-1l-.8-6z"/>
<path color="#b700ff" d="M261 248.5l.9-7.6l1.3-1.1l-.9 7.7z"/>
<path color="#00ff8c" d="M246.8 267.2l1.7-2l1.4-.3l-1.7 2z"/>
<path color="#00ffd7" d="M249.9 264.9l1.7-3l1.4-.4l-1.7 3z"/>
<path color="#ff9f00" d="M280.2 285.2l1.8 .5l1.2 .6l-1.7-1.4z"/>
<path color="#0012ff" d="M257.4 255.2l.9-4.9l1.4-.8l-.9 4.9z"/>
<path color="#2bff00" d="M226.2 273.7l1.7-.3l1.5-.2l-1.7 .3z"/>
<path color="#3bff00" d="M221.4 274.3l1.7-.1l1.5-.3l-1.7 .3z"/>
<path color="#16ff00" d="M231 272.9l1.7-.4l1.4-.2l-1.7 .4z"/>
<path color="#46ff00" d="M216.6 274.8l1.7-.1l1.5-.2l-1.7 .1z"/>
<path color="#00ff61" d="M243.7 268.8l1.7-1.4l1.4-.2l-1.7 1.4z"/>
<path color="#00ff10" d="M235.8 271.8l1.7-.7l1.4-.2l-1.7 .7z"/>
<path color="#20ff00" d="M265 272.5l1.7 2.1l1.3-.5l-1.7-2.1z"/>
<path color="#51ff00" d="M266.8 274.6l1.7 1.9l1.3-.6l-1.7-1.8z"/>
<path color="#82ff00" d="M268.5 276.5l1.7 1.8l1.3-.5l-1.7-1.9z"/>
<path color="#46ff00" d="M211.8 275.1l1.7 0l1.5-.4l-1.7-.4z"/>
<path color="#d200ff" d="M261.9 240.9l.8 6.6l1.3-1l-.8-6.7z"/>
<path color="#00ff1b" d="M263.3 270.1l1.7 2.5l1.3-.5l-1.7-2.5z"/>
<path color="#adff00" d="M270.2 278.4l1.7 1.6l1.3-.5l-1.7-1.6z"/>
<path color="#ff9f00" d="M281.9 285.6l1.8 .3l1.2 .5l-1.8-.2z"/>
<path color="#d3ff00" d="M271.9 280l1.7 1.8l1.3-.7l-1.7-1.6z"/>
<path color="#00a5ff" d="M253 261.5l1.7-5.2l1.4-.5l-1.7 5.2z"/>
<path color="#00ff46" d="M240.6 270.1l1.7-1.1l1.4-.2l-1.7 1.1z"/>
<path color="#00ff66" d="M261.6 267l1.7 3l1.3-.5l-1.7-3z"/>
<path color="#f9ff00" d="M273.7 281.8l1.7 1l1.3 .2l-1.7-1.9z"/>
<path color="#26ff00" d="M223.1 274.2l1.7-.2l1.5-.3l-1.7 .2z"/>
<path color="#10ff00" d="M227.9 273.5l1.7-.3l1.5-.2l-1.7 .3z"/>
<path color="#ff9400" d="M283.7 285.9l1.7 2.4l1.3-1.4l-1.8-.5z"/>
<path color="#ffea00" d="M275.4 282.7l1.7 1.6l1.3-.1l-1.7-1.3z"/>
<path color="#31ff00" d="M218.3 274.7l1.7-.1l1.5-.3l-1.7 .2z"/>
<path color="#00a5ff" d="M259.5 255.9l1.7 6.6l1.3-.6l-1.7-6.6z"/>
<path color="#00ff0b" d="M232.7 272.5l1.7-.5l1.4-.2l-1.7 .5z"/>
<path color="#36ff00" d="M213.4 275.1l1.7 0l1.5-.3l-1.7-.1z"/>
<path color="#ffca00" d="M277.1 284.4l1.7 1.5l1.3-.7l-1.7-.9z"/>
<path color="#bc00ff" d="M259.7 249.5l.9-7.5l1.4-1.1l-.9 7.6z"/>
<path color="#1400ff" d="M260 249.4l.8 5.9l1.3-.8l-.8-6z"/>
<path color="#00ff36" d="M237.5 271.1l1.7-.8l1.4-.2l-1.7 .8z"/>
<path color="#00ffcc" d="M259.9 262.9l1.7 4.1l1.3-.5l-1.7-4.1z"/>
<path color="#0007ff" d="M256.1 255.8l.9-4.8l1.4-.6l-.9 4.9z"/>
<path color="#00fff2" d="M248.5 265.2l1.7-3l1.4-.3l-1.7 3z"/>
<path color="#00ffac" d="M245.4 267.4l1.7-2l1.4-.2l-1.7 2z"/>
<path color="#ff9f00" d="M285.4 288.3l1.8-1.6l1.3-.4l-1.8 .6z"/>
<path color="#ffbf00" d="M278.9 285.8l1.7 1l1.3-1.2l-1.8-.5z"/>
<path color="#ff5300" d="M288.9 290.2l.7 .4l1.2-.3l-.7-.8z"/>
<path color="#0bff00" d="M224.8 274l1.7-.3l1.5-.3l-1.7 .3z"/>
<path color="#1bff00" d="M219.9 274.6l1.7-.1l1.5-.3l-1.7 .1z"/>
<path color="#00ff0b" d="M229.6 273.2l1.7-.4l1.5-.2l-1.7 .4z"/>
<path color="#d200ff" d="M260.6 242l.8 6.5l1.3-1l-.8-6.6z"/>
<path color="#26ff00" d="M215.1 275.1l1.7-.1l1.5-.3l-1.7 .1z"/>
<path color="#00ff81" d="M242.3 269l1.7-1.4l1.4-.2l-1.7 1.4z"/>
<path color="#ff8900" d="M287.2 286.7l1.7 3.5l1.3-.8l-1.7-3.1z"/>
<path color="#3bff00" d="M265.4 275l1.7 1.9l1.3-.3l-1.7-1.9z"/>
<path color="#0bff00" d="M263.7 272.9l1.7 2.1l1.3-.4l-1.7-2.1z"/>
<path color="#00ff30" d="M234.4 272l1.7-.7l1.4-.2l-1.7 .7z"/>
<path color="#67ff00" d="M267.2 276.9l1.7 1.8l1.3-.3l-1.7-1.8z"/>
<path color="#2bff00" d="M210.3 275.2l1.7 0l1.5-.1l-1.7 0z"/>
<path color="#00ff36" d="M262 270.4l1.7 2.5l1.3-.4l-1.7-2.5z"/>
<path color="#92ff00" d="M268.9 278.7l1.7 1.7l1.3-.4l-1.7-1.6z"/>
<path color="#ffba00" d="M280.6 286.8l1.8 .8l1.3-1.7l-1.8-.3z"/>
<path color="#bdff00" d="M270.6 280.4l1.7 1.8l1.3-.4l-1.7-1.8z"/>
<path color="#008fff" d="M251.6 261.9l1.7-5.2l1.4-.4l-1.7 5.2z"/>
<path color="#00ff81" d="M260.3 267.4l1.7 3l1.3-.4l-1.7-3z"/>
<path color="#deff00" d="M272.4 282.2l1.7 1.3l1.3-.7l-1.7-1z"/>
<path color="#00ff66" d="M239.2 270.3l1.7-1.1l1.4-.2l-1.7 1.1z"/>
<path color="#ffa400" d="M282.4 287.7l1.8 .8l1.3-.1l-1.7-2.4z"/>
<path color="#008fff" d="M258.2 256.4l1.7 6.6l1.4-.5l-1.7-6.6z"/>
<path color="#05ff00" d="M221.6 274.5l1.7-.2l1.5-.3l-1.7 .2z"/>
<path color="#00ff10" d="M226.4 273.7l1.7-.3l1.5-.3l-1.7 .3z"/>
<path color="#f9ff00" d="M274.1 283.4l1.7 1.9l1.3-1l-1.7-1.6z"/>
<path color="#bc00ff" d="M258.3 250.3l.9-7.3l1.4-1.1l-.9 7.5z"/>
<path color="#16ff00" d="M216.8 275l1.7-.1l1.5-.3l-1.7 .1z"/>
<path color="#00ff2b" d="M231.3 272.7l1.7-.5l1.5-.2l-1.7 .5z"/>
<path color="#1f00ff" d="M258.7 250.1l.9 5.8l1.4-.6l-.8-5.9z"/>
<path color="#ffe000" d="M275.8 285.3l1.7 1.5l1.3-1l-1.7-1.5z"/>
<path color="#16ff00" d="M211.9 275.2l1.7 0l1.5-.1l-1.7 0z"/>
<path color="#00ffe7" d="M258.5 263.3l1.7 4.1l1.4-.4l-1.7-4.1z"/>
<path color="#00ff5b" d="M236.1 271.3l1.7-.8l1.4-.2l-1.7 .8z"/>
<path color="#ffc400" d="M277.6 286.8l1.7 1.3l1.3-1.3l-1.7-1z"/>
<path color="#0900ff" d="M254.7 256.3l.9-4.7l1.4-.6l-.9 4.8z"/>
<path color="#ff5800" d="M287.6 291.4l.7 1.4l1.3-2.2l-.7-.4z"/>
<path color="#ffaf00" d="M284.1 288.5l1.8-.7l1.3-1l-1.8 1.6z"/>
<path color="#d700ff" d="M259.2 243.1l.8 6.3l1.4-.9l-.8-6.5z"/>
<path color="#00f1ff" d="M247.1 265.4l1.7-3l1.4-.2l-1.7 3z"/>
<path color="#00ffcc" d="M244 267.6l1.7-2l1.4-.2l-1.7 2z"/>
<path color="#ffaf00" d="M279.3 288.1l1.7 1.6l1.3-2.1l-1.8-.8z"/>
<path color="#00ff10" d="M223.3 274.3l1.7-.3l1.5-.3l-1.7 .3z"/>
<path color="#ff9900" d="M285.9 287.7l1.7 3.7l1.3-1.2l-1.7-3.5z"/>
<path color="#00ff00" d="M218.4 274.9l1.7-.2l1.5-.3l-1.7 .1z"/>
<path color="#00ff2b" d="M228.1 273.4l1.7-.4l1.5-.3l-1.7 .4z"/>
<path color="#05ff00" d="M213.6 275.2l1.7-.1l1.5-.1l-1.7 .1z"/>
<path color="#00ffa1" d="M240.9 269.2l1.7-1.4l1.4-.2l-1.7 1.4z"/>
<path color="#00ff16" d="M262.4 273.1l1.7 2.1l1.3-.2l-1.7-2.1z"/>
<path color="#1bff00" d="M264.1 275.3l1.7 1.9l1.3-.2l-1.7-1.9z"/>
<path color="#00ff51" d="M232.9 272.2l1.7-.7l1.5-.2l-1.7 .7z"/>
<path color="#ff9900" d="M281 289.7l1.8 1l1.3-2.2l-1.8-.8z"/>
<path color="#46ff00" d="M265.8 277.1l1.7 1.7l1.3-.1l-1.7-1.8z"/>
<path color="#00ff51" d="M260.6 270.7l1.7 2.5l1.3-.2l-1.7-2.5z"/>
<path color="#72ff00" d="M267.6 278.8l1.7 1.6l1.3 0l-1.7-1.7z"/>
<path color="#0074ff" d="M250.2 262.2l1.7-5.1l1.4-.4l-1.7 5.2z"/>
<path color="#00ff05" d="M208.7 274.8l1.7 0l1.6 .5l-1.7 0z"/>
<path color="#97ff00" d="M269.3 280.4l1.7 1.8l1.3 0l-1.7-1.8z"/>
<path color="#00ff9c" d="M258.9 267.7l1.7 3l1.4-.2l-1.7-3z"/>
<path color="#c700ff" d="M256.9 251l.9-6.8l1.4-1.1l-.9 7.3z"/>
<path color="#bdff00" d="M271 282.2l1.7 1.4l1.3-.2l-1.7-1.3z"/>
<path color="#00ff8c" d="M237.8 270.5l1.7-1.1l1.4-.2l-1.7 1.1z"/>
<path color="#0079ff" d="M256.8 256.8l1.7 6.5l1.4-.4l-1.7-6.6z"/>
<path color="#ff4800" d="M286.3 293.9l.7 0l1.3-1.1l-.7-1.4z"/>
<path color="#00ff16" d="M220.1 274.8l1.7-.2l1.5-.3l-1.7 .2z"/>
<path color="#00ff2b" d="M224.9 274l1.7-.3l1.5-.3l-1.7 .3z"/>
<path color="#2f00ff" d="M257.3 250.7l.9 5.7l1.4-.5l-.9-5.8z"/>
<path color="#deff00" d="M272.8 283.6l1.7 1.2l1.3 .5l-1.7-1.9z"/>
<path color="#00ff10" d="M215.2 275.1l1.7-.1l1.5-.1l-1.7 .1z"/>
<path color="#00ff4b" d="M229.8 273l1.7-.5l1.5-.3l-1.7 .5z"/>
<path color="#feff00" d="M274.5 284.8l1.7 1.9l1.3 .1l-1.7-1.5z"/>
<path color="#ffaf00" d="M282.8 290.7l1.8-1.6l1.3-1.3l-1.8 .7z"/>
<path color="#dd00ff" d="M257.8 244.2l.9 5.9l1.4-.7l-.8-6.3z"/>
<path color="#00fcff" d="M257.2 263.6l1.7 4.1l1.4-.3l-1.7-4.1z"/>
<path color="#1f00ff" d="M253.3 256.7l.9-4.6l1.4-.5l-.9 4.7z"/>
<path color="#ffe000" d="M276.3 286.7l1.8 .9l1.3 .5l-1.7-1.3z"/>
<path color="#ff8e00" d="M284.6 289.1l1.7 4.8l1.3-2.4l-1.7-3.7z"/>
<path color="#00ff16" d="M210.3 274.8l1.7 0l1.6 .4l-1.7 0z"/>
<path color="#00ff7c" d="M234.6 271.6l1.7-.8l1.4-.2l-1.7 .8z"/>
<path color="#00d0ff" d="M245.7 265.6l1.7-2.9l1.4-.2l-1.7 3z"/>
<path color="#00ffed" d="M242.6 267.8l1.7-2l1.4-.2l-1.7 2z"/>
<path color="#ffcf00" d="M278 287.6l1.8 .3l1.2 1.8l-1.7-1.6z"/>
<path color="#00ff30" d="M221.8 274.6l1.7-.3l1.5-.3l-1.7 .3z"/>
<path color="#00ff4b" d="M226.6 273.7l1.7-.4l1.5-.3l-1.7 .4z"/>
<path color="#00ff26" d="M216.9 275l1.7-.2l1.5-.1l-1.7 .2z"/>
<path color="#00ffc2" d="M239.5 269.4l1.7-1.4l1.4-.2l-1.7 1.4z"/>
<path color="#00ff36" d="M261 273.3l1.7 2.1l1.4-.2l-1.7-2.1z"/>
<path color="#00ff05" d="M262.7 275.4l1.7 1.9l1.3-.2l-1.7-1.9z"/>
<path color="#00ff71" d="M231.5 272.5l1.7-.7l1.5-.3l-1.7 .7z"/>
<path color="#ffba00" d="M279.8 287.9l1.8 1.6l1.2 1.2l-1.8-1z"/>
<path color="#26ff00" d="M264.5 277.3l1.7 1.7l1.3-.1l-1.7-1.7z"/>
<path color="#00ff71" d="M259.3 270.8l1.7 2.5l1.4-.2l-1.7-2.5z"/>
<path color="#00ff2b" d="M212 274.7l1.7-.1l1.6 .4l-1.7 .1z"/>
<path color="#cd00ff" d="M255.6 251.5l.9-6.3l1.4-1.1l-.9 6.8z"/>
<path color="#0059ff" d="M248.8 262.5l1.7-5.1l1.4-.3l-1.7 5.1z"/>
<path color="#4cff00" d="M266.2 278.9l1.7 1.5l1.3-.1l-1.7-1.6z"/>
<path color="#00ffbc" d="M257.5 267.8l1.7 3l1.4-.2l-1.7-3z"/>
<path color="#72ff00" d="M268 280.5l1.7 1.5l1.3 .1l-1.7-1.8z"/>
<path color="#005eff" d="M255.4 257.2l1.7 6.4l1.4-.3l-1.7-6.5z"/>
<path color="#00ffac" d="M236.3 270.7l1.7-1.1l1.4-.2l-1.7 1.1z"/>
<path color="#4500ff" d="M255.9 251.3l.9 5.5l1.4-.4l-.9-5.7z"/>
<path color="#92ff00" d="M269.7 282l1.7 1.5l1.3 .1l-1.7-1.4z"/>
<path color="#00ff4b" d="M223.4 274.3l1.7-.3l1.5-.3l-1.7 .3z"/>
<path color="#00ff3b" d="M218.6 274.8l1.7-.2l1.5-.1l-1.7 .2z"/>
<path color="#e200ff" d="M256.4 245.3l.9 5.4l1.4-.6l-.9-5.9z"/>
<path color="#00ff4b" d="M207.1 273.3l1.7 0l1.6 1.4l-1.7 0z"/>
<path color="#ff6e00" d="M285.1 292.2l.7 0l1.2 1.7l-.7 0z"/>
<path color="#ffc400" d="M281.6 289.5l1.8-.2l1.3-.2l-1.8 1.6z"/>
<path color="#00ff6c" d="M228.3 273.3l1.7-.5l1.5-.3l-1.7 .5z"/>
<path color="#adff00" d="M271.5 283.5l1.8 1.2l1.3 0l-1.7-1.2z"/>
<path color="#3400ff" d="M251.9 257.1l.9-4.5l1.4-.5l-.9 4.6z"/>
<path color="#00ff3b" d="M213.7 274.7l1.7-.1l1.6 .4l-1.7 .1z"/>
<path color="#ffa400" d="M283.3 289.3l1.7 2.9l1.2 1.6l-1.7-4.8z"/>
<path color="#00dbff" d="M255.8 263.8l1.7 4l1.4-.2l-1.7-4.1z"/>
<path color="#cdff00" d="M273.2 284.8l1.8 1.4l1.3 .6l-1.7-1.9z"/>
<path color="#00ff97" d="M233.2 271.8l1.7-.8l1.5-.3l-1.7 .8z"/>
<path color="#e8ff00" d="M275 286.1l1.8 .9l1.3 .6l-1.8-.9z"/>
<path color="#00b0ff" d="M244.3 265.8l1.7-2.9l1.4-.2l-1.7 2.9z"/>
<path color="#00f1ff" d="M241.2 268l1.7-2l1.4-.2l-1.7 2z"/>
<path color="#00ff5b" d="M208.7 273.4l1.7 0l1.6 1.4l-1.7 0z"/>
<path color="#00ff51" d="M220.2 274.6l1.7-.3l1.5-.1l-1.7 .3z"/>
<path color="#00ff66" d="M225.1 274l1.7-.4l1.5-.2l-1.7 .4z"/>
<path color="#d700ff" d="M254.2 252.1l.9-5.7l1.4-1.1l-.9 6.3z"/>
<path color="#00ffe2" d="M238 269.7l1.7-1.4l1.4-.3l-1.7 1.4z"/>
<path color="#00ff51" d="M215.3 274.6l1.7-.1l1.5 .4l-1.7 .2z"/>
<path color="#00ff8c" d="M230 272.8l1.7-.7l1.5-.3l-1.7 .7z"/>
<path color="#00ff5b" d="M259.6 273.4l1.7 2.1l1.4-.1l-1.7-2.1z"/>
<path color="#00ff2b" d="M261.4 275.5l1.7 1.9l1.4-.1l-1.7-1.9z"/>
<path color="#eeff00" d="M276.7 287l1.8 .9l1.3 0l-1.8-.3z"/>
<path color="#00ff97" d="M257.9 271l1.7 2.5l1.4-.1l-1.7-2.5z"/>
<path color="#003eff" d="M247.4 262.7l1.7-5l1.4-.3l-1.7 5.1z"/>
<path color="#00ff00" d="M263.1 277.4l1.8 1.7l1.3-.1l-1.7-1.7z"/>
<path color="#26ff00" d="M264.9 279l1.8 1.5l1.3-.1l-1.7-1.5z"/>
<path color="#5a00ff" d="M254.5 251.9l.9 5.3l1.4-.4l-.9-5.5z"/>
<path color="#00ffdc" d="M256.1 268l1.7 3l1.4-.1l-1.7-3z"/>
<path color="#ed00ff" d="M255.1 246.4l.9 4.9l1.4-.6l-.9-5.4z"/>
<path color="#0043ff" d="M254 257.5l1.8 6.3l1.4-.2l-1.7-6.4z"/>
<path color="#00ffc7" d="M234.9 271l1.7-1.1l1.5-.3l-1.7 1.1z"/>
<path color="#46ff00" d="M266.6 280.6l1.8 1.4l1.3 0l-1.7-1.5z"/>
<path color="#f9ff00" d="M278.5 287.9l1.8 .6l1.3 .9l-1.8-1.6z"/>
<path color="#00ff71" d="M210.4 273.3l1.7 0l1.6 1.4l-1.7 .1z"/>
<path color="#00ff6c" d="M221.9 274.4l1.7-.3l1.5-.1l-1.7 .3z"/>
<path color="#67ff00" d="M268.4 282l1.8 1.4l1.3 .1l-1.7-1.5z"/>
<path color="#00ff86" d="M226.8 273.5l1.7-.5l1.5-.2l-1.7 .5z"/>
<path color="#5000ff" d="M250.5 257.4l.9-4.3l1.4-.5l-.9 4.5z"/>
<path color="#00ff66" d="M217 274.4l1.7-.2l1.5 .4l-1.7 .2z"/>
<path color="#82ff00" d="M270.1 283.4l1.8 1.5l1.3-.1l-1.8-1.2z"/>
<path color="#00bbff" d="M254.4 263.9l1.8 4l1.4-.1l-1.7-4z"/>
<path color="#00ffb7" d="M231.7 272.1l1.7-.8l1.5-.3l-1.7 .8z"/>
<path color="#f9ff00" d="M280.3 288.5l1.8 0l1.3 .8l-1.8 .2z"/>
<path color="#9dff00" d="M271.9 284.9l1.8 .9l1.3 .3l-1.8-1.4z"/>
<path color="#ffc400" d="M283.8 291l.7 .8l1.3 .3l-.7 0z"/>
<path color="#008fff" d="M242.9 266l1.7-2.9l1.4-.3l-1.7 2.9z"/>
<path color="#00ff81" d="M212.1 273.3l1.7-.1l1.6 1.3l-1.7 .1z"/>
<path color="#e200ff" d="M252.8 252.6l.9-5.1l1.4-1.1l-.9 5.7z"/>
<path color="#00d0ff" d="M239.7 268.2l1.7-1.9l1.4-.3l-1.7 2z"/>
<path color="#ffea00" d="M282.1 288.5l1.7 2.5l1.2 1.2l-1.7-2.9z"/>
<path color="#00ff8c" d="M223.6 274l1.7-.4l1.5 0l-1.7 .4z"/>
<path color="#adff00" d="M273.7 285.8l1.8 1.2l1.3 0l-1.8-.9z"/>
<path color="#00ffb7" d="M205.4 270.6l1.7 .1l1.7 2.7l-1.7 0z"/>
<path color="#00ff81" d="M218.7 274.2l1.7-.3l1.5 .4l-1.7 .3z"/>
<path color="#00fcff" d="M236.6 269.9l1.7-1.4l1.5-.3l-1.7 1.4z"/>
<path color="#00ffac" d="M228.5 273l1.7-.7l1.5-.2l-1.7 .7z"/>
<path color="#00ff81" d="M258.3 273.5l1.8 2.1l1.4 0l-1.7-2.1z"/>
<path color="#001dff" d="M246 262.9l1.7-4.9l1.4-.3l-1.7 5z"/>
<path color="#00ff51" d="M260 275.6l1.8 1.8l1.4 0l-1.7-1.9z"/>
<path color="#f800ff" d="M253.7 247.5l.9 4.4l1.4-.6l-.9-4.9z"/>
<path color="#00ffb7" d="M256.5 271l1.8 2.4l1.4-.1l-1.7-2.5z"/>
<path color="#00ff26" d="M261.8 277.4l1.8 1.7l1.4 0l-1.8-1.7z"/>
<path color="#c3ff00" d="M275.4 287l1.8 1.3l1.3-.4l-1.8-.9z"/>
<path color="#7000ff" d="M253.1 252.4l.9 5l1.4-.3l-.9-5.3z"/>
<path color="#00ff00" d="M263.5 279.1l1.8 1.5l1.4 0l-1.8-1.5z"/>
<path color="#00ff97" d="M213.7 273.2l1.7-.1l1.6 1.3l-1.7 .1z"/>
<path color="#0023ff" d="M252.6 257.8l1.8 6.2l1.4-.2l-1.8-6.3z"/>
<path color="#00fcff" d="M254.7 268.1l1.8 3l1.4-.1l-1.7-3z"/>
<path color="#00ffe7" d="M233.4 271.3l1.7-1.1l1.5-.3l-1.7 1.1z"/>
<path color="#20ff00" d="M265.3 280.6l1.8 1.4l1.3 0l-1.8-1.4z"/>
<path color="#d3ff00" d="M277.2 288.3l1.8 1.2l1.3-1l-1.8-.6z"/>
<path color="#00ffc7" d="M207 270.7l1.7 0l1.7 2.7l-1.7 0z"/>
<path color="#6500ff" d="M249.1 257.7l.9-4.1l1.4-.5l-.9 4.3z"/>
<path color="#00ffac" d="M225.3 273.6l1.7-.5l1.5 0l-1.7 .5z"/>
<path color="#3bff00" d="M267 282l1.8 1.3l1.3 0l-1.8-1.4z"/>
<path color="#00ff9c" d="M220.4 274l1.7-.3l1.5 .4l-1.7 .3z"/>
<path color="#009aff" d="M253 264.1l1.8 4l1.4-.1l-1.8-4z"/>
<path color="#00ffd7" d="M230.2 272.3l1.7-.9l1.5-.2l-1.7 .8z"/>
<path color="#56ff00" d="M268.8 283.4l1.8 1.3l1.3 .2l-1.8-1.5z"/>
<path color="#ed00ff" d="M251.4 253.1l.9-4.5l1.4-1.1l-.9 5.1z"/>
<path color="#00ffac" d="M215.4 273.1l1.7-.2l1.6 1.3l-1.7 .2z"/>
<path color="#c8ff00" d="M279 289.5l1.8-.9l1.3-.2l-1.8 0z"/>
<path color="#0074ff" d="M241.4 266.3l1.7-2.8l1.4-.3l-1.7 2.9z"/>
<path color="#00b5ff" d="M238.3 268.5l1.7-1.9l1.5-.3l-1.7 1.9z"/>
<path color="#72ff00" d="M270.6 284.7l1.8 1.2l1.3 0l-1.8-.9z"/>
<path color="#00ffd7" d="M208.7 270.7l1.7 0l1.7 2.6l-1.7 0z"/>
<path color="#fff500" d="M282.5 291.6l.7 .1l1.3 .1l-.7-.8z"/>
<path color="#deff00" d="M280.8 288.7l1.7 3l1.3-.6l-1.7-2.5z"/>
<path color="#fe00ff" d="M252.3 248.6l.9 3.8l1.4-.6l-.9-4.4z"/>
<path color="#00dbff" d="M235.1 270.2l1.7-1.4l1.5-.3l-1.7 1.4z"/>
<path color="#82ff00" d="M272.3 285.8l1.8 1.2l1.3-.1l-1.8-1.2z"/>
<path color="#00ffb7" d="M222.1 273.6l1.7-.4l1.5 .4l-1.7 .4z"/>
<path color="#00ffd2" d="M227 273l1.7-.7l1.5 0l-1.7 .7z"/>
<path color="#0002ff" d="M244.6 263.1l1.7-4.7l1.4-.4l-1.7 4.9z"/>
<path color="#00ffa7" d="M256.9 273.5l1.8 2.1l1.4 0l-1.8-2.1z"/>
<path color="#8600ff" d="M251.7 253l.9 4.7l1.4-.3l-.9-5z"/>
<path color="#00ff76" d="M258.6 275.6l1.8 1.8l1.4 0l-1.8-1.8z"/>
<path color="#00ffdc" d="M255.1 271.1l1.8 2.4l1.4 0l-1.8-2.4z"/>
<path color="#00ff4b" d="M260.4 277.4l1.8 1.7l1.4 0l-1.8-1.7z"/>
<path color="#97ff00" d="M274.1 287.1l1.8 .8l1.3 .5l-1.8-1.3z"/>
<path color="#00ffc2" d="M217.1 272.9l1.7-.2l1.6 1.2l-1.7 .3z"/>
<path color="#00e1ff" d="M204.5 268.8l1.7 .1l.9 1.8l-1.7-.1z"/>
<path color="#0002ff" d="M251.2 258.1l1.8 6l1.4-.1l-1.8-6.2z"/>
<path color="#00ffed" d="M210.4 270.7l1.7 0l1.7 2.6l-1.7 .1z"/>
<path color="#00f6ff" d="M231.9 271.5l1.7-1.1l1.5-.2l-1.7 1.1z"/>
<path color="#00ff2b" d="M262.1 279.1l1.8 1.5l1.4 0l-1.8-1.5z"/>
<path color="#00d6ff" d="M253.3 268.2l1.8 2.9l1.4-.1l-1.8-3z"/>
<path color="#8100ff" d="M247.7 258l.9-3.8l1.4-.6l-.9 4.1z"/>
<path color="#adff00" d="M275.9 287.9l1.8 1.1l1.3 .6l-1.8-1.2z"/>
<path color="#00ff0b" d="M263.9 280.6l1.8 1.4l1.4 0l-1.8-1.4z"/>
<path color="#f800ff" d="M250 253.6l.9-3.9l1.4-1.1l-.9 4.5z"/>
<path color="#10ff00" d="M265.7 282l1.8 1.3l1.3 0l-1.8-1.3z"/>
<path color="#00ffd7" d="M223.8 273.2l1.7-.5l1.5 .3l-1.7 .5z"/>
<path color="#0074ff" d="M251.6 264.3l1.8 3.9l1.4-.1l-1.8-4z"/>
<path color="#00d0ff" d="M206.2 268.9l1.7 .1l.9 1.7l-1.7 0z"/>
<path color="#00fff7" d="M228.7 272.4l1.7-.9l1.5 0l-1.7 .9z"/>
<path color="#2bff00" d="M267.5 283.3l1.8 1.3l1.3 .1l-1.8-1.3z"/>
<path color="#00ffdc" d="M218.8 272.7l1.7-.3l1.6 1.2l-1.7 .3z"/>
<path color="#00fffd" d="M212.1 270.6l1.7-.1l1.7 2.5l-1.7 .1z"/>
<path color="#a8ff00" d="M277.7 288.9l1.8 .4l1.3-.6l-1.8 .9z"/>
<path color="#0053ff" d="M240 266.6l1.7-2.8l1.5-.3l-1.7 2.8z"/>
<path color="#0095ff" d="M236.8 268.8l1.7-1.9l1.5-.3l-1.7 1.9z"/>
<path color="#ff00f6" d="M250.8 249.7l.9 3.3l1.4-.6l-.9-3.8z"/>
<path color="#46ff00" d="M269.2 284.6l1.8 1.2l1.3 0l-1.8-1.2z"/>
<path color="#bdff00" d="M279.5 289.3l1.8 2.1l1.3 .2l-1.7-3z"/>
<path color="#deff00" d="M281.2 291.4l.7 .4l1.3 0l-.7-.1z"/>
<path color="#00bbff" d="M233.6 270.4l1.7-1.4l1.5-.2l-1.7 1.4z"/>
<path color="#1900ff" d="M243.1 263.4l1.7-4.6l1.4-.4l-1.7 4.7z"/>
<path color="#9c00ff" d="M250.3 253.7l.9 4.4l1.4-.3l-.9-4.7z"/>
<path color="#5cff00" d="M271 285.8l1.8 1.2l1.3 0l-1.8-1.2z"/>
<path color="#00c0ff" d="M207.8 268.9l1.7 0l.9 1.7l-1.7 0z"/>
<path color="#00fffd" d="M225.5 272.7l1.7-.7l1.5 .3l-1.7 .7z"/>
<path color="#008fff" d="M203.6 266.8l1.7 .1l.9 1.9l-1.7-.1z"/>
<path color="#00ffcc" d="M255.5 273.5l1.8 2l1.4 0l-1.8-2.1z"/>
<path color="#00ff9c" d="M257.2 275.6l1.8 1.8l1.4 0l-1.8-1.8z"/>
<path color="#00ecff" d="M213.8 270.6l1.7-.1l1.6 2.5l-1.7 .2z"/>
<path color="#00fcff" d="M253.7 271.2l1.8 2.4l1.4 0l-1.8-2.4z"/>
<path color="#1900ff" d="M249.8 258.5l1.8 5.8l1.4-.2l-1.8-6z"/>
<path color="#00fff7" d="M220.5 272.4l1.7-.4l1.6 1.2l-1.7 .4z"/>
<path color="#00ff76" d="M259 277.4l1.8 1.6l1.4 0l-1.8-1.7z"/>
<path color="#6cff00" d="M272.8 287l1.8 1l1.3-.2l-1.8-.8z"/>
<path color="#9600ff" d="M246.3 258.4l.9-3.6l1.4-.7l-.9 3.8z"/>
<path color="#00d6ff" d="M230.4 271.5l1.7-1.1l1.5 0l-1.7 1.1z"/>
<path color="#00b0ff" d="M251.9 268.3l1.8 2.9l1.4-.1l-1.8-2.9z"/>
<path color="#00ff51" d="M260.8 279.1l1.8 1.5l1.4 0l-1.8-1.5z"/>
<path color="#ff00fb" d="M248.6 254.2l.9-3.3l1.4-1.1l-.9 3.9z"/>
<path color="#00ff36" d="M262.5 280.6l1.8 1.4l1.4 0l-1.8-1.4z"/>
<path color="#7cff00" d="M274.6 288l1.8 1.1l1.3-.2l-1.8-1.1z"/>
<path color="#00b0ff" d="M209.5 269l1.7 0l.9 1.7l-1.7 0z"/>
<path color="#007fff" d="M205.3 267l1.7 .1l.9 1.9l-1.7-.1z"/>
<path color="#00ff16" d="M264.3 282l1.8 1.3l1.4 0l-1.8-1.3z"/>
<path color="#0053ff" d="M250.1 264.5l1.8 3.8l1.4-.1l-1.8-3.9z"/>
<path color="#ff00eb" d="M249.4 250.9l.9 2.8l1.4-.7l-.9-3.3z"/>
<path color="#00d6ff" d="M215.5 270.4l1.7-.2l1.6 2.5l-1.7 .2z"/>
<path color="#00d6ff" d="M227.2 272l1.7-.8l1.5 .3l-1.7 .9z"/>
<path color="#0038ff" d="M238.5 266.8l1.7-2.8l1.5-.3l-1.7 2.8z"/>
<path color="#00e6ff" d="M222.2 272.1l1.7-.5l1.6 1.1l-1.7 .5z"/>
<path color="#00ff00" d="M266.1 283.3l1.8 1.3l1.4 .1l-1.8-1.3z"/>
<path color="#0074ff" d="M235.3 268.9l1.7-1.9l1.5-.2l-1.7 1.9z"/>
<path color="#82ff00" d="M276.4 289.1l1.8 .5l1.3-.3l-1.8-.4z"/>
<path color="#1bff00" d="M267.9 284.6l1.8 1.2l1.3 .1l-1.8-1.2z"/>
<path color="#00a0ff" d="M211.2 269l1.7 0l.8 1.7l-1.7 .1z"/>
<path color="#3400ff" d="M241.7 263.7l1.7-4.4l1.5-.5l-1.7 4.6z"/>
<path color="#b100ff" d="M248.9 254.4l.9 4l1.4-.4l-.9-4.4z"/>
<path color="#97ff00" d="M278.2 289.6l1.8 1.5l1.3 .3l-1.8-2.1z"/>
<path color="#006fff" d="M207 267l1.7 .1l.9 1.9l-1.7 0z"/>
<path color="#009aff" d="M232.1 270.4l1.7-1.4l1.5 0l-1.7 1.4z"/>
<path color="#b2ff00" d="M279.9 291.1l.7 .8l1.3-.1l-.7-.4z"/>
<path color="#0038ff" d="M202.7 264.9l1.7 .1l.9 1.9l-1.7-.1z"/>
<path color="#31ff00" d="M269.7 285.8l1.8 1.2l1.3 .1l-1.8-1.2z"/>
<path color="#00bbff" d="M217.2 270.3l1.7-.2l1.6 2.4l-1.7 .3z"/>
<path color="#a700ff" d="M244.8 258.8l.9-3.3l1.4-.7l-.9 3.6z"/>
<path color="#3a00ff" d="M248.4 258.9l1.8 5.6l1.4-.2l-1.8-5.8z"/>
<path color="#00fff2" d="M254.1 273.5l1.8 2l1.4 0l-1.8-2z"/>
<path color="#ff00f6" d="M247.1 254.9l.9-2.8l1.4-1.1l-.9 3.3z"/>
<path color="#00ffc7" d="M255.8 275.6l1.8 1.8l1.4 .1l-1.8-1.8z"/>
<path color="#00d0ff" d="M252.3 271.2l1.8 2.3l1.4 0l-1.8-2.4z"/>
<path color="#00ffa1" d="M257.6 277.4l1.8 1.6l1.4 .1l-1.8-1.6z"/>
<path color="#00c0ff" d="M223.9 271.6l1.7-.6l1.6 1.1l-1.7 .7z"/>
<path color="#41ff00" d="M271.4 286.9l1.8 1.1l1.3 0l-1.8-1z"/>
<path color="#008fff" d="M250.5 268.3l1.8 2.9l1.4 0l-1.8-2.9z"/>
<path color="#00a5ff" d="M228.9 271.2l1.7-1.1l1.5 .3l-1.7 1.1z"/>
<path color="#00ff7c" d="M259.4 279l1.8 1.5l1.4 .1l-1.8-1.5z"/>
<path color="#0064ff" d="M208.7 267.1l1.7 0l.9 1.8l-1.7 0z"/>
<path color="#008aff" d="M212.9 268.9l1.7-.1l.8 1.6l-1.7 .1z"/>
<path color="#ff00e5" d="M248 252l.9 2.4l1.4-.7l-.9-2.8z"/>
<path color="#002dff" d="M204.4 265l1.7 .1l.9 1.9l-1.7-.1z"/>
<path color="#00ff61" d="M261.2 280.5l1.8 1.4l1.4 .1l-1.8-1.4z"/>
<path color="#56ff00" d="M273.2 288l1.8 1.1l1.3 0l-1.8-1.1z"/>
<path color="#0033ff" d="M248.7 264.6l1.8 3.7l1.4-.1l-1.8-3.8z"/>
<path color="#00a5ff" d="M218.9 270l1.7-.3l1.6 2.3l-1.7 .4z"/>
<path color="#00ff41" d="M262.9 281.9l1.8 1.3l1.4 .1l-1.8-1.3z"/>
<path color="#0018ff" d="M237 267l1.7-2.7l1.5-.2l-1.7 2.8z"/>
<path color="#0053ff" d="M233.8 269l1.7-1.9l1.5-.1l-1.7 1.9z"/>
<path color="#61ff00" d="M275 289.1l1.8 .9l1.3-.3l-1.8-.5z"/>
<path color="#00ff2b" d="M264.7 283.2l1.8 1.2l1.4 .1l-1.8-1.3z"/>
<path color="#004eff" d="M210.4 267.1l1.7 0l.9 1.8l-1.7 0z"/>
<path color="#0074ff" d="M214.6 268.8l1.7-.1l.8 1.6l-1.7 .2z"/>
<path color="#c700ff" d="M247.4 255.2l.9 3.6l1.4-.4l-.9-4z"/>
<path color="#001dff" d="M206.1 265.1l1.7 .1l.9 1.9l-1.7-.1z"/>
<path color="#009aff" d="M225.6 271l1.7-.8l1.5 1l-1.7 .8z"/>
<path color="#5000ff" d="M240.2 264l1.7-4.2l1.5-.5l-1.7 4.4z"/>
<path color="#1900ff" d="M201.8 262.9l1.7 .2l.9 1.9l-1.7-.1z"/>
<path color="#72ff00" d="M276.8 289.9l1.8 1.3l1.3-.1l-1.8-1.5z"/>
<path color="#00ff16" d="M266.5 284.4l1.8 1.2l1.4 .1l-1.8-1.2z"/>
<path color="#ff00eb" d="M245.7 255.6l.9-2.4l1.4-1.2l-.9 2.8z"/>
<path color="#006fff" d="M230.6 270.1l1.7-1.4l1.5 .2l-1.7 1.4z"/>
<path color="#bc00ff" d="M243.4 259.3l.9-3l1.5-.8l-.9 3.3z"/>
<path color="#87ff00" d="M278.6 291.2l.7 .5l1.3 .2l-.7-.8z"/>
<path color="#5500ff" d="M246.9 259.3l1.8 5.3l1.4-.2l-1.8-5.6z"/>
<path color="#0084ff" d="M220.6 269.7l1.7-.4l1.6 2.3l-1.7 .5z"/>
<path color="#00ff00" d="M268.3 285.6l1.8 1.1l1.4 .1l-1.8-1.2z"/>
<path color="#00e1ff" d="M252.6 273.5l1.8 2l1.4 .1l-1.8-2z"/>
<path color="#00aaff" d="M250.8 271.2l1.8 2.3l1.4 .1l-1.8-2.3z"/>
<path color="#00fff2" d="M254.4 275.5l1.8 1.8l1.4 .1l-1.8-1.8z"/>
<path color="#003eff" d="M212.1 267.1l1.7 0l.8 1.7l-1.7 .1z"/>
<path color="#ff00e0" d="M246.5 253.2l.9 2.1l1.4-.8l-.9-2.4z"/>
<path color="#0012ff" d="M207.8 265.2l1.7 .1l.9 1.8l-1.7 0z"/>
<path color="#005eff" d="M216.3 268.7l1.7-.2l.8 1.5l-1.7 .2z"/>
<path color="#00ffcc" d="M256.2 277.2l1.8 1.6l1.4 .1l-1.8-1.6z"/>
<path color="#0064ff" d="M249.1 268.4l1.8 2.8l1.4 0l-1.8-2.9z"/>
<path color="#16ff00" d="M270.1 286.8l1.8 1.1l1.3 .1l-1.8-1.1z"/>
<path color="#2400ff" d="M203.5 263.1l1.7 .2l.9 1.9l-1.7-.1z"/>
<path color="#00ffa7" d="M258 278.8l1.8 1.5l1.4 .2l-1.8-1.5z"/>
<path color="#0069ff" d="M227.3 270.2l1.7-1l1.5 .9l-1.7 1.1z"/>
<path color="#00ff8c" d="M259.8 280.3l1.8 1.4l1.4 .2l-1.8-1.4z"/>
<path color="#26ff00" d="M271.9 287.9l1.8 1.1l1.3 .1l-1.8-1.1z"/>
<path color="#000dff" d="M247.3 264.8l1.8 3.6l1.4 0l-1.8-3.7z"/>
<path color="#0064ff" d="M222.3 269.3l1.7-.5l1.6 2.2l-1.7 .6z"/>
<path color="#0900ff" d="M235.5 267.1l1.7-2.6l1.5-.1l-1.7 2.7z"/>
<path color="#0002ff" d="M209.5 265.3l1.7 .1l.9 1.7l-1.7 0z"/>
<path color="#002dff" d="M213.8 267.1l1.7-.1l.8 1.7l-1.7 .1z"/>
<path color="#00ff71" d="M261.6 281.7l1.8 1.3l1.4 .2l-1.8-1.3z"/>
<path color="#d700ff" d="M246 256.1l.9 3.3l1.4-.5l-.9-3.6z"/>
<path color="#2f00ff" d="M205.2 263.2l1.7 .2l.9 1.8l-1.7-.1z"/>
<path color="#0043ff" d="M218.1 268.5l1.7-.3l.8 1.5l-1.7 .3z"/>
<path color="#36ff00" d="M273.7 289l1.8 1l1.3 0l-1.8-.9z"/>
<path color="#0028ff" d="M232.3 268.8l1.7-1.8l1.5 .1l-1.7 1.9z"/>
<path color="#ff00e5" d="M244.2 256.3l.9-2l1.4-1.2l-.9 2.4z"/>
<path color="#6500ff" d="M238.7 264.3l1.7-4l1.5-.5l-1.7 4.2z"/>
<path color="#00ff56" d="M263.3 283l1.8 1.2l1.4 .2l-1.8-1.2z"/>
<path color="#cd00ff" d="M241.9 259.8l.9-2.7l1.5-.8l-.9 3z"/>
<path color="#46ff00" d="M275.5 290l1.8 1l1.3 .2l-1.8-1.3z"/>
<path color="#00ff41" d="M265.1 284.3l1.8 1.2l1.4 .2l-1.8-1.2z"/>
<path color="#ff00da" d="M245.1 254.3l.9 1.7l1.4-.8l-.9-2.1z"/>
<path color="#7000ff" d="M245.5 259.8l1.8 5l1.4-.2l-1.8-5.3z"/>
<path color="#0e00ff" d="M211.2 265.4l1.7 0l.9 1.7l-1.7 0z"/>
<path color="#56ff00" d="M277.3 291l.7 .4l1.3 .3l-.7-.5z"/>
<path color="#0018ff" d="M215.5 267l1.7-.1l.8 1.6l-1.7 .2z"/>
<path color="#0033ff" d="M229.1 269.3l1.7-1.2l1.5 .8l-1.7 1.4z"/>
<path color="#3f00ff" d="M206.9 263.4l1.7 .2l.9 1.8l-1.7-.1z"/>
<path color="#003eff" d="M224 268.8l1.7-.6l1.6 2.1l-1.7 .8z"/>
<path color="#00ff2b" d="M266.9 285.4l1.8 1.1l1.4 .2l-1.8-1.1z"/>
<path color="#00b5ff" d="M251.2 273.3l1.8 2l1.4 .2l-1.8-2z"/>
<path color="#007fff" d="M249.4 271.1l1.8 2.3l1.4 .1l-1.8-2.3z"/>
<path color="#0028ff" d="M219.8 268.2l1.7-.3l.8 1.4l-1.7 .4z"/>
<path color="#00e1ff" d="M253 275.3l1.8 1.7l1.4 .2l-1.8-1.8z"/>
<path color="#003eff" d="M247.6 268.4l1.8 2.7l1.4 .1l-1.8-2.8z"/>
<path color="#00fff7" d="M254.8 277.1l1.8 1.6l1.4 .2l-1.8-1.6z"/>
<path color="#00ff1b" d="M268.7 286.6l1.8 1.1l1.4 .2l-1.8-1.1z"/>
<path color="#00ffd7" d="M256.6 278.6l1.8 1.5l1.4 .2l-1.8-1.5z"/>
<path color="#1f00ff" d="M212.9 265.4l1.7 0l.8 1.6l-1.7 .1z"/>
<path color="#4a00ff" d="M208.6 263.6l1.7 .1l.9 1.7l-1.7-.1z"/>
<path color="#1900ff" d="M245.8 264.9l1.8 3.5l1.5 0l-1.8-3.6z"/>
<path color="#e800ff" d="M244.5 257l.9 2.9l1.5-.5l-.9-3.3z"/>
<path color="#0002ff" d="M217.2 266.9l1.7-.2l.8 1.5l-1.7 .3z"/>
<path color="#00ffbc" d="M258.4 280.1l1.8 1.4l1.4 .2l-1.8-1.4z"/>
<path color="#ff00e0" d="M242.8 257.1l.9-1.6l1.5-1.2l-.9 2z"/>
<path color="#00ff05" d="M270.5 287.7l1.8 1.1l1.3 .2l-1.8-1.1z"/>
<path color="#2f00ff" d="M234 266.9l1.7-2.5l1.5-.1l-1.7 2.6z"/>
<path color="#8600ff" d="M237.2 264.4l1.7-3.7l1.5-.5l-1.7 4z"/>
<path color="#00ffa1" d="M260.2 281.5l1.8 1.3l1.4 .3l-1.8-1.3z"/>
<path color="#000dff" d="M221.5 267.9l1.7-.4l.8 1.3l-1.7 .5z"/>
<path color="#0012ff" d="M225.8 268.2l1.7-.8l1.6 1.9l-1.7 1z"/>
<path color="#dd00ff" d="M240.4 260.3l.9-2.3l1.5-.8l-.9 2.7z"/>
<path color="#0bff00" d="M272.3 288.7l1.8 1l1.3 .2l-1.8-1z"/>
<path color="#ff00d5" d="M243.6 255.5l.9 1.4l1.5-.9l-.9-1.7z"/>
<path color="#0e00ff" d="M230.8 268l1.7-1.6l1.5 .6l-1.7 1.8z"/>
<path color="#00ff86" d="M262 282.8l1.8 1.2l1.4 .3l-1.8-1.2z"/>
<path color="#5500ff" d="M210.4 263.7l1.7 .1l.9 1.6l-1.7 0z"/>
<path color="#2f00ff" d="M214.7 265.4l1.7 0l.8 1.5l-1.7 .1z"/>
<path color="#8b00ff" d="M244 260.3l1.8 4.6l1.5-.1l-1.8-5z"/>
<path color="#1bff00" d="M274.2 289.8l1.8 1l1.3 .2l-1.8-1z"/>
<path color="#1900ff" d="M218.9 266.7l1.7-.2l.8 1.4l-1.7 .3z"/>
<path color="#00ff71" d="M263.8 284l1.8 1.2l1.4 .3l-1.8-1.2z"/>
<path color="#26ff00" d="M276 290.8l.7 .4l1.3 .2l-.7-.4z"/>
<path color="#00ff5b" d="M265.6 285.2l1.8 1.1l1.4 .3l-1.8-1.1z"/>
<path color="#0084ff" d="M249.7 273.1l1.8 1.9l1.4 .3l-1.8-2z"/>
<path color="#1400ff" d="M223.2 267.5l1.7-.5l.8 1.2l-1.7 .6z"/>
<path color="#0053ff" d="M247.9 270.9l1.8 2.2l1.4 .2l-1.8-2.3z"/>
<path color="#00b0ff" d="M251.5 275l1.8 1.7l1.4 .3l-1.8-1.7z"/>
<path color="#6500ff" d="M212.1 263.8l1.7 .1l.8 1.5l-1.7 0z"/>
<path color="#0012ff" d="M246.1 268.3l1.8 2.6l1.5 .2l-1.8-2.7z"/>
<path color="#ff00da" d="M241.3 258l.9-1.3l1.5-1.2l-.9 1.6z"/>
<path color="#4500ff" d="M216.4 265.4l1.7-.1l.8 1.4l-1.7 .2z"/>
<path color="#1f00ff" d="M227.5 267.4l1.7-1l1.6 1.7l-1.7 1.2z"/>
<path color="#00d6ff" d="M253.3 276.7l1.8 1.6l1.4 .3l-1.8-1.6z"/>
<path color="#f800ff" d="M243.1 257.9l.9 2.4l1.5-.5l-.9-2.9z"/>
<path color="#00ff4b" d="M267.4 286.3l1.8 1.1l1.4 .3l-1.8-1.1z"/>
<path color="#00f6ff" d="M255.1 278.3l1.8 1.4l1.4 .4l-1.8-1.5z"/>
<path color="#3400ff" d="M220.7 266.5l1.7-.3l.8 1.3l-1.7 .4z"/>
<path color="#3f00ff" d="M244.3 265l1.8 3.3l1.5 .1l-1.8-3.5z"/>
<path color="#ff00d0" d="M242.2 256.7l.9 1.2l1.5-.9l-.9-1.4z"/>
<path color="#ed00ff" d="M239 260.8l.9-1.9l1.5-.9l-.9 2.3z"/>
<path color="#00ffed" d="M256.9 279.7l1.8 1.4l1.4 .4l-1.8-1.4z"/>
<path color="#a100ff" d="M235.7 264.5l1.7-3.2l1.5-.5l-1.7 3.7z"/>
<path color="#00ff3b" d="M269.2 287.4l1.8 1.1l1.4 .3l-1.8-1.1z"/>
<path color="#6000ff" d="M232.5 266.4l1.7-2.1l1.5 .2l-1.7 2.5z"/>
<path color="#7600ff" d="M213.8 263.9l1.7 .1l.8 1.4l-1.7 0z"/>
<path color="#00ffd2" d="M258.7 281.1l1.8 1.3l1.4 .4l-1.8-1.3z"/>
<path color="#3a00ff" d="M224.9 266.9l1.7-.7l.8 1.1l-1.7 .8z"/>
<path color="#5a00ff" d="M218.1 265.3l1.7-.1l.8 1.3l-1.7 .2z"/>
<path color="#00ff2b" d="M271 288.4l1.8 1l1.4 .3l-1.8-1z"/>
<path color="#ac00ff" d="M242.5 260.9l1.8 4.1l1.5-.1l-1.8-4.6z"/>
<path color="#00ffbc" d="M260.5 282.4l1.8 1.2l1.4 .4l-1.8-1.2z"/>
<path color="#5000ff" d="M222.4 266.1l1.7-.4l.8 1.2l-1.7 .5z"/>
<path color="#5500ff" d="M229.2 266.3l1.7-1.3l1.6 1.3l-1.7 1.6z"/>
<path color="#00ff1b" d="M272.8 289.5l1.8 1l1.3 .3l-1.8-1z"/>
<path color="#00ffa7" d="M262.4 283.6l1.8 1.2l1.4 .4l-1.8-1.2z"/>
<path color="#8600ff" d="M215.5 263.9l1.7 0l.8 1.3l-1.7 .1z"/>
<path color="#ff00d5" d="M239.8 258.8l.9-.9l1.5-1.2l-.9 1.3z"/>
<path color="#00ff10" d="M274.6 290.5l.7 .4l1.3 .3l-.7-.4z"/>
<path color="#ff00f6" d="M241.6 258.8l.9 2l1.5-.5l-.9-2.4z"/>
<path color="#7000ff" d="M219.8 265.1l1.7-.2l.8 1.2l-1.7 .3z"/>
<path color="#0023ff" d="M246.5 270.7l1.8 2.1l1.5 .3l-1.8-2.2z"/>
<path color="#0053ff" d="M248.3 272.8l1.8 1.9l1.5 .4l-1.8-1.9z"/>
<path color="#00ff91" d="M264.2 284.7l1.8 1.1l1.4 .4l-1.8-1.1z"/>
<path color="#ff00ca" d="M240.7 257.9l.9 .9l1.5-1l-.9-1.2z"/>
<path color="#1900ff" d="M244.7 268.2l1.8 2.5l1.5 .2l-1.8-2.6z"/>
<path color="#0079ff" d="M250.1 274.6l1.8 1.7l1.4 .4l-1.8-1.7z"/>
<path color="#6500ff" d="M226.7 266.3l1.7-.8l.8 .9l-1.7 1z"/>
<path color="#fe00ff" d="M237.5 261.3l.9-1.5l1.5-.9l-.9 1.9z"/>
<path color="#00a0ff" d="M251.9 276.3l1.8 1.5l1.4 .5l-1.8-1.6z"/>
<path color="#6500ff" d="M242.9 265.1l1.8 3l1.5 .1l-1.8-3.3z"/>
<path color="#00ff81" d="M266 285.9l1.8 1.1l1.4 .4l-1.8-1.1z"/>
<path color="#7600ff" d="M224.1 265.7l1.7-.5l.8 1l-1.7 .7z"/>
<path color="#9600ff" d="M217.3 264l1.7 0l.8 1.2l-1.7 .1z"/>
<path color="#c200ff" d="M234.2 264.2l1.7-2.5l1.5-.4l-1.7 3.2z"/>
<path color="#00c0ff" d="M253.7 277.8l1.8 1.4l1.4 .5l-1.8-1.4z"/>
<path color="#00ff71" d="M267.8 286.9l1.8 1l1.4 .5l-1.8-1.1z"/>
<path color="#00dbff" d="M255.5 279.2l1.8 1.3l1.4 .5l-1.8-1.4z"/>
<path color="#8b00ff" d="M221.6 264.9l1.7-.3l.8 1l-1.7 .4z"/>
<path color="#9c00ff" d="M230.9 265.1l1.7-1.5l1.5 .7l-1.7 2.1z"/>
<path color="#c700ff" d="M241 261.5l1.8 3.6l1.5-.1l-1.8-4.1z"/>
<path color="#00f1ff" d="M257.3 280.5l1.8 1.2l1.4 .6l-1.8-1.3z"/>
<path color="#ff00d0" d="M238.3 259.7l.9-.7l1.5-1.2l-.9 .9z"/>
<path color="#00ff61" d="M269.6 288l1.8 1l1.4 .5l-1.8-1z"/>
<path color="#ac00ff" d="M219 264l1.7 0l.8 1l-1.7 .2z"/>
<path color="#9600ff" d="M228.4 265.4l1.7-1l.8 .7l-1.7 1.3z"/>
<path color="#ff00eb" d="M240.1 259.8l.9 1.6l1.5-.6l-.9-2z"/>
<path color="#00fff7" d="M259.1 281.8l1.8 1.2l1.4 .6l-1.8-1.2z"/>
<path color="#9c00ff" d="M225.9 265.2l1.7-.6l.8 .8l-1.7 .8z"/>
<path color="#ff00c5" d="M239.2 259.1l.9 .8l1.5-1l-.9-.9z"/>
<path color="#00ff51" d="M271.4 289l1.8 1l1.4 .5l-1.8-1z"/>
<path color="#a700ff" d="M223.3 264.7l1.7-.3l.8 .9l-1.7 .5z"/>
<path color="#00ffe2" d="M260.9 283l1.8 1.1l1.4 .6l-1.8-1.2z"/>
<path color="#ff00f0" d="M236 261.7l.9-1.1l1.5-.9l-.9 1.5z"/>
<path color="#00ff46" d="M273.3 290l.7 .4l1.4 .5l-.7-.4z"/>
<path color="#1400ff" d="M245 270.2l1.8 2l1.5 .5l-1.8-2.1z"/>
<path color="#4a00ff" d="M243.2 267.9l1.8 2.3l1.5 .4l-1.8-2.5z"/>
<path color="#001dff" d="M246.8 272.3l1.8 1.8l1.5 .6l-1.8-1.9z"/>
<path color="#00ffcc" d="M262.8 284.1l1.8 1.1l1.4 .6l-1.8-1.1z"/>
<path color="#c200ff" d="M220.8 263.9l1.8-.1l.8 .8l-1.7 .3z"/>
<path color="#0043ff" d="M248.6 274l1.8 1.6l1.5 .7l-1.8-1.7z"/>
<path color="#8b00ff" d="M241.4 265.2l1.8 2.7l1.5 .2l-1.8-3z"/>
<path color="#e800ff" d="M232.7 263.5l1.8-1.5l1.5-.3l-1.7 2.5z"/>
<path color="#0064ff" d="M250.4 275.6l1.8 1.5l1.5 .7l-1.8-1.5z"/>
<path color="#00ffbc" d="M264.6 285.2l1.8 1.1l1.4 .7l-1.8-1.1z"/>
<path color="#c200ff" d="M227.6 264.6l1.8-.7l.8 .5l-1.7 1z"/>
<path color="#d200ff" d="M230.2 264.4l1.8-1.1l.8 .3l-1.7 1.5z"/>
<path color="#ff00ca" d="M236.8 260.6l.9-.4l1.5-1.2l-.9 .7z"/>
<path color="#007fff" d="M252.2 277.1l1.8 1.4l1.4 .8l-1.8-1.4z"/>
<path color="#e200ff" d="M239.5 262.1l1.8 3l1.5-.1l-1.8-3.6z"/>
<path color="#c700ff" d="M225.1 264.4l1.8-.4l.8 .6l-1.7 .6z"/>
<path color="#00ffac" d="M266.4 286.3l1.8 1l1.4 .7l-1.8-1z"/>
<path color="#009aff" d="M254.1 278.5l1.8 1.3l1.4 .8l-1.8-1.3z"/>
<path color="#ff00e0" d="M238.6 260.9l.9 1.3l1.5-.7l-.9-1.6z"/>
<path color="#ff00c5" d="M237.7 260.3l.9 .6l1.5-1l-.9-.8z"/>
<path color="#d700ff" d="M222.5 263.8l1.8-.1l.8 .6l-1.7 .3z"/>
<path color="#00b5ff" d="M255.9 279.7l1.8 1.2l1.4 .8l-1.8-1.2z"/>
<path color="#00ff9c" d="M268.2 287.3l1.8 1l1.4 .7l-1.8-1z"/>
<path color="#ff00da" d="M234.4 262l.9-.5l1.5-.9l-.9 1.1z"/>
<path color="#00cbff" d="M257.7 281l1.8 1.2l1.4 .9l-1.8-1.2z"/>
<path color="#f300ff" d="M229.4 263.9l1.8-.7l.8 .1l-1.8 1.1z"/>
<path color="#e800ff" d="M226.8 264l1.8-.4l.8 .3l-1.8 .7z"/>
<path color="#00ff8c" d="M270.1 288.3l1.8 1l1.4 .7l-1.8-1z"/>
<path color="#ff00f6" d="M231.9 263.3l1.8-1l.8-.3l-1.8 1.5z"/>
<path color="#ed00ff" d="M224.3 263.7l1.8-.1l.8 .4l-1.8 .4z"/>
<path color="#00dbff" d="M259.5 282.1l1.8 1.1l1.4 .9l-1.8-1.1z"/>
<path color="#00ff81" d="M271.9 289.3l.7 .4l1.4 .7l-.7-.4z"/>
<path color="#ff00c5" d="M235.3 261.5l.9-.1l1.5-1.2l-.9 .4z"/>
<path color="#8100ff" d="M241.7 267.3l1.8 2.1l1.5 .9l-1.8-2.3z"/>
<path color="#5000ff" d="M243.5 269.4l1.8 1.9l1.5 1l-1.8-2z"/>
<path color="#bc00ff" d="M239.8 265l1.8 2.3l1.5 .6l-1.8-2.7z"/>
<path color="#2400ff" d="M245.3 271.2l1.8 1.7l1.5 1.1l-1.8-1.8z"/>
<path color="#00f1ff" d="M261.4 283.2l1.8 1.1l1.4 .9l-1.8-1.1z"/>
<path color="#ff00bf" d="M236.2 261.5l.9 .4l1.5-1l-.9-.6z"/>
<path color="#fe00ff" d="M238 262.8l1.8 2.2l1.5 .2l-1.8-3z"/>
<path color="#0400ff" d="M247.1 272.9l1.8 1.5l1.5 1.2l-1.8-1.6z"/>
<path color="#ff00d0" d="M237.1 261.9l.9 .8l1.5-.6l-.9-1.3z"/>
<path color="#001dff" d="M249 274.5l1.8 1.4l1.5 1.2l-1.8-1.5z"/>
<path color="#ff00f6" d="M228.6 263.6l1.8-.3l.8-.1l-1.8 .7z"/>
<path color="#00fffd" d="M263.2 284.3l1.8 1l1.4 .9l-1.8-1.1z"/>
<path color="#ff00d0" d="M233.7 262.3l.9-.2l.8-.5l-.9 .5z"/>
<path color="#ff00f6" d="M226 263.6l1.8-.1l.8 .1l-1.8 .4z"/>
<path color="#ff00e5" d="M231.1 263.2l1.8-.5l.8-.4l-1.8 1z"/>
<path color="#0038ff" d="M250.8 275.9l1.8 1.3l1.5 1.2l-1.8-1.4z"/>
<path color="#00ffed" d="M265 285.3l1.8 1l1.4 1l-1.8-1z"/>
<path color="#ff00bf" d="M234.6 262l.9 .1l.8-.6l-.9 .1z"/>
<path color="#0053ff" d="M252.6 277.2l1.8 1.3l1.5 1.3l-1.8-1.3z"/>
<path color="#ff00bf" d="M235.5 262.1l.9 .4l.8-.6l-.9-.4z"/>
<path color="#ff00ca" d="M232.9 262.6l.9-.1l.8-.5l-.9 .2z"/>
<path color="#0069ff" d="M254.4 278.5l1.8 1.2l1.4 1.3l-1.8-1.2z"/>
<path color="#00ffe2" d="M266.9 286.4l1.8 1l1.4 1l-1.8-1z"/>
<path color="#ff00e0" d="M227.8 263.5l1.8 0l.8-.2l-1.8 .3z"/>
<path color="#ff00d5" d="M230.4 263.2l1.8-.1l.8-.4l-1.8 .5z"/>
<path color="#ff00ca" d="M236.4 262.5l.9 .7l.8-.4l-.9-.8z"/>
<path color="#ff00eb" d="M237.3 263.1l1.8 1.8l.8 0l-1.8-2.2z"/>
<path color="#e200ff" d="M239.1 265l1.8 2l.8 .3l-1.8-2.3z"/>
<path color="#b100ff" d="M240.9 267l1.8 1.9l.8 .5l-1.8-2.1z"/>
<path color="#8600ff" d="M242.7 268.9l1.8 1.8l.8 .6l-1.8-1.9z"/>
<path color="#007fff" d="M256.3 279.7l1.8 1.1l1.4 1.3l-1.8-1.2z"/>
<path color="#ff00bf" d="M233.8 262.6l.9 .1l.8-.6l-.9-.1z"/>
<path color="#00ffd2" d="M268.7 287.3l1.8 1l1.4 1l-1.8-1z"/>
<path color="#6000ff" d="M244.6 270.6l1.8 1.6l.7 .7l-1.8-1.7z"/>
<path color="#3f00ff" d="M246.4 272.3l1.8 1.5l.7 .7l-1.8-1.5z"/>
<path color="#ff00bf" d="M234.7 262.7l.9 .3l.8-.6l-.9-.4z"/>
<path color="#008fff" d="M258.1 280.8l1.8 1.1l1.4 1.3l-1.8-1.1z"/>
<path color="#ff00c5" d="M232.1 263.1l.9 .1l.8-.6l-.9 .1z"/>
<path color="#00ffc7" d="M270.5 288.3l.7 .4l1.4 1l-.7-.4z"/>
<path color="#1f00ff" d="M248.2 273.7l1.8 1.4l.7 .8l-1.8-1.4z"/>
<path color="#ff00c5" d="M235.6 263l.9 .5l.8-.4l-.9-.7z"/>
<path color="#ff00ca" d="M229.6 263.5l1.8 .1l.8-.5l-1.8 .1z"/>
<path color="#ff00da" d="M236.5 263.6l1.8 1.4l.8-.1l-1.8-1.8z"/>
<path color="#ff00bf" d="M233 263.1l.9 .2l.8-.6l-.9-.1z"/>
<path color="#00a0ff" d="M259.9 281.9l1.8 1.1l1.4 1.3l-1.8-1.1z"/>
<path color="#0400ff" d="M250 275.1l1.8 1.3l.7 .8l-1.8-1.3z"/>
<path color="#fe00ff" d="M238.3 265l1.8 1.7l.8 .3l-1.8-2z"/>
<path color="#d200ff" d="M240.2 266.7l1.8 1.7l.8 .5l-1.8-1.9z"/>
<path color="#ff00bf" d="M233.9 263.3l.9 .3l.8-.6l-.9-.3z"/>
<path color="#ac00ff" d="M242 268.4l1.8 1.6l.8 .6l-1.8-1.8z"/>
<path color="#ff00bf" d="M231.4 263.6l.9 .1l.8-.6l-.9-.1z"/>
<path color="#0012ff" d="M251.9 276.5l1.8 1.2l.7 .8l-1.8-1.3z"/>
<path color="#00b0ff" d="M261.8 283l1.8 1l1.4 1.3l-1.8-1z"/>
<path color="#ff00c5" d="M234.8 263.6l.9 .4l.8-.5l-.9-.5z"/>
<path color="#8600ff" d="M243.8 270l1.8 1.5l.8 .7l-1.8-1.6z"/>
<path color="#ff00bf" d="M232.3 263.7l.9 .2l.8-.6l-.9-.2z"/>
<path color="#0028ff" d="M253.7 277.7l1.8 1.2l.7 .8l-1.8-1.2z"/>
<path color="#6b00ff" d="M245.6 271.5l1.8 1.4l.7 .8l-1.8-1.5z"/>
<path color="#ff00d0" d="M235.8 264.1l1.8 1.1l.8-.2l-1.8-1.4z"/>
<path color="#00c0ff" d="M263.6 284l1.8 1l1.4 1.3l-1.8-1z"/>
<path color="#ff00bf" d="M233.2 263.9l.9 .3l.8-.6l-.9-.3z"/>
<path color="#5000ff" d="M247.5 272.9l1.8 1.3l.7 .9l-1.8-1.4z"/>
<path color="#ff00f0" d="M237.6 265.2l1.8 1.4l.8 .1l-1.8-1.7z"/>
<path color="#003eff" d="M255.5 278.9l1.8 1.1l.7 .8l-1.8-1.1z"/>
<path color="#00d0ff" d="M265.5 285l1.8 1l1.4 1.3l-1.8-1z"/>
<path color="#ff00bf" d="M234.1 264.2l.9 .4l.8-.5l-.9-.4z"/>
<path color="#f300ff" d="M239.4 266.6l1.8 1.4l.8 .4l-1.8-1.7z"/>
<path color="#3400ff" d="M249.3 274.3l1.8 1.3l.7 .9l-1.8-1.3z"/>
<path color="#004eff" d="M257.4 280l1.8 1.1l.7 .8l-1.8-1.1z"/>
<path color="#d200ff" d="M241.2 268l1.8 1.4l.8 .6l-1.8-1.6z"/>
<path color="#ff00ca" d="M235 264.6l1.8 .9l.8-.3l-1.8-1.1z"/>
<path color="#1f00ff" d="M251.1 275.5l1.8 1.2l.7 1l-1.8-1.2z"/>
<path color="#00dbff" d="M267.3 286l1.9 1l1.4 1.3l-1.8-1z"/>
<path color="#b100ff" d="M243 269.4l1.8 1.4l.8 .8l-1.8-1.5z"/>
<path color="#005eff" d="M259.2 281.1l1.8 1.1l.7 .9l-1.8-1.1z"/>
<path color="#ff00da" d="M236.8 265.5l1.8 1.1l.8 0l-1.8-1.4z"/>
<path color="#00e6ff" d="M269.2 287l.7 .4l1.4 1.3l-.7-.4z"/>
<path color="#0900ff" d="M253 276.7l1.8 1.1l.7 1l-1.8-1.2z"/>
<path color="#9600ff" d="M244.9 270.7l1.8 1.3l.8 .9l-1.8-1.4z"/>
<path color="#006fff" d="M261.1 282.1l1.8 1l.7 .9l-1.8-1z"/>
<path color="#ff00f6" d="M238.6 266.5l1.8 1.1l.8 .3l-1.8-1.4z"/>
<path color="#7b00ff" d="M246.7 272l1.8 1.2l.7 1l-1.8-1.3z"/>
<path color="#000dff" d="M254.8 277.9l1.8 1.1l.7 1l-1.8-1.1z"/>
<path color="#f300ff" d="M240.5 267.7l1.8 1.2l.8 .5l-1.8-1.4z"/>
<path color="#6500ff" d="M248.5 273.3l1.8 1.2l.7 1.1l-1.8-1.3z"/>
<path color="#007fff" d="M262.9 283.2l1.8 1l.7 .9l-1.8-1z"/>
<path color="#001dff" d="M256.6 279l1.8 1.1l.7 1l-1.8-1.1z"/>
<path color="#dd00ff" d="M242.3 268.8l1.8 1.2l.8 .7l-1.8-1.4z"/>
<path color="#5000ff" d="M250.4 274.5l1.8 1.1l.7 1.1l-1.8-1.2z"/>
<path color="#008fff" d="M264.7 284.2l1.9 1l.7 .9l-1.8-1z"/>
<path color="#002dff" d="M258.5 280.1l1.8 1l.7 1.1l-1.8-1.1z"/>
<path color="#c700ff" d="M244.1 270l1.8 1.1l.8 .9l-1.8-1.3z"/>
<path color="#3f00ff" d="M252.2 275.6l1.8 1.1l.7 1.2l-1.8-1.1z"/>
<path color="#009aff" d="M266.6 285.1l1.9 .9l.7 .9l-1.9-1z"/>
<path color="#003eff" d="M260.3 281.1l1.9 1l.7 1.1l-1.8-1z"/>
<path color="#b100ff" d="M246 271.1l1.8 1.1l.8 1.1l-1.8-1.2z"/>
<path color="#2f00ff" d="M254.1 276.7l1.8 1.1l.7 1.2l-1.8-1.1z"/>
<path color="#00a5ff" d="M268.5 286.1l.7 .4l.7 .9l-.7-.4z"/>
<path color="#9c00ff" d="M247.8 272.2l1.8 1.1l.8 1.2l-1.8-1.2z"/>
<path color="#004eff" d="M262.2 282.1l1.9 1l.7 1.1l-1.8-1z"/>
<path color="#1900ff" d="M255.9 277.7l1.8 1l.7 1.3l-1.8-1.1z"/>
<path color="#8b00ff" d="M249.6 273.3l1.8 1l.7 1.3l-1.8-1.1z"/>
<path color="#0059ff" d="M264 283.1l1.9 1l.7 1.1l-1.9-1z"/>
<path color="#0e00ff" d="M257.8 278.8l1.9 1l.7 1.3l-1.8-1z"/>
<path color="#7b00ff" d="M251.5 274.3l1.8 1l.7 1.4l-1.8-1.1z"/>
<path color="#0064ff" d="M265.9 284l1.9 .9l.7 1.1l-1.9-.9z"/>
<path color="#0002ff" d="M259.6 279.8l1.9 1l.7 1.4l-1.9-1z"/>
<path color="#6b00ff" d="M253.3 275.3l1.9 1l.7 1.5l-1.8-1.1z"/>
<path color="#006fff" d="M267.8 285l.7 .4l.7 1.1l-.7-.4z"/>
<path color="#0012ff" d="M261.5 280.7l1.9 .9l.7 1.4l-1.9-1z"/>
<path color="#5a00ff" d="M255.2 276.3l1.9 .9l.7 1.5l-1.8-1z"/>
<path color="#001dff" d="M263.3 281.7l1.9 .9l.7 1.4l-1.9-1z"/>
<path color="#5000ff" d="M257 277.2l1.9 .9l.7 1.6l-1.9-1z"/>
<path color="#0028ff" d="M265.2 282.6l1.9 .9l.7 1.4l-1.9-.9z"/>
<path color="#3f00ff" d="M258.9 278.2l1.9 .9l.7 1.7l-1.9-1z"/>
<path color="#0033ff" d="M267.1 283.5l.7 .4l.7 1.5l-.7-.4z"/>
<path color="#3400ff" d="M260.8 279.1l1.9 .9l.7 1.7l-1.9-.9z"/>
<path color="#2a00ff" d="M262.6 280l1.9 .9l.7 1.8l-1.9-.9z"/>
<path color="#1f00ff" d="M264.5 280.8l1.9 .9l.7 1.8l-1.9-.9z"/>
<path color="#1900ff" d="M266.4 281.7l.8 .3l.7 1.8l-.7-.4z"/>
</g>
<polyline points="198.7,307.8 271.4,331.5" fill="none" stroke="#555" stroke-width="0.5"/>
<polyline points="271.4,331.5 310.1,291.9" fill="none" stroke="#555" stroke-width="0.5"/>
<polyline points="310.1,291.9 312.5,238.4" fill="none" stroke="#555" stroke-width="0.5"/>
<line x1="202.6" y1="309.1" x2="201.3" y2="310.2" stroke="#555" stroke-width=".4"/>
<text x="199.6" y="321.1" font-size="4.95" text-anchor="middle" fill="#484848">0</text>
<line x1="210.9" y1="311.8" x2="209.6" y2="313" stroke="#555" stroke-width=".4"/>
<text x="207.9" y="323.8" font-size="4.95" text-anchor="middle" fill="#484848">50</text>
<line x1="219.4" y1="314.5" x2="218" y2="315.7" stroke="#555" stroke-width=".4"/>
<text x="216.4" y="326.5" font-size="4.95" text-anchor="middle" fill="#484848">100</text>
<line x1="227.9" y1="317.3" x2="226.6" y2="318.5" stroke="#555" stroke-width=".4"/>
<text x="224.9" y="329.3" font-size="4.95" text-anchor="middle" fill="#484848">150</text>
<line x1="236.5" y1="320.1" x2="235.2" y2="321.3" stroke="#555" stroke-width=".4"/>
<text x="233.5" y="332.1" font-size="4.95" text-anchor="middle" fill="#484848">200</text>
<line x1="245.3" y1="323" x2="244" y2="324.2" stroke="#555" stroke-width=".4"/>
<text x="242.3" y="335" font-size="4.95" text-anchor="middle" fill="#484848">250</text>
<line x1="254.1" y1="325.9" x2="252.8" y2="327.1" stroke="#555" stroke-width=".4"/>
<text x="251.1" y="337.9" font-size="4.95" text-anchor="middle" fill="#484848">300</text>
<line x1="263.1" y1="328.8" x2="261.8" y2="330.1" stroke="#555" stroke-width=".4"/>
<text x="260.1" y="340.8" font-size="4.95" text-anchor="middle" fill="#484848">350</text>
<line x1="276.6" y1="326.2" x2="278.8" y2="326.9" stroke="#555" stroke-width=".4"/>
<text x="282.5" y="335.9" font-size="4.95" text-anchor="middle" fill="#484848">200</text>
<line x1="281.9" y1="320.7" x2="284.1" y2="321.4" stroke="#555" stroke-width=".4"/>
<text x="287.8" y="330.4" font-size="4.95" text-anchor="middle" fill="#484848">400</text>
<line x1="287.2" y1="315.4" x2="289.3" y2="316.1" stroke="#555" stroke-width=".4"/>
<text x="293.1" y="325.1" font-size="4.95" text-anchor="middle" fill="#484848">600</text>
<line x1="292.3" y1="310.1" x2="294.4" y2="310.8" stroke="#555" stroke-width=".4"/>
<text x="298.2" y="319.8" font-size="4.95" text-anchor="middle" fill="#484848">800</text>
<line x1="297.2" y1="305" x2="299.3" y2="305.7" stroke="#555" stroke-width=".4"/>
<text x="303.1" y="314.7" font-size="4.95" text-anchor="middle" fill="#484848">1000</text>
<line x1="302.1" y1="300" x2="304.2" y2="300.7" stroke="#555" stroke-width=".4"/>
<text x="308" y="309.7" font-size="4.95" text-anchor="middle" fill="#484848">1200</text>
<line x1="306.9" y1="295.2" x2="308.9" y2="295.8" stroke="#555" stroke-width=".4"/>
<text x="312.8" y="304.9" font-size="4.95" text-anchor="middle" fill="#484848">1400</text>
<line x1="310.1" y1="290.7" x2="311.6" y2="291.1" stroke="#555" stroke-width=".4"/>
<text x="319.4" y="293.3" font-size="4.95" text-anchor="middle" fill="#484848">−100</text>
<line x1="310.6" y1="280.9" x2="312.1" y2="281.3" stroke="#555" stroke-width=".4"/>
<text x="319.9" y="283.5" font-size="4.95" text-anchor="middle" fill="#484848">−80</text>
<line x1="311" y1="270.9" x2="312.5" y2="271.3" stroke="#555" stroke-width=".4"/>
<text x="320.3" y="273.5" font-size="4.95" text-anchor="middle" fill="#484848">−60</text>
<line x1="311.5" y1="260.8" x2="313" y2="261.2" stroke="#555" stroke-width=".4"/>
<text x="320.8" y="263.4" font-size="4.95" text-anchor="middle" fill="#484848">−40</text>
<line x1="312" y1="250.5" x2="313.5" y2="250.9" stroke="#555" stroke-width=".4"/>
<text x="321.3" y="253.1" font-size="4.95" text-anchor="middle" fill="#484848">−20</text>
<line x1="312.4" y1="240" x2="313.9" y2="240.4" stroke="#555" stroke-width=".4"/>
<text x="321.7" y="242.6" font-size="4.95" text-anchor="middle" fill="#484848">0</text>
<text transform="translate(225.3 338.7) rotate(21)" font-size="4.95" text-anchor="middle" fill="#484848">DOA (°)</text>
<text transform="translate(306.2 326) rotate(-44)" font-size="4.95" text-anchor="middle" fill="#484848">Frequency (Hz)</text>
<rect x="237.2" y="211.8" width="78.4" height="23.2" rx="1" fill="#fff" fill-opacity=".8" stroke="#d4d4d4" stroke-width=".5"/>
<line x1="239.5" y1="216.3" x2="249.3" y2="216.3" stroke="#3a3aff" stroke-width=".6" stroke-opacity=".8"/>
<text x="253.3" y="218.3" font-size="4.95" text-anchor="start" fill="#484848">True DOA</text>
<line x1="239.5" y1="223.3" x2="249.3" y2="223.3" stroke="#ff4040" stroke-width=".6" stroke-opacity=".8"/>
<text x="253.3" y="225.3" font-size="4.95" text-anchor="start" fill="#484848">CFCN: -3dB beam width</text>
<line x1="239.5" y1="230.2" x2="249.3" y2="230.2" stroke="#3c963c" stroke-width=".6" stroke-opacity=".8"/>
<text x="253.3" y="232.2" font-size="4.95" text-anchor="start" fill="#484848">MUSIC: -3dB beam width</text>
<rect x="327.4" y="242.2" width="13.4" height="1.2" fill="#ff00c5"/>
<rect x="327.4" y="243.2" width="13.4" height="1.2" fill="#ff00da"/>
<rect x="327.4" y="244.2" width="13.4" height="1.2" fill="#ff00f0"/>
<rect x="327.4" y="245.3" width="13.4" height="1.2" fill="#f800ff"/>
<rect x="327.4" y="246.3" width="13.4" height="1.2" fill="#e200ff"/>
<rect x="327.4" y="247.3" width="13.4" height="1.2" fill="#cd00ff"/>
<rect x="327.4" y="248.3" width="13.4" height="1.2" fill="#b700ff"/>
<rect x="327.4" y="249.3" width="13.4" height="1.2" fill="#a100ff"/>
<rect x="327.4" y="250.4" width="13.4" height="1.2" fill="#8b00ff"/>
<rect x="327.4" y="251.4" width="13.4" height="1.2" fill="#7600ff"/>
<rect x="327.4" y="252.4" width="13.4" height="1.2" fill="#6000ff"/>
<rect x="327.4" y="253.4" width="13.4" height="1.2" fill="#4a00ff"/>
<rect x="327.4" y="254.4" width="13.4" height="1.2" fill="#3400ff"/>
<rect x="327.4" y="255.5" width="13.4" height="1.2" fill="#1f00ff"/>
<rect x="327.4" y="256.5" width="13.4" height="1.2" fill="#0900ff"/>
<rect x="327.4" y="257.5" width="13.4" height="1.2" fill="#000dff"/>
<rect x="327.4" y="258.5" width="13.4" height="1.2" fill="#0023ff"/>
<rect x="327.4" y="259.5" width="13.4" height="1.2" fill="#0038ff"/>
<rect x="327.4" y="260.6" width="13.4" height="1.2" fill="#004eff"/>
<rect x="327.4" y="261.6" width="13.4" height="1.2" fill="#0064ff"/>
<rect x="327.4" y="262.6" width="13.4" height="1.2" fill="#0079ff"/>
<rect x="327.4" y="263.6" width="13.4" height="1.2" fill="#008fff"/>
<rect x="327.4" y="264.6" width="13.4" height="1.2" fill="#00a5ff"/>
<rect x="327.4" y="265.7" width="13.4" height="1.2" fill="#00bbff"/>
<rect x="327.4" y="266.7" width="13.4" height="1.2" fill="#00d0ff"/>
<rect x="327.4" y="267.7" width="13.4" height="1.2" fill="#00e6ff"/>
<rect x="327.4" y="268.7" width="13.4" height="1.2" fill="#00fcff"/>
<rect x="327.4" y="269.7" width="13.4" height="1.2" fill="#00ffed"/>
<rect x="327.4" y="270.8" width="13.4" height="1.2" fill="#00ffd7"/>
<rect x="327.4" y="271.8" width="13.4" height="1.2" fill="#00ffc2"/>
<rect x="327.4" y="272.8" width="13.4" height="1.2" fill="#00ffac"/>
<rect x="327.4" y="273.8" width="13.4" height="1.2" fill="#00ff97"/>
<rect x="327.4" y="274.9" width="13.4" height="1.2" fill="#00ff81"/>
<rect x="327.4" y="275.9" width="13.4" height="1.2" fill="#00ff6c"/>
<rect x="327.4" y="276.9" width="13.4" height="1.2" fill="#00ff56"/>
<rect x="327.4" y="277.9" width="13.4" height="1.2" fill="#00ff41"/>
<rect x="327.4" y="278.9" width="13.4" height="1.2" fill="#00ff2b"/>
<rect x="327.4" y="280" width="13.4" height="1.2" fill="#00ff16"/>
<rect x="327.4" y="281" width="13.4" height="1.2" fill="#00ff00"/>
<rect x="327.4" y="282" width="13.4" height="1.2" fill="#16ff00"/>
<rect x="327.4" y="283" width="13.4" height="1.2" fill="#2bff00"/>
<rect x="327.4" y="284" width="13.4" height="1.2" fill="#41ff00"/>
<rect x="327.4" y="285.1" width="13.4" height="1.2" fill="#56ff00"/>
<rect x="327.4" y="286.1" width="13.4" height="1.2" fill="#6cff00"/>
<rect x="327.4" y="287.1" width="13.4" height="1.2" fill="#82ff00"/>
<rect x="327.4" y="288.1" width="13.4" height="1.2" fill="#97ff00"/>
<rect x="327.4" y="289.1" width="13.4" height="1.2" fill="#adff00"/>
<rect x="327.4" y="290.2" width="13.4" height="1.2" fill="#c3ff00"/>
<rect x="327.4" y="291.2" width="13.4" height="1.2" fill="#d8ff00"/>
<rect x="327.4" y="292.2" width="13.4" height="1.2" fill="#eeff00"/>
<rect x="327.4" y="293.2" width="13.4" height="1.2" fill="#fffb00"/>
<rect x="327.4" y="294.2" width="13.4" height="1.2" fill="#ffe500"/>
<rect x="327.4" y="295.3" width="13.4" height="1.2" fill="#ffcf00"/>
<rect x="327.4" y="296.3" width="13.4" height="1.2" fill="#ffba00"/>
<rect x="327.4" y="297.3" width="13.4" height="1.2" fill="#ffa400"/>
<rect x="327.4" y="298.3" width="13.4" height="1.2" fill="#ff8e00"/>
<rect x="327.4" y="299.3" width="13.4" height="1.2" fill="#ff7900"/>
<rect x="327.4" y="300.4" width="13.4" height="1.2" fill="#ff6300"/>
<rect x="327.4" y="301.4" width="13.4" height="1.2" fill="#ff4e00"/>
<rect x="327.4" y="302.4" width="13.4" height="1.2" fill="#ff3800"/>
<rect x="327.4" y="303.4" width="13.4" height="1.2" fill="#ff2200"/>
<rect x="327.4" y="304.4" width="13.4" height="1.2" fill="#ff0d00"/>
<rect x="327.4" y="305.5" width="13.4" height="1.2" fill="#ff0009"/>
<rect x="327.4" y="306.5" width="13.4" height="1.2" fill="#ff001e"/>
<line x1="340.8" y1="258.5" x2="342.40000000000003" y2="258.5" stroke="#555" stroke-width=".4"/>
<text x="344.4" y="260.5" font-size="4.95" text-anchor="start" fill="#484848">−20</text>
<line x1="340.8" y1="275.0" x2="342.40000000000003" y2="275.0" stroke="#555" stroke-width=".4"/>
<text x="344.4" y="277" font-size="4.95" text-anchor="start" fill="#484848">−40</text>
<line x1="340.8" y1="291.4" x2="342.40000000000003" y2="291.4" stroke="#555" stroke-width=".4"/>
<text x="344.4" y="293.4" font-size="4.95" text-anchor="start" fill="#484848">−60</text>
<text transform="translate(359.5 274.9) rotate(-90)" font-size="4.95" text-anchor="middle" fill="#484848">Beam (dB)</text>
<rect x="388.5" y="213.5" width="156" height="116" fill="#fff"/>
<line x1="404.5" y1="213.5" x2="404.5" y2="329.5" stroke="#cfcfcf" stroke-width="0.5"/>
<line x1="426.1" y1="213.5" x2="426.1" y2="329.5" stroke="#cfcfcf" stroke-width="0.5"/>
<line x1="447.7" y1="213.5" x2="447.7" y2="329.5" stroke="#cfcfcf" stroke-width="0.5"/>
<line x1="469.3" y1="213.5" x2="469.3" y2="329.5" stroke="#cfcfcf" stroke-width="0.5"/>
<line x1="490.9" y1="213.5" x2="490.9" y2="329.5" stroke="#cfcfcf" stroke-width="0.5"/>
<line x1="512.5" y1="213.5" x2="512.5" y2="329.5" stroke="#cfcfcf" stroke-width="0.5"/>
<line x1="534.1" y1="213.5" x2="534.1" y2="329.5" stroke="#cfcfcf" stroke-width="0.5"/>
<line x1="388.5" y1="327.9" x2="544.5" y2="327.9" stroke="#cfcfcf" stroke-width="0.5"/>
<line x1="388.5" y1="314.57" x2="544.5" y2="314.57" stroke="#cfcfcf" stroke-width="0.5"/>
<line x1="388.5" y1="301.24" x2="544.5" y2="301.24" stroke="#cfcfcf" stroke-width="0.5"/>
<line x1="388.5" y1="287.91" x2="544.5" y2="287.91" stroke="#cfcfcf" stroke-width="0.5"/>
<line x1="388.5" y1="274.58" x2="544.5" y2="274.58" stroke="#cfcfcf" stroke-width="0.5"/>
<line x1="388.5" y1="261.25" x2="544.5" y2="261.25" stroke="#cfcfcf" stroke-width="0.5"/>
<line x1="388.5" y1="247.92" x2="544.5" y2="247.92" stroke="#cfcfcf" stroke-width="0.5"/>
<line x1="388.5" y1="234.59" x2="544.5" y2="234.59" stroke="#cfcfcf" stroke-width="0.5"/>
<line x1="388.5" y1="221.26" x2="544.5" y2="221.26" stroke="#cfcfcf" stroke-width="0.5"/>
<line x1="404.5" y1="329.5" x2="404.5" y2="331.1" stroke="#8a8a8a" stroke-width="0.4"/>
<line x1="426.1" y1="329.5" x2="426.1" y2="331.1" stroke="#8a8a8a" stroke-width="0.4"/>
<line x1="447.7" y1="329.5" x2="447.7" y2="331.1" stroke="#8a8a8a" stroke-width="0.4"/>
<line x1="469.3" y1="329.5" x2="469.3" y2="331.1" stroke="#8a8a8a" stroke-width="0.4"/>
<line x1="490.9" y1="329.5" x2="490.9" y2="331.1" stroke="#8a8a8a" stroke-width="0.4"/>
<line x1="512.5" y1="329.5" x2="512.5" y2="331.1" stroke="#8a8a8a" stroke-width="0.4"/>
<line x1="534.1" y1="329.5" x2="534.1" y2="331.1" stroke="#8a8a8a" stroke-width="0.4"/>
<line x1="386.9" y1="327.9" x2="388.5" y2="327.9" stroke="#8a8a8a" stroke-width="0.4"/>
<line x1="386.9" y1="314.57" x2="388.5" y2="314.57" stroke="#8a8a8a" stroke-width="0.4"/>
<line x1="386.9" y1="301.24" x2="388.5" y2="301.24" stroke="#8a8a8a" stroke-width="0.4"/>
<line x1="386.9" y1="287.91" x2="388.5" y2="287.91" stroke="#8a8a8a" stroke-width="0.4"/>
<line x1="386.9" y1="274.58" x2="388.5" y2="274.58" stroke="#8a8a8a" stroke-width="0.4"/>
<line x1="386.9" y1="261.25" x2="388.5" y2="261.25" stroke="#8a8a8a" stroke-width="0.4"/>
<line x1="386.9" y1="247.92" x2="388.5" y2="247.92" stroke="#8a8a8a" stroke-width="0.4"/>
<line x1="386.9" y1="234.59" x2="388.5" y2="234.59" stroke="#8a8a8a" stroke-width="0.4"/>
<line x1="386.9" y1="221.26" x2="388.5" y2="221.26" stroke="#8a8a8a" stroke-width="0.4"/>
<text x="404.5" y="336.4" font-size="4.7" text-anchor="middle" fill="#484848">200</text>
<text x="426.1" y="336.4" font-size="4.7" text-anchor="middle" fill="#484848">400</text>
<text x="447.7" y="336.4" font-size="4.7" text-anchor="middle" fill="#484848">600</text>
<text x="469.3" y="336.4" font-size="4.7" text-anchor="middle" fill="#484848">800</text>
<text x="490.9" y="336.4" font-size="4.7" text-anchor="middle" fill="#484848">1000</text>
<text x="512.5" y="336.4" font-size="4.7" text-anchor="middle" fill="#484848">1200</text>
<text x="534.1" y="336.4" font-size="4.7" text-anchor="middle" fill="#484848">1400</text>
<text x="385.5" y="329.7" font-size="4.7" text-anchor="end" fill="#484848">0</text>
<text x="385.5" y="316.37" font-size="4.7" text-anchor="end" fill="#484848">20</text>
<text x="385.5" y="303.04" font-size="4.7" text-anchor="end" fill="#484848">40</text>
<text x="385.5" y="289.71" font-size="4.7" text-anchor="end" fill="#484848">60</text>
<text x="385.5" y="276.38" font-size="4.7" text-anchor="end" fill="#484848">80</text>
<text x="385.5" y="263.05" font-size="4.7" text-anchor="end" fill="#484848">100</text>
<text x="385.5" y="249.72" font-size="4.7" text-anchor="end" fill="#484848">120</text>
<text x="385.5" y="236.39" font-size="4.7" text-anchor="end" fill="#484848">140</text>
<text x="385.5" y="223.06" font-size="4.7" text-anchor="end" fill="#484848">160</text>
<text x="466.5" y="342.1" font-size="4.7" text-anchor="middle" fill="#484848">Frequency (Hz)</text>
<text transform="translate(373.5 271.5) rotate(-90)" font-size="4.7" text-anchor="middle" fill="#484848">-3dB beam width (°)</text>
<polyline points="388.3,268.58 388.82,271.03 389.35,273.35 389.87,275.55 390.39,277.63 390.92,279.61 391.44,281.52 391.97,283.37 392.49,285.15 393.01,286.84 393.54,288.43 394.06,289.95 394.58,291.41 395.11,292.83 395.63,294.18 396.16,295.48 396.68,296.72 397.2,297.88 397.73,298.99 398.25,300.03 398.77,301 399.3,301.91 399.82,302.81 400.35,303.67 400.87,304.51 401.39,305.3 401.92,306.04 402.44,306.74 402.96,307.38 403.49,307.96 404.01,308.48 404.54,308.93 405.06,309.34 405.58,309.72 406.11,310.08 406.63,310.41 407.15,310.72 407.68,311.01 408.2,311.28 408.73,311.55 409.25,311.8 409.77,312.03 410.3,312.27 410.82,312.49 411.34,312.71 411.87,312.92 412.39,313.12 412.92,313.33 413.44,313.53 413.96,313.73 414.49,313.93 415.01,314.13 415.53,314.33 416.06,314.52 416.58,314.71 417.11,314.9 417.63,315.09 418.15,315.27 418.68,315.45 419.2,315.62 419.72,315.79 420.25,315.96 420.77,316.12 421.3,316.28 421.82,316.43 422.34,316.59 422.87,316.74 423.39,316.88 423.91,317.02 424.44,317.16 424.96,317.29 425.49,317.42 426.01,317.55 426.53,317.67 427.06,317.79 427.58,317.91 428.1,318.02 428.63,318.14 429.15,318.25 429.68,318.36 430.2,318.46 430.72,318.57 431.25,318.67 431.77,318.77 432.29,318.87 432.82,318.97 433.34,319.06 433.87,319.16 434.39,319.25 434.91,319.34 435.44,319.43 435.96,319.52 436.48,319.61 437.01,319.69 437.53,319.78 438.06,319.86 438.58,319.94 439.1,320.03 439.63,320.11 440.15,320.19 440.67,320.26 441.2,320.34 441.72,320.42 442.25,320.49 442.77,320.57 443.29,320.64 443.82,320.71 444.34,320.79 444.86,320.86 445.39,320.93 445.91,321 446.44,321.07 446.96,321.14 447.48,321.21 448.01,321.27 448.53,321.34 449.05,321.41 449.58,321.48 450.1,321.54 450.63,321.61 451.15,321.68 451.67,321.74 452.2,321.81 452.72,321.87 453.24,321.94 453.77,322 454.29,322.06 454.82,322.13 455.34,322.19 455.86,322.25 456.39,322.31 456.91,322.37 457.43,322.43 457.96,322.48 458.48,322.54 459.01,322.6 459.53,322.65 460.05,322.71 460.58,322.76 461.1,322.81 461.62,322.86 462.15,322.91 462.67,322.96 463.2,323.01 463.72,323.06 464.24,323.11 464.77,323.15 465.29,323.2 465.81,323.24 466.34,323.28 466.86,323.32 467.39,323.36 467.91,323.4 468.43,323.44 468.96,323.48 469.48,323.51 470,323.55 470.53,323.59 471.05,323.62 471.58,323.66 472.1,323.69 472.62,323.73 473.15,323.76 473.67,323.8 474.19,323.84 474.72,323.87 475.24,323.9 475.77,323.94 476.29,323.97 476.81,324 477.34,324.04 477.86,324.07 478.38,324.1 478.91,324.13 479.43,324.16 479.96,324.19 480.48,324.22 481,324.24 481.53,324.27 482.05,324.3 482.57,324.32 483.1,324.34 483.62,324.37 484.15,324.39 484.67,324.41 485.19,324.43 485.72,324.45 486.24,324.47 486.76,324.48 487.29,324.5 487.81,324.51 488.34,324.52 488.86,324.53 489.38,324.54 489.91,324.55 490.43,324.56 490.95,324.57 491.48,324.57 492,324.58 492.53,324.59 493.05,324.59 493.57,324.6 494.1,324.6 494.62,324.61 495.14,324.61 495.67,324.62 496.19,324.62 496.72,324.63 497.24,324.63 497.76,324.64 498.29,324.64 498.81,324.64 499.33,324.65 499.86,324.65 500.38,324.66 500.91,324.66 501.43,324.66 501.95,324.67 502.48,324.67 503,324.67 503.52,324.68 504.05,324.68 504.57,324.68 505.1,324.68 505.62,324.69 506.14,324.69 506.67,324.69 507.19,324.69 507.71,324.69 508.24,324.7 508.76,324.7 509.29,324.7 509.81,324.7 510.33,324.7 510.86,324.7 511.38,324.7 511.9,324.7 512.43,324.7 512.95,324.7 513.48,324.7 514,324.7 514.52,324.7 515.05,324.7 515.57,324.7 516.09,324.7 516.62,324.7 517.14,324.7 517.67,324.7 518.19,324.7 518.71,324.7 519.24,324.7 519.76,324.69 520.28,324.69 520.81,324.69 521.33,324.69 521.86,324.69 522.38,324.69 522.9,324.69 523.43,324.69 523.95,324.68 524.47,324.68 525,324.68 525.52,324.68 526.05,324.68 526.57,324.68 527.09,324.67 527.62,324.67 528.14,324.67 528.66,324.67 529.19,324.67 529.71,324.66 530.24,324.66 530.76,324.66 531.28,324.66 531.81,324.65 532.33,324.65 532.85,324.65 533.38,324.65 533.9,324.64 534.43,324.64 534.95,324.64 535.47,324.63 536,324.63 536.52,324.63 537.04,324.62 537.57,324.62 538.09,324.62 538.62,324.61 539.14,324.61 539.66,324.61 540.19,324.6 540.71,324.6 541.23,324.6 541.76,324.59 542.28,324.59 542.81,324.58 543.33,324.58 543.85,324.58 544.38,324.57 544.9,324.57" fill="none" stroke="#ff3030" stroke-width="1.1" stroke-opacity="0.9" stroke-linejoin="round"/>
<polyline points="388.3,219.26 388.82,227.42 389.35,234.68 389.87,241.19 390.39,247.09 390.92,252.46 391.44,257.43 391.97,262.06 392.49,266.32 393.01,270.17 393.54,273.6 394.06,276.68 394.58,279.58 395.11,282.31 395.63,284.85 396.16,287.21 396.68,289.37 397.2,291.34 397.73,293.12 398.25,294.72 398.77,296.12 399.3,297.36 399.82,298.48 400.35,299.52 400.87,300.48 401.39,301.36 401.92,302.17 402.44,302.91 402.96,303.59 403.49,304.21 404.01,304.77 404.54,305.27 405.06,305.74 405.58,306.16 406.11,306.56 406.63,306.94 407.15,307.29 407.68,307.62 408.2,307.93 408.73,308.22 409.25,308.5 409.77,308.77 410.3,309.03 410.82,309.28 411.34,309.53 411.87,309.76 412.39,310 412.92,310.23 413.44,310.45 413.96,310.67 414.49,310.9 415.01,311.12 415.53,311.34 416.06,311.55 416.58,311.76 417.11,311.97 417.63,312.17 418.15,312.37 418.68,312.56 419.2,312.75 419.72,312.94 420.25,313.12 420.77,313.3 421.3,313.47 421.82,313.64 422.34,313.81 422.87,313.97 423.39,314.13 423.91,314.29 424.44,314.44 424.96,314.59 425.49,314.74 426.01,314.88 426.53,315.02 427.06,315.16 427.58,315.29 428.1,315.42 428.63,315.55 429.15,315.68 429.68,315.8 430.2,315.92 430.72,316.04 431.25,316.16 431.77,316.28 432.29,316.39 432.82,316.5 433.34,316.61 433.87,316.72 434.39,316.83 434.91,316.94 435.44,317.04 435.96,317.14 436.48,317.25 437.01,317.35 437.53,317.45 438.06,317.55 438.58,317.64 439.1,317.74 439.63,317.84 440.15,317.93 440.67,318.03 441.2,318.12 441.72,318.21 442.25,318.31 442.77,318.4 443.29,318.49 443.82,318.58 444.34,318.67 444.86,318.76 445.39,318.85 445.91,318.94 446.44,319.02 446.96,319.11 447.48,319.2 448.01,319.29 448.53,319.37 449.05,319.46 449.58,319.55 450.1,319.64 450.63,319.73 451.15,319.81 451.67,319.9 452.2,319.99 452.72,320.07 453.24,320.16 453.77,320.25 454.29,320.33 454.82,320.42 455.34,320.5 455.86,320.58 456.39,320.67 456.91,320.75 457.43,320.83 457.96,320.91 458.48,320.99 459.01,321.07 459.53,321.14 460.05,321.22 460.58,321.3 461.1,321.37 461.62,321.44 462.15,321.51 462.67,321.58 463.2,321.65 463.72,321.72 464.24,321.79 464.77,321.86 465.29,321.92 465.81,321.98 466.34,322.04 466.86,322.1 467.39,322.16 467.91,322.22 468.43,322.28 468.96,322.33 469.48,322.39 470,322.44 470.53,322.49 471.05,322.55 471.58,322.6 472.1,322.65 472.62,322.7 473.15,322.75 473.67,322.8 474.19,322.85 474.72,322.9 475.24,322.95 475.77,323 476.29,323.05 476.81,323.1 477.34,323.15 477.86,323.19 478.38,323.24 478.91,323.28 479.43,323.33 479.96,323.37 480.48,323.41 481,323.45 481.53,323.49 482.05,323.53 482.57,323.57 483.1,323.61 483.62,323.64 484.15,323.68 484.67,323.71 485.19,323.75 485.72,323.78 486.24,323.81 486.76,323.84 487.29,323.87 487.81,323.9 488.34,323.92 488.86,323.95 489.38,323.97 489.91,323.99 490.43,324.02 490.95,324.04 491.48,324.06 492,324.08 492.53,324.1 493.05,324.12 493.57,324.14 494.1,324.16 494.62,324.18 495.14,324.2 495.67,324.21 496.19,324.23 496.72,324.25 497.24,324.27 497.76,324.29 498.29,324.31 498.81,324.32 499.33,324.34 499.86,324.36 500.38,324.37 500.91,324.39 501.43,324.4 501.95,324.42 502.48,324.43 503,324.44 503.52,324.46 504.05,324.47 504.57,324.48 505.1,324.49 505.62,324.5 506.14,324.51 506.67,324.52 507.19,324.53 507.71,324.53 508.24,324.54 508.76,324.55 509.29,324.55 509.81,324.56 510.33,324.56 510.86,324.56 511.38,324.57 511.9,324.57 512.43,324.57 512.95,324.57 513.48,324.57 514,324.57 514.52,324.57 515.05,324.57 515.57,324.57 516.09,324.57 516.62,324.57 517.14,324.57 517.67,324.57 518.19,324.57 518.71,324.57 519.24,324.57 519.76,324.57 520.28,324.57 520.81,324.56 521.33,324.56 521.86,324.56 522.38,324.56 522.9,324.56 523.43,324.56 523.95,324.56 524.47,324.56 525,324.56 525.52,324.56 526.05,324.56 526.57,324.55 527.09,324.55 527.62,324.55 528.14,324.55 528.66,324.55 529.19,324.55 529.71,324.54 530.24,324.54 530.76,324.54 531.28,324.54 531.81,324.54 532.33,324.53 532.85,324.53 533.38,324.53 533.9,324.52 534.43,324.52 534.95,324.52 535.47,324.52 536,324.51 536.52,324.51 537.04,324.5 537.57,324.5 538.09,324.5 538.62,324.49 539.14,324.49 539.66,324.48 540.19,324.48 540.71,324.48 541.23,324.47 541.76,324.47 542.28,324.46 542.81,324.46 543.33,324.45 543.85,324.45 544.38,324.44 544.9,324.43" fill="none" stroke="#3c903c" stroke-width="1.1" stroke-opacity="0.95" stroke-linejoin="round"/>
<rect x="388.5" y="213.5" width="156" height="116" fill="none" stroke="#8a8a8a" stroke-width="0.6"/>
<rect x="512" y="215.8" width="30" height="14" fill="#fff" stroke="#d4d4d4" stroke-width="0.5" rx="1" fill-opacity="0.85"/>
<line x1="513.5" y1="219.3" x2="523" y2="219.3" stroke="#ff3030" stroke-width="0.9" stroke-opacity="0.9"/>
<text x="526.3" y="220.8" font-size="4.5" fill="#484848">CFCN</text>
<line x1="513.5" y1="225.9" x2="523" y2="225.9" stroke="#3c963c" stroke-width="0.9" stroke-opacity="0.9"/>
<text x="526.3" y="227.4" font-size="4.5" fill="#484848">MUSIC</text>
<text class="c" x="93.25" y="156" font-size="10.8" text-anchor="middle" fill="#262626" font-family='"Liberation Serif","DejaVu Serif",serif' textLength="101.9" xml:space="preserve">(<tspan font-weight="bold">a</tspan>)  The mean OSPAs</text>
<text class="c" x="276.3" y="155.8" font-size="10.8" text-anchor="middle" fill="#262626" font-family='"Liberation Serif","DejaVu Serif",serif' textLength="99.5" xml:space="preserve">(<tspan font-weight="bold">b</tspan>)  Space-frequency</text>
<text class="c" x="276.1" y="170.9" font-size="10.8" text-anchor="middle" fill="#262626" font-family='"Liberation Serif","DejaVu Serif",serif' textLength="130.4" xml:space="preserve">pseudo-spectrum of CFCN</text>
<text class="c" x="276.4" y="186" font-size="10.8" text-anchor="middle" fill="#262626" font-family='"Liberation Serif","DejaVu Serif",serif' textLength="73.7" xml:space="preserve">at SNR = 20 dB</text>
<text class="c" x="458.6" y="155.8" font-size="10.8" text-anchor="middle" fill="#262626" font-family='"Liberation Serif","DejaVu Serif",serif' textLength="96.5" xml:space="preserve">(<tspan font-weight="bold">c</tspan>)  Space-frequency</text>
<text class="c" x="458.6" y="170.9" font-size="10.8" text-anchor="middle" fill="#262626" font-family='"Liberation Serif","DejaVu Serif",serif' textLength="96.5" xml:space="preserve">pseudo-spectrum of</text>
<text class="c" x="458.6" y="186" font-size="10.8" text-anchor="middle" fill="#262626" font-family='"Liberation Serif","DejaVu Serif",serif' textLength="110.2" xml:space="preserve">MUSIC at SNR = 20 dB</text>
<text class="c" x="92.8" y="362.6" font-size="10.8" text-anchor="middle" fill="#262626" font-family='"Liberation Serif","DejaVu Serif",serif' textLength="111.8" xml:space="preserve">(<tspan font-weight="bold">d</tspan>)  Normalized spatial</text>
<text class="c" x="93.05" y="377.85" font-size="10.8" text-anchor="middle" fill="#262626" font-family='"Liberation Serif","DejaVu Serif",serif' textLength="130.9" xml:space="preserve">pseudo-spectrum at SNR =</text>
<text class="c" x="93.6" y="393.1" font-size="10.8" text-anchor="middle" fill="#262626" font-family='"Liberation Serif","DejaVu Serif",serif' textLength="26.2" xml:space="preserve">20 dB</text>
<text class="c" x="276.4" y="362.6" font-size="10.8" text-anchor="middle" fill="#262626" font-family='"Liberation Serif","DejaVu Serif",serif' textLength="82.9" xml:space="preserve">(<tspan font-weight="bold">e</tspan>)  3D display of</text>
<text class="c" x="276.4" y="377.85" font-size="10.8" text-anchor="middle" fill="#262626" font-family='"Liberation Serif","DejaVu Serif",serif' textLength="115.7" xml:space="preserve">pseudo-beam pattern at</text>
<text class="c" x="275.9" y="393.1" font-size="10.8" text-anchor="middle" fill="#262626" font-family='"Liberation Serif","DejaVu Serif",serif' textLength="61.4" xml:space="preserve">SNR = 20 dB</text>
<text class="c" x="458.6" y="362.6" font-size="10.8" text-anchor="middle" fill="#262626" font-family='"Liberation Serif","DejaVu Serif",serif' textLength="125.5" xml:space="preserve">(<tspan font-weight="bold">f</tspan>)  Pseudo-beam width at</text>
<text class="c" x="459.3" y="377.85" font-size="10.8" text-anchor="middle" fill="#262626" font-family='"Liberation Serif","DejaVu Serif",serif' textLength="61.4" xml:space="preserve">SNR = 20 dB</text>
</svg>
</body></html>
